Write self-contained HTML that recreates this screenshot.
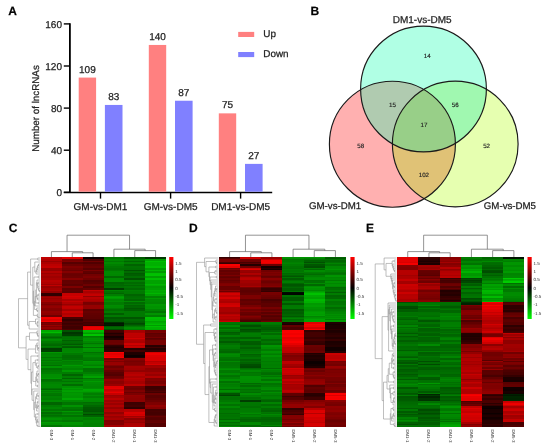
<!DOCTYPE html>
<html><head><meta charset="utf-8"><title>Figure</title>
<style>html,body{margin:0;padding:0;background:#fff;} body{width:550px;height:447px;overflow:hidden;font-family:"Liberation Sans", sans-serif;} svg{display:block;will-change:transform;filter:blur(0.35px);} text{stroke:#222;stroke-width:0.25px;text-rendering:geometricPrecision;} text.t{stroke:none;text-rendering:geometricPrecision;} text.v{stroke-width:0.15px;}</style>
</head><body>
<svg width="550" height="447" viewBox="0 0 550 447" font-family='"Liberation Sans", sans-serif'><text x="8.2" y="15" font-size="12" font-weight="bold">A</text>
<line x1="69.9" y1="23.30" x2="69.9" y2="192.90" stroke="#000" stroke-width="1.8"/>
<line x1="63.8" y1="192.30" x2="69.9" y2="192.30" stroke="#000" stroke-width="1.4"/>
<text x="62" y="196.30" font-size="10" text-anchor="end" fill="#222">0</text>
<line x1="63.8" y1="150.20" x2="69.9" y2="150.20" stroke="#000" stroke-width="1.4"/>
<text x="62" y="154.20" font-size="10" text-anchor="end" fill="#222">40</text>
<line x1="63.8" y1="108.10" x2="69.9" y2="108.10" stroke="#000" stroke-width="1.4"/>
<text x="62" y="112.10" font-size="10" text-anchor="end" fill="#222">80</text>
<line x1="63.8" y1="66.00" x2="69.9" y2="66.00" stroke="#000" stroke-width="1.4"/>
<text x="62" y="70.00" font-size="10" text-anchor="end" fill="#222">120</text>
<line x1="63.8" y1="23.90" x2="69.9" y2="23.90" stroke="#000" stroke-width="1.4"/>
<text x="62" y="27.90" font-size="10" text-anchor="end" fill="#222">160</text>
<line x1="63.8" y1="192.5" x2="272.2" y2="192.5" stroke="#000" stroke-width="1.5"/>
<line x1="100.5" y1="192.3" x2="100.5" y2="198.6" stroke="#000" stroke-width="1.4"/>
<rect x="78.70" y="77.58" width="17.40" height="114.12" fill="#FF8080"/>
<rect x="104.90" y="104.94" width="17.60" height="86.76" fill="#8080FF"/>
<text x="87.40" y="72.68" font-size="10" text-anchor="middle" fill="#222">109</text>
<text x="113.70" y="100.04" font-size="10" text-anchor="middle" fill="#222">83</text>
<text x="100.5" y="209.6" font-size="10" text-anchor="middle" fill="#222">GM-vs-DM1</text>
<line x1="170.6" y1="192.3" x2="170.6" y2="198.6" stroke="#000" stroke-width="1.4"/>
<rect x="148.80" y="44.95" width="17.40" height="146.75" fill="#FF8080"/>
<rect x="175.00" y="100.73" width="17.60" height="90.97" fill="#8080FF"/>
<text x="157.50" y="40.05" font-size="10" text-anchor="middle" fill="#222">140</text>
<text x="183.80" y="95.83" font-size="10" text-anchor="middle" fill="#222">87</text>
<text x="170.6" y="209.6" font-size="10" text-anchor="middle" fill="#222">GM-vs-DM5</text>
<line x1="240.6" y1="192.3" x2="240.6" y2="198.6" stroke="#000" stroke-width="1.4"/>
<rect x="218.80" y="113.36" width="17.40" height="78.34" fill="#FF8080"/>
<rect x="245.00" y="163.88" width="17.60" height="27.82" fill="#8080FF"/>
<text x="227.50" y="108.46" font-size="10" text-anchor="middle" fill="#222">75</text>
<text x="253.80" y="158.98" font-size="10" text-anchor="middle" fill="#222">27</text>
<text x="240.6" y="209.6" font-size="10" text-anchor="middle" fill="#222">DM1-vs-DM5</text>
<text transform="translate(38.6,108.5) rotate(-90)" font-size="9.8" text-anchor="middle" fill="#222">Number of lncRNAs</text>
<rect x="238.2" y="31.9" width="16" height="5.1" fill="#FF8080"/>
<rect x="238.2" y="52" width="16" height="5.1" fill="#8080FF"/>
<text x="263.3" y="37.0" font-size="9.9" fill="#222">Up</text>
<text x="263.3" y="56.8" font-size="9.9" fill="#222">Down</text>
<text x="310.5" y="14.7" font-size="12" font-weight="bold">B</text>
<defs>
<clipPath id="cL"><circle cx="392.4" cy="144.2" r="63.0" /></clipPath>
<clipPath id="cT"><circle cx="423.5" cy="89.0" r="62.9" /></clipPath>
<clipPath id="cR"><circle cx="455.25" cy="144.0" r="62.85" /></clipPath>
</defs>
<circle cx="392.4" cy="144.2" r="63.0" fill="#FFB0B0"/>
<circle cx="423.5" cy="89.0" r="62.9" fill="#B0FFE4"/>
<circle cx="455.25" cy="144.0" r="62.85" fill="#E6FFB0"/>
<g clip-path="url(#cL)"><circle cx="423.5" cy="89.0" r="62.9" fill="#B0CBB0"/></g>
<g clip-path="url(#cT)"><circle cx="455.25" cy="144.0" r="62.85" fill="#A0F8B0"/></g>
<g clip-path="url(#cL)"><circle cx="455.25" cy="144.0" r="62.85" fill="#E0C276"/></g>
<g clip-path="url(#cL)"><g clip-path="url(#cT)"><circle cx="455.25" cy="144.0" r="62.85" fill="#98CF88"/></g></g>
<circle cx="392.4" cy="144.2" r="63.0" fill="none" stroke="#1a1a1a" stroke-width="1.15"/>
<circle cx="423.5" cy="89.0" r="62.9" fill="none" stroke="#1a1a1a" stroke-width="1.15"/>
<circle cx="455.25" cy="144.0" r="62.85" fill="none" stroke="#1a1a1a" stroke-width="1.15"/>
<text class="v" x="427.2" y="57.7" font-size="6.2" text-anchor="middle" fill="#222">14</text>
<text class="v" x="392.5" y="107.3" font-size="6.2" text-anchor="middle" fill="#222">15</text>
<text class="v" x="455.2" y="107.3" font-size="6.2" text-anchor="middle" fill="#222">56</text>
<text class="v" x="424" y="127.3" font-size="6.2" text-anchor="middle" fill="#222">17</text>
<text class="v" x="360.7" y="148.2" font-size="6.2" text-anchor="middle" fill="#222">58</text>
<text class="v" x="486.6" y="148.2" font-size="6.2" text-anchor="middle" fill="#222">52</text>
<text class="v" x="423.9" y="177.3" font-size="6.2" text-anchor="middle" fill="#222">102</text>
<text x="422.2" y="23.2" font-size="10" text-anchor="middle" fill="#222">DM1-vs-DM5</text>
<text x="309" y="209.4" font-size="9.7" fill="#222">GM-vs-DM1</text>
<text x="483.8" y="209.4" font-size="9.7" fill="#222">GM-vs-DM5</text>
<text x="8.8" y="231.6" font-size="12" font-weight="bold">C</text>
<g shape-rendering="crispEdges">
<rect x="41" y="257" width="21" height="2" fill="rgb(192,0,0)"/>
<rect x="62" y="257" width="21" height="2" fill="rgb(225,0,0)"/>
<rect x="83" y="257" width="21" height="2" fill="rgb(13,0,0)"/>
<rect x="104" y="257" width="20" height="2" fill="rgb(0,118,0)"/>
<rect x="124" y="257" width="21" height="2" fill="rgb(0,89,0)"/>
<rect x="145" y="257" width="21" height="2" fill="rgb(0,56,0)"/>
<rect x="41" y="259" width="21" height="2" fill="rgb(178,0,0)"/>
<rect x="62" y="259" width="21" height="2" fill="rgb(118,0,0)"/>
<rect x="83" y="259" width="21" height="2" fill="rgb(76,0,0)"/>
<rect x="104" y="259" width="20" height="2" fill="rgb(0,135,0)"/>
<rect x="124" y="259" width="21" height="2" fill="rgb(0,123,0)"/>
<rect x="145" y="259" width="21" height="2" fill="rgb(0,160,0)"/>
<rect x="41" y="261" width="21" height="1" fill="rgb(151,0,0)"/>
<rect x="62" y="261" width="21" height="1" fill="rgb(126,0,0)"/>
<rect x="83" y="261" width="21" height="1" fill="rgb(112,0,0)"/>
<rect x="104" y="261" width="20" height="1" fill="rgb(0,120,0)"/>
<rect x="124" y="261" width="21" height="1" fill="rgb(0,100,0)"/>
<rect x="145" y="261" width="21" height="1" fill="rgb(0,191,0)"/>
<rect x="41" y="262" width="21" height="2" fill="rgb(173,0,0)"/>
<rect x="62" y="262" width="21" height="2" fill="rgb(87,0,0)"/>
<rect x="83" y="262" width="21" height="2" fill="rgb(80,0,0)"/>
<rect x="104" y="262" width="20" height="2" fill="rgb(0,138,0)"/>
<rect x="124" y="262" width="21" height="2" fill="rgb(0,125,0)"/>
<rect x="145" y="262" width="21" height="2" fill="rgb(0,176,0)"/>
<rect x="41" y="264" width="21" height="2" fill="rgb(188,0,0)"/>
<rect x="62" y="264" width="21" height="2" fill="rgb(106,0,0)"/>
<rect x="83" y="264" width="21" height="2" fill="rgb(98,0,0)"/>
<rect x="104" y="264" width="20" height="2" fill="rgb(0,127,0)"/>
<rect x="124" y="264" width="21" height="2" fill="rgb(0,98,0)"/>
<rect x="145" y="264" width="21" height="2" fill="rgb(0,176,0)"/>
<rect x="41" y="266" width="21" height="2" fill="rgb(195,0,0)"/>
<rect x="62" y="266" width="21" height="2" fill="rgb(126,0,0)"/>
<rect x="83" y="266" width="21" height="2" fill="rgb(106,0,0)"/>
<rect x="104" y="266" width="20" height="2" fill="rgb(0,118,0)"/>
<rect x="124" y="266" width="21" height="2" fill="rgb(0,113,0)"/>
<rect x="145" y="266" width="21" height="2" fill="rgb(0,187,0)"/>
<rect x="41" y="268" width="21" height="2" fill="rgb(152,0,0)"/>
<rect x="62" y="268" width="21" height="2" fill="rgb(116,0,0)"/>
<rect x="83" y="268" width="21" height="2" fill="rgb(88,0,0)"/>
<rect x="104" y="268" width="20" height="2" fill="rgb(0,112,0)"/>
<rect x="124" y="268" width="21" height="2" fill="rgb(0,110,0)"/>
<rect x="145" y="268" width="21" height="2" fill="rgb(0,153,0)"/>
<rect x="41" y="270" width="21" height="1" fill="rgb(149,0,0)"/>
<rect x="62" y="270" width="21" height="1" fill="rgb(106,0,0)"/>
<rect x="83" y="270" width="21" height="1" fill="rgb(123,0,0)"/>
<rect x="104" y="270" width="20" height="1" fill="rgb(0,120,0)"/>
<rect x="124" y="270" width="21" height="1" fill="rgb(0,80,0)"/>
<rect x="145" y="270" width="21" height="1" fill="rgb(0,179,0)"/>
<rect x="41" y="271" width="21" height="2" fill="rgb(178,0,0)"/>
<rect x="62" y="271" width="21" height="2" fill="rgb(131,0,0)"/>
<rect x="83" y="271" width="21" height="2" fill="rgb(96,0,0)"/>
<rect x="104" y="271" width="20" height="2" fill="rgb(0,136,0)"/>
<rect x="124" y="271" width="21" height="2" fill="rgb(0,107,0)"/>
<rect x="145" y="271" width="21" height="2" fill="rgb(0,153,0)"/>
<rect x="41" y="273" width="21" height="1" fill="rgb(154,0,0)"/>
<rect x="62" y="273" width="21" height="1" fill="rgb(108,0,0)"/>
<rect x="83" y="273" width="21" height="1" fill="rgb(89,0,0)"/>
<rect x="104" y="273" width="20" height="1" fill="rgb(0,138,0)"/>
<rect x="124" y="273" width="21" height="1" fill="rgb(0,88,0)"/>
<rect x="145" y="273" width="21" height="1" fill="rgb(0,190,0)"/>
<rect x="41" y="274" width="21" height="2" fill="rgb(169,0,0)"/>
<rect x="62" y="274" width="21" height="2" fill="rgb(105,0,0)"/>
<rect x="83" y="274" width="21" height="2" fill="rgb(115,0,0)"/>
<rect x="104" y="274" width="20" height="2" fill="rgb(0,135,0)"/>
<rect x="124" y="274" width="21" height="2" fill="rgb(0,94,0)"/>
<rect x="145" y="274" width="21" height="2" fill="rgb(0,193,0)"/>
<rect x="41" y="276" width="21" height="2" fill="rgb(158,0,0)"/>
<rect x="62" y="276" width="21" height="2" fill="rgb(109,0,0)"/>
<rect x="83" y="276" width="21" height="2" fill="rgb(125,0,0)"/>
<rect x="104" y="276" width="20" height="2" fill="rgb(0,105,0)"/>
<rect x="124" y="276" width="21" height="2" fill="rgb(0,108,0)"/>
<rect x="145" y="276" width="21" height="2" fill="rgb(0,157,0)"/>
<rect x="41" y="278" width="21" height="2" fill="rgb(167,0,0)"/>
<rect x="62" y="278" width="21" height="2" fill="rgb(134,0,0)"/>
<rect x="83" y="278" width="21" height="2" fill="rgb(111,0,0)"/>
<rect x="104" y="278" width="20" height="2" fill="rgb(0,136,0)"/>
<rect x="124" y="278" width="21" height="2" fill="rgb(0,80,0)"/>
<rect x="145" y="278" width="21" height="2" fill="rgb(0,188,0)"/>
<rect x="41" y="280" width="21" height="2" fill="rgb(184,0,0)"/>
<rect x="62" y="280" width="21" height="2" fill="rgb(98,0,0)"/>
<rect x="83" y="280" width="21" height="2" fill="rgb(84,0,0)"/>
<rect x="104" y="280" width="20" height="2" fill="rgb(0,137,0)"/>
<rect x="124" y="280" width="21" height="2" fill="rgb(0,123,0)"/>
<rect x="145" y="280" width="21" height="2" fill="rgb(0,162,0)"/>
<rect x="41" y="282" width="21" height="2" fill="rgb(176,0,0)"/>
<rect x="62" y="282" width="21" height="2" fill="rgb(100,0,0)"/>
<rect x="83" y="282" width="21" height="2" fill="rgb(90,0,0)"/>
<rect x="104" y="282" width="20" height="2" fill="rgb(0,99,0)"/>
<rect x="124" y="282" width="21" height="2" fill="rgb(0,106,0)"/>
<rect x="145" y="282" width="21" height="2" fill="rgb(0,162,0)"/>
<rect x="41" y="284" width="21" height="1" fill="rgb(157,0,0)"/>
<rect x="62" y="284" width="21" height="1" fill="rgb(91,0,0)"/>
<rect x="83" y="284" width="21" height="1" fill="rgb(109,0,0)"/>
<rect x="104" y="284" width="20" height="1" fill="rgb(0,105,0)"/>
<rect x="124" y="284" width="21" height="1" fill="rgb(0,116,0)"/>
<rect x="145" y="284" width="21" height="1" fill="rgb(0,180,0)"/>
<rect x="41" y="285" width="21" height="1" fill="rgb(192,0,0)"/>
<rect x="62" y="285" width="21" height="1" fill="rgb(93,0,0)"/>
<rect x="83" y="285" width="21" height="1" fill="rgb(111,0,0)"/>
<rect x="104" y="285" width="20" height="1" fill="rgb(0,102,0)"/>
<rect x="124" y="285" width="21" height="1" fill="rgb(0,101,0)"/>
<rect x="145" y="285" width="21" height="1" fill="rgb(0,169,0)"/>
<rect x="41" y="286" width="21" height="2" fill="rgb(150,0,0)"/>
<rect x="62" y="286" width="21" height="2" fill="rgb(125,0,0)"/>
<rect x="83" y="286" width="21" height="2" fill="rgb(82,0,0)"/>
<rect x="104" y="286" width="20" height="2" fill="rgb(0,110,0)"/>
<rect x="124" y="286" width="21" height="2" fill="rgb(0,115,0)"/>
<rect x="145" y="286" width="21" height="2" fill="rgb(0,151,0)"/>
<rect x="41" y="288" width="21" height="2" fill="rgb(162,0,0)"/>
<rect x="62" y="288" width="21" height="2" fill="rgb(92,0,0)"/>
<rect x="83" y="288" width="21" height="2" fill="rgb(101,0,0)"/>
<rect x="104" y="288" width="20" height="2" fill="rgb(0,60,0)"/>
<rect x="124" y="288" width="21" height="2" fill="rgb(0,103,0)"/>
<rect x="145" y="288" width="21" height="2" fill="rgb(0,157,0)"/>
<rect x="41" y="290" width="21" height="1" fill="rgb(171,0,0)"/>
<rect x="62" y="290" width="21" height="1" fill="rgb(96,0,0)"/>
<rect x="83" y="290" width="21" height="1" fill="rgb(194,0,0)"/>
<rect x="104" y="290" width="20" height="1" fill="rgb(0,131,0)"/>
<rect x="124" y="290" width="21" height="1" fill="rgb(0,126,0)"/>
<rect x="145" y="290" width="21" height="1" fill="rgb(0,171,0)"/>
<rect x="41" y="291" width="21" height="2" fill="rgb(146,0,0)"/>
<rect x="62" y="291" width="21" height="2" fill="rgb(92,0,0)"/>
<rect x="83" y="291" width="21" height="2" fill="rgb(168,0,0)"/>
<rect x="104" y="291" width="20" height="2" fill="rgb(0,115,0)"/>
<rect x="124" y="291" width="21" height="2" fill="rgb(0,121,0)"/>
<rect x="145" y="291" width="21" height="2" fill="rgb(0,166,0)"/>
<rect x="41" y="293" width="21" height="1" fill="rgb(50,0,0)"/>
<rect x="62" y="293" width="21" height="1" fill="rgb(197,0,0)"/>
<rect x="83" y="293" width="21" height="1" fill="rgb(183,0,0)"/>
<rect x="104" y="293" width="20" height="1" fill="rgb(0,102,0)"/>
<rect x="124" y="293" width="21" height="1" fill="rgb(0,120,0)"/>
<rect x="145" y="293" width="21" height="1" fill="rgb(0,182,0)"/>
<rect x="41" y="294" width="21" height="2" fill="rgb(48,0,0)"/>
<rect x="62" y="294" width="21" height="2" fill="rgb(199,0,0)"/>
<rect x="83" y="294" width="21" height="2" fill="rgb(196,0,0)"/>
<rect x="104" y="294" width="20" height="2" fill="rgb(0,126,0)"/>
<rect x="124" y="294" width="21" height="2" fill="rgb(0,99,0)"/>
<rect x="145" y="294" width="21" height="2" fill="rgb(0,161,0)"/>
<rect x="41" y="296" width="21" height="1" fill="rgb(146,0,0)"/>
<rect x="62" y="296" width="21" height="1" fill="rgb(213,0,0)"/>
<rect x="83" y="296" width="21" height="1" fill="rgb(146,0,0)"/>
<rect x="104" y="296" width="20" height="1" fill="rgb(0,152,0)"/>
<rect x="124" y="296" width="21" height="1" fill="rgb(0,108,0)"/>
<rect x="145" y="296" width="21" height="1" fill="rgb(0,128,0)"/>
<rect x="41" y="297" width="21" height="1" fill="rgb(164,0,0)"/>
<rect x="62" y="297" width="21" height="1" fill="rgb(203,0,0)"/>
<rect x="83" y="297" width="21" height="1" fill="rgb(185,0,0)"/>
<rect x="104" y="297" width="20" height="1" fill="rgb(0,161,0)"/>
<rect x="124" y="297" width="21" height="1" fill="rgb(0,110,0)"/>
<rect x="145" y="297" width="21" height="1" fill="rgb(0,128,0)"/>
<rect x="41" y="298" width="21" height="1" fill="rgb(151,0,0)"/>
<rect x="62" y="298" width="21" height="1" fill="rgb(203,0,0)"/>
<rect x="83" y="298" width="21" height="1" fill="rgb(183,0,0)"/>
<rect x="104" y="298" width="20" height="1" fill="rgb(0,151,0)"/>
<rect x="124" y="298" width="21" height="1" fill="rgb(0,113,0)"/>
<rect x="145" y="298" width="21" height="1" fill="rgb(0,151,0)"/>
<rect x="41" y="299" width="21" height="2" fill="rgb(159,0,0)"/>
<rect x="62" y="299" width="21" height="2" fill="rgb(170,0,0)"/>
<rect x="83" y="299" width="21" height="2" fill="rgb(172,0,0)"/>
<rect x="104" y="299" width="20" height="2" fill="rgb(0,132,0)"/>
<rect x="124" y="299" width="21" height="2" fill="rgb(0,102,0)"/>
<rect x="145" y="299" width="21" height="2" fill="rgb(0,136,0)"/>
<rect x="41" y="301" width="21" height="1" fill="rgb(165,0,0)"/>
<rect x="62" y="301" width="21" height="1" fill="rgb(193,0,0)"/>
<rect x="83" y="301" width="21" height="1" fill="rgb(163,0,0)"/>
<rect x="104" y="301" width="20" height="1" fill="rgb(0,139,0)"/>
<rect x="124" y="301" width="21" height="1" fill="rgb(0,137,0)"/>
<rect x="145" y="301" width="21" height="1" fill="rgb(0,135,0)"/>
<rect x="41" y="302" width="21" height="2" fill="rgb(136,0,0)"/>
<rect x="62" y="302" width="21" height="2" fill="rgb(174,0,0)"/>
<rect x="83" y="302" width="21" height="2" fill="rgb(120,0,0)"/>
<rect x="104" y="302" width="20" height="2" fill="rgb(0,123,0)"/>
<rect x="124" y="302" width="21" height="2" fill="rgb(0,105,0)"/>
<rect x="145" y="302" width="21" height="2" fill="rgb(0,132,0)"/>
<rect x="41" y="304" width="21" height="1" fill="rgb(121,0,0)"/>
<rect x="62" y="304" width="21" height="1" fill="rgb(152,0,0)"/>
<rect x="83" y="304" width="21" height="1" fill="rgb(123,0,0)"/>
<rect x="104" y="304" width="20" height="1" fill="rgb(0,124,0)"/>
<rect x="124" y="304" width="21" height="1" fill="rgb(0,118,0)"/>
<rect x="145" y="304" width="21" height="1" fill="rgb(0,152,0)"/>
<rect x="41" y="305" width="21" height="1" fill="rgb(139,0,0)"/>
<rect x="62" y="305" width="21" height="1" fill="rgb(172,0,0)"/>
<rect x="83" y="305" width="21" height="1" fill="rgb(149,0,0)"/>
<rect x="104" y="305" width="20" height="1" fill="rgb(0,140,0)"/>
<rect x="124" y="305" width="21" height="1" fill="rgb(0,98,0)"/>
<rect x="145" y="305" width="21" height="1" fill="rgb(0,151,0)"/>
<rect x="41" y="306" width="21" height="2" fill="rgb(146,0,0)"/>
<rect x="62" y="306" width="21" height="2" fill="rgb(194,0,0)"/>
<rect x="83" y="306" width="21" height="2" fill="rgb(149,0,0)"/>
<rect x="104" y="306" width="20" height="2" fill="rgb(0,137,0)"/>
<rect x="124" y="306" width="21" height="2" fill="rgb(0,102,0)"/>
<rect x="145" y="306" width="21" height="2" fill="rgb(0,146,0)"/>
<rect x="41" y="308" width="21" height="1" fill="rgb(132,0,0)"/>
<rect x="62" y="308" width="21" height="1" fill="rgb(190,0,0)"/>
<rect x="83" y="308" width="21" height="1" fill="rgb(148,0,0)"/>
<rect x="104" y="308" width="20" height="1" fill="rgb(0,123,0)"/>
<rect x="124" y="308" width="21" height="1" fill="rgb(0,87,0)"/>
<rect x="145" y="308" width="21" height="1" fill="rgb(0,148,0)"/>
<rect x="41" y="309" width="21" height="2" fill="rgb(130,0,0)"/>
<rect x="62" y="309" width="21" height="2" fill="rgb(164,0,0)"/>
<rect x="83" y="309" width="21" height="2" fill="rgb(93,0,0)"/>
<rect x="104" y="309" width="20" height="2" fill="rgb(0,109,0)"/>
<rect x="124" y="309" width="21" height="2" fill="rgb(0,95,0)"/>
<rect x="145" y="309" width="21" height="2" fill="rgb(0,132,0)"/>
<rect x="41" y="311" width="21" height="2" fill="rgb(147,0,0)"/>
<rect x="62" y="311" width="21" height="2" fill="rgb(197,0,0)"/>
<rect x="83" y="311" width="21" height="2" fill="rgb(103,0,0)"/>
<rect x="104" y="311" width="20" height="2" fill="rgb(0,123,0)"/>
<rect x="124" y="311" width="21" height="2" fill="rgb(0,120,0)"/>
<rect x="145" y="311" width="21" height="2" fill="rgb(0,116,0)"/>
<rect x="41" y="313" width="21" height="2" fill="rgb(141,0,0)"/>
<rect x="62" y="313" width="21" height="2" fill="rgb(178,0,0)"/>
<rect x="83" y="313" width="21" height="2" fill="rgb(97,0,0)"/>
<rect x="104" y="313" width="20" height="2" fill="rgb(0,93,0)"/>
<rect x="124" y="313" width="21" height="2" fill="rgb(0,120,0)"/>
<rect x="145" y="313" width="21" height="2" fill="rgb(0,148,0)"/>
<rect x="41" y="315" width="21" height="2" fill="rgb(111,0,0)"/>
<rect x="62" y="315" width="21" height="2" fill="rgb(190,0,0)"/>
<rect x="83" y="315" width="21" height="2" fill="rgb(94,0,0)"/>
<rect x="104" y="315" width="20" height="2" fill="rgb(0,120,0)"/>
<rect x="124" y="315" width="21" height="2" fill="rgb(0,119,0)"/>
<rect x="145" y="315" width="21" height="2" fill="rgb(0,126,0)"/>
<rect x="41" y="317" width="21" height="2" fill="rgb(241,0,0)"/>
<rect x="62" y="317" width="21" height="2" fill="rgb(73,0,0)"/>
<rect x="83" y="317" width="21" height="2" fill="rgb(92,0,0)"/>
<rect x="104" y="317" width="20" height="2" fill="rgb(0,86,0)"/>
<rect x="124" y="317" width="21" height="2" fill="rgb(0,85,0)"/>
<rect x="145" y="317" width="21" height="2" fill="rgb(0,189,0)"/>
<rect x="41" y="319" width="21" height="2" fill="rgb(219,0,0)"/>
<rect x="62" y="319" width="21" height="2" fill="rgb(49,0,0)"/>
<rect x="83" y="319" width="21" height="2" fill="rgb(78,0,0)"/>
<rect x="104" y="319" width="20" height="2" fill="rgb(0,96,0)"/>
<rect x="124" y="319" width="21" height="2" fill="rgb(0,105,0)"/>
<rect x="145" y="319" width="21" height="2" fill="rgb(0,185,0)"/>
<rect x="41" y="321" width="21" height="1" fill="rgb(244,0,0)"/>
<rect x="62" y="321" width="21" height="1" fill="rgb(68,0,0)"/>
<rect x="83" y="321" width="21" height="1" fill="rgb(84,0,0)"/>
<rect x="104" y="321" width="20" height="1" fill="rgb(0,94,0)"/>
<rect x="124" y="321" width="21" height="1" fill="rgb(0,97,0)"/>
<rect x="145" y="321" width="21" height="1" fill="rgb(0,161,0)"/>
<rect x="41" y="322" width="21" height="1" fill="rgb(114,0,0)"/>
<rect x="62" y="322" width="21" height="1" fill="rgb(72,0,0)"/>
<rect x="83" y="322" width="21" height="1" fill="rgb(64,0,0)"/>
<rect x="104" y="322" width="20" height="1" fill="rgb(0,46,0)"/>
<rect x="124" y="322" width="21" height="1" fill="rgb(0,94,0)"/>
<rect x="145" y="322" width="21" height="1" fill="rgb(0,169,0)"/>
<rect x="41" y="323" width="21" height="1" fill="rgb(127,0,0)"/>
<rect x="62" y="323" width="21" height="1" fill="rgb(58,0,0)"/>
<rect x="83" y="323" width="21" height="1" fill="rgb(70,0,0)"/>
<rect x="104" y="323" width="20" height="1" fill="rgb(0,24,0)"/>
<rect x="124" y="323" width="21" height="1" fill="rgb(0,74,0)"/>
<rect x="145" y="323" width="21" height="1" fill="rgb(0,176,0)"/>
<rect x="41" y="324" width="21" height="1" fill="rgb(119,0,0)"/>
<rect x="62" y="324" width="21" height="1" fill="rgb(64,0,0)"/>
<rect x="83" y="324" width="21" height="1" fill="rgb(68,0,0)"/>
<rect x="104" y="324" width="20" height="1" fill="rgb(0,29,0)"/>
<rect x="124" y="324" width="21" height="1" fill="rgb(0,83,0)"/>
<rect x="145" y="324" width="21" height="1" fill="rgb(0,188,0)"/>
<rect x="41" y="325" width="21" height="1" fill="rgb(153,0,0)"/>
<rect x="62" y="325" width="21" height="1" fill="rgb(74,0,0)"/>
<rect x="83" y="325" width="21" height="1" fill="rgb(57,0,0)"/>
<rect x="104" y="325" width="20" height="1" fill="rgb(0,24,0)"/>
<rect x="124" y="325" width="21" height="1" fill="rgb(0,100,0)"/>
<rect x="145" y="325" width="21" height="1" fill="rgb(0,156,0)"/>
<rect x="41" y="326" width="21" height="1" fill="rgb(125,0,0)"/>
<rect x="62" y="326" width="21" height="1" fill="rgb(63,0,0)"/>
<rect x="83" y="326" width="21" height="1" fill="rgb(216,0,0)"/>
<rect x="104" y="326" width="20" height="1" fill="rgb(0,90,0)"/>
<rect x="124" y="326" width="21" height="1" fill="rgb(0,120,0)"/>
<rect x="145" y="326" width="21" height="1" fill="rgb(0,190,0)"/>
<rect x="41" y="327" width="21" height="2" fill="rgb(146,0,0)"/>
<rect x="62" y="327" width="21" height="2" fill="rgb(63,0,0)"/>
<rect x="83" y="327" width="21" height="2" fill="rgb(234,0,0)"/>
<rect x="104" y="327" width="20" height="2" fill="rgb(0,106,0)"/>
<rect x="124" y="327" width="21" height="2" fill="rgb(0,139,0)"/>
<rect x="145" y="327" width="21" height="2" fill="rgb(0,176,0)"/>
<rect x="41" y="329" width="21" height="1" fill="rgb(117,0,0)"/>
<rect x="62" y="329" width="21" height="1" fill="rgb(80,0,0)"/>
<rect x="83" y="329" width="21" height="1" fill="rgb(230,0,0)"/>
<rect x="104" y="329" width="20" height="1" fill="rgb(0,78,0)"/>
<rect x="124" y="329" width="21" height="1" fill="rgb(0,124,0)"/>
<rect x="145" y="329" width="21" height="1" fill="rgb(0,168,0)"/>
<rect x="41" y="330" width="21" height="2" fill="rgb(0,168,0)"/>
<rect x="62" y="330" width="21" height="2" fill="rgb(0,84,0)"/>
<rect x="83" y="330" width="21" height="2" fill="rgb(0,188,0)"/>
<rect x="104" y="330" width="20" height="2" fill="rgb(68,0,0)"/>
<rect x="124" y="330" width="21" height="2" fill="rgb(165,0,0)"/>
<rect x="145" y="330" width="21" height="2" fill="rgb(115,0,0)"/>
<rect x="41" y="332" width="21" height="1" fill="rgb(0,188,0)"/>
<rect x="62" y="332" width="21" height="1" fill="rgb(0,54,0)"/>
<rect x="83" y="332" width="21" height="1" fill="rgb(0,172,0)"/>
<rect x="104" y="332" width="20" height="1" fill="rgb(60,0,0)"/>
<rect x="124" y="332" width="21" height="1" fill="rgb(169,0,0)"/>
<rect x="145" y="332" width="21" height="1" fill="rgb(120,0,0)"/>
<rect x="41" y="333" width="21" height="1" fill="rgb(0,145,0)"/>
<rect x="62" y="333" width="21" height="1" fill="rgb(0,54,0)"/>
<rect x="83" y="333" width="21" height="1" fill="rgb(0,153,0)"/>
<rect x="104" y="333" width="20" height="1" fill="rgb(34,0,0)"/>
<rect x="124" y="333" width="21" height="1" fill="rgb(193,0,0)"/>
<rect x="145" y="333" width="21" height="1" fill="rgb(93,0,0)"/>
<rect x="41" y="334" width="21" height="2" fill="rgb(0,132,0)"/>
<rect x="62" y="334" width="21" height="2" fill="rgb(0,63,0)"/>
<rect x="83" y="334" width="21" height="2" fill="rgb(0,197,0)"/>
<rect x="104" y="334" width="20" height="2" fill="rgb(50,0,0)"/>
<rect x="124" y="334" width="21" height="2" fill="rgb(190,0,0)"/>
<rect x="145" y="334" width="21" height="2" fill="rgb(101,0,0)"/>
<rect x="41" y="336" width="21" height="1" fill="rgb(0,116,0)"/>
<rect x="62" y="336" width="21" height="1" fill="rgb(0,105,0)"/>
<rect x="83" y="336" width="21" height="1" fill="rgb(0,124,0)"/>
<rect x="104" y="336" width="20" height="1" fill="rgb(20,0,0)"/>
<rect x="124" y="336" width="21" height="1" fill="rgb(191,0,0)"/>
<rect x="145" y="336" width="21" height="1" fill="rgb(101,0,0)"/>
<rect x="41" y="337" width="21" height="1" fill="rgb(0,100,0)"/>
<rect x="62" y="337" width="21" height="1" fill="rgb(0,115,0)"/>
<rect x="83" y="337" width="21" height="1" fill="rgb(0,133,0)"/>
<rect x="104" y="337" width="20" height="1" fill="rgb(21,0,0)"/>
<rect x="124" y="337" width="21" height="1" fill="rgb(186,0,0)"/>
<rect x="145" y="337" width="21" height="1" fill="rgb(119,0,0)"/>
<rect x="41" y="338" width="21" height="1" fill="rgb(0,119,0)"/>
<rect x="62" y="338" width="21" height="1" fill="rgb(0,113,0)"/>
<rect x="83" y="338" width="21" height="1" fill="rgb(0,146,0)"/>
<rect x="104" y="338" width="20" height="1" fill="rgb(37,0,0)"/>
<rect x="124" y="338" width="21" height="1" fill="rgb(209,0,0)"/>
<rect x="145" y="338" width="21" height="1" fill="rgb(90,0,0)"/>
<rect x="41" y="339" width="21" height="1" fill="rgb(0,139,0)"/>
<rect x="62" y="339" width="21" height="1" fill="rgb(0,118,0)"/>
<rect x="83" y="339" width="21" height="1" fill="rgb(0,144,0)"/>
<rect x="104" y="339" width="20" height="1" fill="rgb(40,0,0)"/>
<rect x="124" y="339" width="21" height="1" fill="rgb(181,0,0)"/>
<rect x="145" y="339" width="21" height="1" fill="rgb(99,0,0)"/>
<rect x="41" y="340" width="21" height="1" fill="rgb(0,136,0)"/>
<rect x="62" y="340" width="21" height="1" fill="rgb(0,95,0)"/>
<rect x="83" y="340" width="21" height="1" fill="rgb(0,149,0)"/>
<rect x="104" y="340" width="20" height="1" fill="rgb(106,0,0)"/>
<rect x="124" y="340" width="21" height="1" fill="rgb(177,0,0)"/>
<rect x="145" y="340" width="21" height="1" fill="rgb(119,0,0)"/>
<rect x="41" y="341" width="21" height="2" fill="rgb(0,121,0)"/>
<rect x="62" y="341" width="21" height="2" fill="rgb(0,110,0)"/>
<rect x="83" y="341" width="21" height="2" fill="rgb(0,136,0)"/>
<rect x="104" y="341" width="20" height="2" fill="rgb(106,0,0)"/>
<rect x="124" y="341" width="21" height="2" fill="rgb(173,0,0)"/>
<rect x="145" y="341" width="21" height="2" fill="rgb(119,0,0)"/>
<rect x="41" y="343" width="21" height="1" fill="rgb(0,112,0)"/>
<rect x="62" y="343" width="21" height="1" fill="rgb(0,104,0)"/>
<rect x="83" y="343" width="21" height="1" fill="rgb(0,117,0)"/>
<rect x="104" y="343" width="20" height="1" fill="rgb(110,0,0)"/>
<rect x="124" y="343" width="21" height="1" fill="rgb(206,0,0)"/>
<rect x="145" y="343" width="21" height="1" fill="rgb(120,0,0)"/>
<rect x="41" y="344" width="21" height="1" fill="rgb(0,105,0)"/>
<rect x="62" y="344" width="21" height="1" fill="rgb(0,88,0)"/>
<rect x="83" y="344" width="21" height="1" fill="rgb(0,140,0)"/>
<rect x="104" y="344" width="20" height="1" fill="rgb(97,0,0)"/>
<rect x="124" y="344" width="21" height="1" fill="rgb(209,0,0)"/>
<rect x="145" y="344" width="21" height="1" fill="rgb(120,0,0)"/>
<rect x="41" y="345" width="21" height="1" fill="rgb(0,102,0)"/>
<rect x="62" y="345" width="21" height="1" fill="rgb(0,121,0)"/>
<rect x="83" y="345" width="21" height="1" fill="rgb(0,144,0)"/>
<rect x="104" y="345" width="20" height="1" fill="rgb(52,0,0)"/>
<rect x="124" y="345" width="21" height="1" fill="rgb(178,0,0)"/>
<rect x="145" y="345" width="21" height="1" fill="rgb(41,0,0)"/>
<rect x="41" y="346" width="21" height="1" fill="rgb(0,122,0)"/>
<rect x="62" y="346" width="21" height="1" fill="rgb(0,93,0)"/>
<rect x="83" y="346" width="21" height="1" fill="rgb(0,149,0)"/>
<rect x="104" y="346" width="20" height="1" fill="rgb(41,0,0)"/>
<rect x="124" y="346" width="21" height="1" fill="rgb(198,0,0)"/>
<rect x="145" y="346" width="21" height="1" fill="rgb(38,0,0)"/>
<rect x="41" y="347" width="21" height="1" fill="rgb(0,111,0)"/>
<rect x="62" y="347" width="21" height="1" fill="rgb(0,88,0)"/>
<rect x="83" y="347" width="21" height="1" fill="rgb(0,112,0)"/>
<rect x="104" y="347" width="20" height="1" fill="rgb(31,0,0)"/>
<rect x="124" y="347" width="21" height="1" fill="rgb(189,0,0)"/>
<rect x="145" y="347" width="21" height="1" fill="rgb(65,0,0)"/>
<rect x="41" y="348" width="21" height="2" fill="rgb(0,60,0)"/>
<rect x="62" y="348" width="21" height="2" fill="rgb(0,132,0)"/>
<rect x="83" y="348" width="21" height="2" fill="rgb(0,151,0)"/>
<rect x="104" y="348" width="20" height="2" fill="rgb(41,0,0)"/>
<rect x="124" y="348" width="21" height="2" fill="rgb(39,0,0)"/>
<rect x="145" y="348" width="21" height="2" fill="rgb(35,0,0)"/>
<rect x="41" y="350" width="21" height="2" fill="rgb(0,65,0)"/>
<rect x="62" y="350" width="21" height="2" fill="rgb(0,134,0)"/>
<rect x="83" y="350" width="21" height="2" fill="rgb(0,146,0)"/>
<rect x="104" y="350" width="20" height="2" fill="rgb(45,0,0)"/>
<rect x="124" y="350" width="21" height="2" fill="rgb(68,0,0)"/>
<rect x="145" y="350" width="21" height="2" fill="rgb(51,0,0)"/>
<rect x="41" y="352" width="21" height="1" fill="rgb(0,150,0)"/>
<rect x="62" y="352" width="21" height="1" fill="rgb(0,138,0)"/>
<rect x="83" y="352" width="21" height="1" fill="rgb(0,112,0)"/>
<rect x="104" y="352" width="20" height="1" fill="rgb(248,0,0)"/>
<rect x="124" y="352" width="21" height="1" fill="rgb(32,0,0)"/>
<rect x="145" y="352" width="21" height="1" fill="rgb(211,0,0)"/>
<rect x="41" y="353" width="21" height="2" fill="rgb(0,131,0)"/>
<rect x="62" y="353" width="21" height="2" fill="rgb(0,121,0)"/>
<rect x="83" y="353" width="21" height="2" fill="rgb(0,128,0)"/>
<rect x="104" y="353" width="20" height="2" fill="rgb(226,0,0)"/>
<rect x="124" y="353" width="21" height="2" fill="rgb(30,0,0)"/>
<rect x="145" y="353" width="21" height="2" fill="rgb(236,0,0)"/>
<rect x="41" y="355" width="21" height="2" fill="rgb(0,134,0)"/>
<rect x="62" y="355" width="21" height="2" fill="rgb(0,108,0)"/>
<rect x="83" y="355" width="21" height="2" fill="rgb(0,136,0)"/>
<rect x="104" y="355" width="20" height="2" fill="rgb(235,0,0)"/>
<rect x="124" y="355" width="21" height="2" fill="rgb(13,0,0)"/>
<rect x="145" y="355" width="21" height="2" fill="rgb(220,0,0)"/>
<rect x="41" y="357" width="21" height="1" fill="rgb(0,115,0)"/>
<rect x="62" y="357" width="21" height="1" fill="rgb(0,106,0)"/>
<rect x="83" y="357" width="21" height="1" fill="rgb(0,123,0)"/>
<rect x="104" y="357" width="20" height="1" fill="rgb(250,0,0)"/>
<rect x="124" y="357" width="21" height="1" fill="rgb(27,0,0)"/>
<rect x="145" y="357" width="21" height="1" fill="rgb(215,0,0)"/>
<rect x="41" y="358" width="21" height="2" fill="rgb(0,132,0)"/>
<rect x="62" y="358" width="21" height="2" fill="rgb(0,111,0)"/>
<rect x="83" y="358" width="21" height="2" fill="rgb(0,119,0)"/>
<rect x="104" y="358" width="20" height="2" fill="rgb(121,0,0)"/>
<rect x="124" y="358" width="21" height="2" fill="rgb(136,0,0)"/>
<rect x="145" y="358" width="21" height="2" fill="rgb(216,0,0)"/>
<rect x="41" y="360" width="21" height="1" fill="rgb(0,118,0)"/>
<rect x="62" y="360" width="21" height="1" fill="rgb(0,136,0)"/>
<rect x="83" y="360" width="21" height="1" fill="rgb(0,115,0)"/>
<rect x="104" y="360" width="20" height="1" fill="rgb(149,0,0)"/>
<rect x="124" y="360" width="21" height="1" fill="rgb(127,0,0)"/>
<rect x="145" y="360" width="21" height="1" fill="rgb(217,0,0)"/>
<rect x="41" y="361" width="21" height="1" fill="rgb(0,136,0)"/>
<rect x="62" y="361" width="21" height="1" fill="rgb(0,122,0)"/>
<rect x="83" y="361" width="21" height="1" fill="rgb(0,151,0)"/>
<rect x="104" y="361" width="20" height="1" fill="rgb(125,0,0)"/>
<rect x="124" y="361" width="21" height="1" fill="rgb(117,0,0)"/>
<rect x="145" y="361" width="21" height="1" fill="rgb(181,0,0)"/>
<rect x="41" y="362" width="21" height="2" fill="rgb(0,126,0)"/>
<rect x="62" y="362" width="21" height="2" fill="rgb(0,127,0)"/>
<rect x="83" y="362" width="21" height="2" fill="rgb(0,144,0)"/>
<rect x="104" y="362" width="20" height="2" fill="rgb(152,0,0)"/>
<rect x="124" y="362" width="21" height="2" fill="rgb(126,0,0)"/>
<rect x="145" y="362" width="21" height="2" fill="rgb(196,0,0)"/>
<rect x="41" y="364" width="21" height="1" fill="rgb(0,129,0)"/>
<rect x="62" y="364" width="21" height="1" fill="rgb(0,131,0)"/>
<rect x="83" y="364" width="21" height="1" fill="rgb(0,137,0)"/>
<rect x="104" y="364" width="20" height="1" fill="rgb(154,0,0)"/>
<rect x="124" y="364" width="21" height="1" fill="rgb(125,0,0)"/>
<rect x="145" y="364" width="21" height="1" fill="rgb(214,0,0)"/>
<rect x="41" y="365" width="21" height="1" fill="rgb(0,111,0)"/>
<rect x="62" y="365" width="21" height="1" fill="rgb(0,153,0)"/>
<rect x="83" y="365" width="21" height="1" fill="rgb(0,127,0)"/>
<rect x="104" y="365" width="20" height="1" fill="rgb(129,0,0)"/>
<rect x="124" y="365" width="21" height="1" fill="rgb(135,0,0)"/>
<rect x="145" y="365" width="21" height="1" fill="rgb(156,0,0)"/>
<rect x="41" y="366" width="21" height="2" fill="rgb(0,146,0)"/>
<rect x="62" y="366" width="21" height="2" fill="rgb(0,138,0)"/>
<rect x="83" y="366" width="21" height="2" fill="rgb(0,150,0)"/>
<rect x="104" y="366" width="20" height="2" fill="rgb(108,0,0)"/>
<rect x="124" y="366" width="21" height="2" fill="rgb(164,0,0)"/>
<rect x="145" y="366" width="21" height="2" fill="rgb(162,0,0)"/>
<rect x="41" y="368" width="21" height="2" fill="rgb(0,112,0)"/>
<rect x="62" y="368" width="21" height="2" fill="rgb(0,129,0)"/>
<rect x="83" y="368" width="21" height="2" fill="rgb(0,111,0)"/>
<rect x="104" y="368" width="20" height="2" fill="rgb(124,0,0)"/>
<rect x="124" y="368" width="21" height="2" fill="rgb(160,0,0)"/>
<rect x="145" y="368" width="21" height="2" fill="rgb(141,0,0)"/>
<rect x="41" y="370" width="21" height="2" fill="rgb(0,121,0)"/>
<rect x="62" y="370" width="21" height="2" fill="rgb(0,152,0)"/>
<rect x="83" y="370" width="21" height="2" fill="rgb(0,113,0)"/>
<rect x="104" y="370" width="20" height="2" fill="rgb(104,0,0)"/>
<rect x="124" y="370" width="21" height="2" fill="rgb(145,0,0)"/>
<rect x="145" y="370" width="21" height="2" fill="rgb(145,0,0)"/>
<rect x="41" y="372" width="21" height="2" fill="rgb(0,127,0)"/>
<rect x="62" y="372" width="21" height="2" fill="rgb(0,124,0)"/>
<rect x="83" y="372" width="21" height="2" fill="rgb(0,126,0)"/>
<rect x="104" y="372" width="20" height="2" fill="rgb(89,0,0)"/>
<rect x="124" y="372" width="21" height="2" fill="rgb(176,0,0)"/>
<rect x="145" y="372" width="21" height="2" fill="rgb(165,0,0)"/>
<rect x="41" y="374" width="21" height="2" fill="rgb(0,142,0)"/>
<rect x="62" y="374" width="21" height="2" fill="rgb(0,99,0)"/>
<rect x="83" y="374" width="21" height="2" fill="rgb(0,143,0)"/>
<rect x="104" y="374" width="20" height="2" fill="rgb(83,0,0)"/>
<rect x="124" y="374" width="21" height="2" fill="rgb(185,0,0)"/>
<rect x="145" y="374" width="21" height="2" fill="rgb(151,0,0)"/>
<rect x="41" y="376" width="21" height="2" fill="rgb(0,143,0)"/>
<rect x="62" y="376" width="21" height="2" fill="rgb(0,125,0)"/>
<rect x="83" y="376" width="21" height="2" fill="rgb(0,161,0)"/>
<rect x="104" y="376" width="20" height="2" fill="rgb(103,0,0)"/>
<rect x="124" y="376" width="21" height="2" fill="rgb(169,0,0)"/>
<rect x="145" y="376" width="21" height="2" fill="rgb(178,0,0)"/>
<rect x="41" y="378" width="21" height="1" fill="rgb(0,152,0)"/>
<rect x="62" y="378" width="21" height="1" fill="rgb(0,98,0)"/>
<rect x="83" y="378" width="21" height="1" fill="rgb(0,118,0)"/>
<rect x="104" y="378" width="20" height="1" fill="rgb(114,0,0)"/>
<rect x="124" y="378" width="21" height="1" fill="rgb(185,0,0)"/>
<rect x="145" y="378" width="21" height="1" fill="rgb(129,0,0)"/>
<rect x="41" y="379" width="21" height="2" fill="rgb(0,112,0)"/>
<rect x="62" y="379" width="21" height="2" fill="rgb(0,130,0)"/>
<rect x="83" y="379" width="21" height="2" fill="rgb(0,137,0)"/>
<rect x="104" y="379" width="20" height="2" fill="rgb(152,0,0)"/>
<rect x="124" y="379" width="21" height="2" fill="rgb(176,0,0)"/>
<rect x="145" y="379" width="21" height="2" fill="rgb(131,0,0)"/>
<rect x="41" y="381" width="21" height="1" fill="rgb(0,118,0)"/>
<rect x="62" y="381" width="21" height="1" fill="rgb(0,114,0)"/>
<rect x="83" y="381" width="21" height="1" fill="rgb(0,155,0)"/>
<rect x="104" y="381" width="20" height="1" fill="rgb(138,0,0)"/>
<rect x="124" y="381" width="21" height="1" fill="rgb(164,0,0)"/>
<rect x="145" y="381" width="21" height="1" fill="rgb(119,0,0)"/>
<rect x="41" y="382" width="21" height="2" fill="rgb(0,131,0)"/>
<rect x="62" y="382" width="21" height="2" fill="rgb(0,135,0)"/>
<rect x="83" y="382" width="21" height="2" fill="rgb(0,140,0)"/>
<rect x="104" y="382" width="20" height="2" fill="rgb(139,0,0)"/>
<rect x="124" y="382" width="21" height="2" fill="rgb(164,0,0)"/>
<rect x="145" y="382" width="21" height="2" fill="rgb(122,0,0)"/>
<rect x="41" y="384" width="21" height="2" fill="rgb(0,136,0)"/>
<rect x="62" y="384" width="21" height="2" fill="rgb(0,107,0)"/>
<rect x="83" y="384" width="21" height="2" fill="rgb(0,136,0)"/>
<rect x="104" y="384" width="20" height="2" fill="rgb(154,0,0)"/>
<rect x="124" y="384" width="21" height="2" fill="rgb(187,0,0)"/>
<rect x="145" y="384" width="21" height="2" fill="rgb(142,0,0)"/>
<rect x="41" y="386" width="21" height="2" fill="rgb(0,135,0)"/>
<rect x="62" y="386" width="21" height="2" fill="rgb(0,142,0)"/>
<rect x="83" y="386" width="21" height="2" fill="rgb(0,133,0)"/>
<rect x="104" y="386" width="20" height="2" fill="rgb(225,0,0)"/>
<rect x="124" y="386" width="21" height="2" fill="rgb(112,0,0)"/>
<rect x="145" y="386" width="21" height="2" fill="rgb(59,0,0)"/>
<rect x="41" y="388" width="21" height="1" fill="rgb(0,116,0)"/>
<rect x="62" y="388" width="21" height="1" fill="rgb(0,156,0)"/>
<rect x="83" y="388" width="21" height="1" fill="rgb(0,140,0)"/>
<rect x="104" y="388" width="20" height="1" fill="rgb(232,0,0)"/>
<rect x="124" y="388" width="21" height="1" fill="rgb(105,0,0)"/>
<rect x="145" y="388" width="21" height="1" fill="rgb(58,0,0)"/>
<rect x="41" y="389" width="21" height="1" fill="rgb(0,101,0)"/>
<rect x="62" y="389" width="21" height="1" fill="rgb(0,143,0)"/>
<rect x="83" y="389" width="21" height="1" fill="rgb(0,167,0)"/>
<rect x="104" y="389" width="20" height="1" fill="rgb(198,0,0)"/>
<rect x="124" y="389" width="21" height="1" fill="rgb(109,0,0)"/>
<rect x="145" y="389" width="21" height="1" fill="rgb(64,0,0)"/>
<rect x="41" y="390" width="21" height="1" fill="rgb(0,136,0)"/>
<rect x="62" y="390" width="21" height="1" fill="rgb(0,158,0)"/>
<rect x="83" y="390" width="21" height="1" fill="rgb(0,165,0)"/>
<rect x="104" y="390" width="20" height="1" fill="rgb(199,0,0)"/>
<rect x="124" y="390" width="21" height="1" fill="rgb(126,0,0)"/>
<rect x="145" y="390" width="21" height="1" fill="rgb(69,0,0)"/>
<rect x="41" y="391" width="21" height="1" fill="rgb(0,124,0)"/>
<rect x="62" y="391" width="21" height="1" fill="rgb(0,161,0)"/>
<rect x="83" y="391" width="21" height="1" fill="rgb(0,159,0)"/>
<rect x="104" y="391" width="20" height="1" fill="rgb(212,0,0)"/>
<rect x="124" y="391" width="21" height="1" fill="rgb(129,0,0)"/>
<rect x="145" y="391" width="21" height="1" fill="rgb(81,0,0)"/>
<rect x="41" y="392" width="21" height="1" fill="rgb(0,135,0)"/>
<rect x="62" y="392" width="21" height="1" fill="rgb(0,146,0)"/>
<rect x="83" y="392" width="21" height="1" fill="rgb(0,140,0)"/>
<rect x="104" y="392" width="20" height="1" fill="rgb(232,0,0)"/>
<rect x="124" y="392" width="21" height="1" fill="rgb(106,0,0)"/>
<rect x="145" y="392" width="21" height="1" fill="rgb(64,0,0)"/>
<rect x="41" y="393" width="21" height="2" fill="rgb(0,119,0)"/>
<rect x="62" y="393" width="21" height="2" fill="rgb(0,152,0)"/>
<rect x="83" y="393" width="21" height="2" fill="rgb(0,125,0)"/>
<rect x="104" y="393" width="20" height="2" fill="rgb(198,0,0)"/>
<rect x="124" y="393" width="21" height="2" fill="rgb(124,0,0)"/>
<rect x="145" y="393" width="21" height="2" fill="rgb(107,0,0)"/>
<rect x="41" y="395" width="21" height="1" fill="rgb(0,114,0)"/>
<rect x="62" y="395" width="21" height="1" fill="rgb(0,149,0)"/>
<rect x="83" y="395" width="21" height="1" fill="rgb(0,138,0)"/>
<rect x="104" y="395" width="20" height="1" fill="rgb(156,0,0)"/>
<rect x="124" y="395" width="21" height="1" fill="rgb(149,0,0)"/>
<rect x="145" y="395" width="21" height="1" fill="rgb(88,0,0)"/>
<rect x="41" y="396" width="21" height="2" fill="rgb(0,129,0)"/>
<rect x="62" y="396" width="21" height="2" fill="rgb(0,147,0)"/>
<rect x="83" y="396" width="21" height="2" fill="rgb(0,124,0)"/>
<rect x="104" y="396" width="20" height="2" fill="rgb(165,0,0)"/>
<rect x="124" y="396" width="21" height="2" fill="rgb(144,0,0)"/>
<rect x="145" y="396" width="21" height="2" fill="rgb(88,0,0)"/>
<rect x="41" y="398" width="21" height="2" fill="rgb(0,125,0)"/>
<rect x="62" y="398" width="21" height="2" fill="rgb(0,165,0)"/>
<rect x="83" y="398" width="21" height="2" fill="rgb(0,141,0)"/>
<rect x="104" y="398" width="20" height="2" fill="rgb(185,0,0)"/>
<rect x="124" y="398" width="21" height="2" fill="rgb(141,0,0)"/>
<rect x="145" y="398" width="21" height="2" fill="rgb(96,0,0)"/>
<rect x="41" y="400" width="21" height="2" fill="rgb(0,138,0)"/>
<rect x="62" y="400" width="21" height="2" fill="rgb(0,136,0)"/>
<rect x="83" y="400" width="21" height="2" fill="rgb(0,138,0)"/>
<rect x="104" y="400" width="20" height="2" fill="rgb(157,0,0)"/>
<rect x="124" y="400" width="21" height="2" fill="rgb(141,0,0)"/>
<rect x="145" y="400" width="21" height="2" fill="rgb(108,0,0)"/>
<rect x="41" y="402" width="21" height="1" fill="rgb(0,100,0)"/>
<rect x="62" y="402" width="21" height="1" fill="rgb(0,114,0)"/>
<rect x="83" y="402" width="21" height="1" fill="rgb(0,108,0)"/>
<rect x="104" y="402" width="20" height="1" fill="rgb(174,0,0)"/>
<rect x="124" y="402" width="21" height="1" fill="rgb(60,0,0)"/>
<rect x="145" y="402" width="21" height="1" fill="rgb(124,0,0)"/>
<rect x="41" y="403" width="21" height="2" fill="rgb(0,100,0)"/>
<rect x="62" y="403" width="21" height="2" fill="rgb(0,115,0)"/>
<rect x="83" y="403" width="21" height="2" fill="rgb(0,116,0)"/>
<rect x="104" y="403" width="20" height="2" fill="rgb(154,0,0)"/>
<rect x="124" y="403" width="21" height="2" fill="rgb(62,0,0)"/>
<rect x="145" y="403" width="21" height="2" fill="rgb(126,0,0)"/>
<rect x="41" y="405" width="21" height="2" fill="rgb(0,123,0)"/>
<rect x="62" y="405" width="21" height="2" fill="rgb(0,146,0)"/>
<rect x="83" y="405" width="21" height="2" fill="rgb(0,102,0)"/>
<rect x="104" y="405" width="20" height="2" fill="rgb(174,0,0)"/>
<rect x="124" y="405" width="21" height="2" fill="rgb(69,0,0)"/>
<rect x="145" y="405" width="21" height="2" fill="rgb(147,0,0)"/>
<rect x="41" y="407" width="21" height="2" fill="rgb(0,132,0)"/>
<rect x="62" y="407" width="21" height="2" fill="rgb(0,121,0)"/>
<rect x="83" y="407" width="21" height="2" fill="rgb(0,89,0)"/>
<rect x="104" y="407" width="20" height="2" fill="rgb(150,0,0)"/>
<rect x="124" y="407" width="21" height="2" fill="rgb(49,0,0)"/>
<rect x="145" y="407" width="21" height="2" fill="rgb(133,0,0)"/>
<rect x="41" y="409" width="21" height="2" fill="rgb(0,116,0)"/>
<rect x="62" y="409" width="21" height="2" fill="rgb(0,112,0)"/>
<rect x="83" y="409" width="21" height="2" fill="rgb(0,86,0)"/>
<rect x="104" y="409" width="20" height="2" fill="rgb(174,0,0)"/>
<rect x="124" y="409" width="21" height="2" fill="rgb(183,0,0)"/>
<rect x="145" y="409" width="21" height="2" fill="rgb(69,0,0)"/>
<rect x="41" y="411" width="21" height="1" fill="rgb(0,137,0)"/>
<rect x="62" y="411" width="21" height="1" fill="rgb(0,151,0)"/>
<rect x="83" y="411" width="21" height="1" fill="rgb(0,83,0)"/>
<rect x="104" y="411" width="20" height="1" fill="rgb(179,0,0)"/>
<rect x="124" y="411" width="21" height="1" fill="rgb(184,0,0)"/>
<rect x="145" y="411" width="21" height="1" fill="rgb(72,0,0)"/>
<rect x="41" y="412" width="21" height="2" fill="rgb(0,108,0)"/>
<rect x="62" y="412" width="21" height="2" fill="rgb(0,125,0)"/>
<rect x="83" y="412" width="21" height="2" fill="rgb(0,103,0)"/>
<rect x="104" y="412" width="20" height="2" fill="rgb(147,0,0)"/>
<rect x="124" y="412" width="21" height="2" fill="rgb(217,0,0)"/>
<rect x="145" y="412" width="21" height="2" fill="rgb(68,0,0)"/>
<rect x="41" y="414" width="21" height="1" fill="rgb(0,123,0)"/>
<rect x="62" y="414" width="21" height="1" fill="rgb(0,139,0)"/>
<rect x="83" y="414" width="21" height="1" fill="rgb(0,73,0)"/>
<rect x="104" y="414" width="20" height="1" fill="rgb(168,0,0)"/>
<rect x="124" y="414" width="21" height="1" fill="rgb(204,0,0)"/>
<rect x="145" y="414" width="21" height="1" fill="rgb(69,0,0)"/>
<rect x="41" y="415" width="21" height="1" fill="rgb(0,110,0)"/>
<rect x="62" y="415" width="21" height="1" fill="rgb(0,114,0)"/>
<rect x="83" y="415" width="21" height="1" fill="rgb(0,96,0)"/>
<rect x="104" y="415" width="20" height="1" fill="rgb(175,0,0)"/>
<rect x="124" y="415" width="21" height="1" fill="rgb(212,0,0)"/>
<rect x="145" y="415" width="21" height="1" fill="rgb(81,0,0)"/>
<rect x="41" y="416" width="21" height="1" fill="rgb(0,117,0)"/>
<rect x="62" y="416" width="21" height="1" fill="rgb(0,115,0)"/>
<rect x="83" y="416" width="21" height="1" fill="rgb(0,99,0)"/>
<rect x="104" y="416" width="20" height="1" fill="rgb(152,0,0)"/>
<rect x="124" y="416" width="21" height="1" fill="rgb(161,0,0)"/>
<rect x="145" y="416" width="21" height="1" fill="rgb(101,0,0)"/>
<rect x="41" y="417" width="21" height="1" fill="rgb(0,135,0)"/>
<rect x="62" y="417" width="21" height="1" fill="rgb(0,136,0)"/>
<rect x="83" y="417" width="21" height="1" fill="rgb(0,134,0)"/>
<rect x="104" y="417" width="20" height="1" fill="rgb(157,0,0)"/>
<rect x="124" y="417" width="21" height="1" fill="rgb(183,0,0)"/>
<rect x="145" y="417" width="21" height="1" fill="rgb(87,0,0)"/>
<rect x="41" y="418" width="21" height="2" fill="rgb(0,145,0)"/>
<rect x="62" y="418" width="21" height="2" fill="rgb(0,135,0)"/>
<rect x="83" y="418" width="21" height="2" fill="rgb(0,127,0)"/>
<rect x="104" y="418" width="20" height="2" fill="rgb(167,0,0)"/>
<rect x="124" y="418" width="21" height="2" fill="rgb(140,0,0)"/>
<rect x="145" y="418" width="21" height="2" fill="rgb(84,0,0)"/>
<rect x="41" y="420" width="21" height="2" fill="rgb(0,126,0)"/>
<rect x="62" y="420" width="21" height="2" fill="rgb(0,120,0)"/>
<rect x="83" y="420" width="21" height="2" fill="rgb(0,132,0)"/>
<rect x="104" y="420" width="20" height="2" fill="rgb(127,0,0)"/>
<rect x="124" y="420" width="21" height="2" fill="rgb(158,0,0)"/>
<rect x="145" y="420" width="21" height="2" fill="rgb(96,0,0)"/>
<rect x="41" y="422" width="21" height="1" fill="rgb(0,153,0)"/>
<rect x="62" y="422" width="21" height="1" fill="rgb(0,149,0)"/>
<rect x="83" y="422" width="21" height="1" fill="rgb(0,132,0)"/>
<rect x="104" y="422" width="20" height="1" fill="rgb(133,0,0)"/>
<rect x="124" y="422" width="21" height="1" fill="rgb(148,0,0)"/>
<rect x="145" y="422" width="21" height="1" fill="rgb(101,0,0)"/>
<rect x="41" y="423" width="21" height="2" fill="rgb(0,144,0)"/>
<rect x="62" y="423" width="21" height="2" fill="rgb(0,146,0)"/>
<rect x="83" y="423" width="21" height="2" fill="rgb(0,128,0)"/>
<rect x="104" y="423" width="20" height="2" fill="rgb(131,0,0)"/>
<rect x="124" y="423" width="21" height="2" fill="rgb(172,0,0)"/>
<rect x="145" y="423" width="21" height="2" fill="rgb(84,0,0)"/>
<rect x="41" y="425" width="21" height="2" fill="rgb(0,118,0)"/>
<rect x="62" y="425" width="21" height="2" fill="rgb(0,133,0)"/>
<rect x="83" y="425" width="21" height="2" fill="rgb(0,129,0)"/>
<rect x="104" y="425" width="20" height="2" fill="rgb(164,0,0)"/>
<rect x="124" y="425" width="21" height="2" fill="rgb(179,0,0)"/>
<rect x="145" y="425" width="21" height="2" fill="rgb(86,0,0)"/>
</g>
<text class="t" transform="translate(49.92,429.4) rotate(90) scale(0.43)" font-size="10" fill="#444">GM-3</text>
<text class="t" transform="translate(70.75,429.4) rotate(90) scale(0.43)" font-size="10" fill="#444">GM-1</text>
<text class="t" transform="translate(91.58,429.4) rotate(90) scale(0.43)" font-size="10" fill="#444">GM-2</text>
<text class="t" transform="translate(112.42,429.4) rotate(90) scale(0.43)" font-size="10" fill="#444">DM1-2</text>
<text class="t" transform="translate(133.25,429.4) rotate(90) scale(0.43)" font-size="10" fill="#444">DM1-1</text>
<text class="t" transform="translate(154.08,429.4) rotate(90) scale(0.43)" font-size="10" fill="#444">DM1-3</text>
<defs><linearGradient id="gC" x1="0" y1="0" x2="0" y2="1"><stop offset="0" stop-color="#FF0000"/><stop offset="0.5" stop-color="#000000"/><stop offset="1" stop-color="#00FF00"/></linearGradient></defs>
<rect x="169.2" y="257" width="4.2" height="62" fill="url(#gC)"/>
<text x="175.20" y="265.20" class="t" font-size="4.5" fill="#333">1.5</text>
<text x="175.20" y="273.10" class="t" font-size="4.5" fill="#333">1</text>
<text x="175.20" y="281.30" class="t" font-size="4.5" fill="#333">0.5</text>
<text x="175.20" y="289.70" class="t" font-size="4.5" fill="#333">0</text>
<text x="175.20" y="298.00" class="t" font-size="4.5" fill="#333">-0.5</text>
<text x="175.20" y="306.10" class="t" font-size="4.5" fill="#333">-1</text>
<text x="175.20" y="314.50" class="t" font-size="4.5" fill="#333">-1.5</text>
<path d="M72.25,257 V252.8 H93.08 V257" stroke="#666" stroke-width="0.7" fill="none"/><path d="M51.42,257 V251.6 H82.67 V252.8" stroke="#666" stroke-width="0.7" fill="none"/><path d="M134.75,257 V250.6 H155.58 V257" stroke="#666" stroke-width="0.7" fill="none"/><path d="M113.92,257 V249.2 H145.17 V250.6" stroke="#666" stroke-width="0.7" fill="none"/><path d="M67.04,251.6 V235.2 H129.54 V249.2" stroke="#666" stroke-width="0.7" fill="none"/>
<path d="M40.40,258.00 H37.80 V260.00 H40.40 M40.40,264.00 H38.49 V266.00 H40.40 M38.49,265.00 H37.89 V268.00 H40.40 M37.89,266.50 H37.29 V270.00 H40.40 M37.29,268.25 H36.69 V272.00 H40.40 M36.69,270.12 H36.09 V274.00 H40.40 M40.40,262.00 H34.79 V272.06 H36.09 M40.40,276.00 H38.25 V278.00 H40.40 M40.40,282.00 H38.18 V284.00 H40.40 M40.40,290.00 H39.38 V292.00 H40.40 M40.40,288.00 H38.78 V291.00 H39.38 M40.40,286.00 H38.18 V289.50 H38.78 M38.18,283.00 H37.58 V287.75 H38.18 M40.40,280.00 H36.98 V285.38 H37.58 M40.40,294.00 H38.24 V296.00 H40.40 M40.40,298.00 H37.73 V300.00 H40.40 M38.24,295.00 H37.13 V299.00 H37.73 M36.98,282.69 H36.38 V297.00 H37.13 M40.40,302.00 H38.31 V304.00 H40.40 M36.38,289.84 H35.78 V303.00 H38.31 M35.78,296.42 H35.18 V306.00 H40.40 M40.40,310.00 H37.61 V312.00 H40.40 M40.40,308.00 H36.70 V311.00 H37.61 M35.18,301.21 H34.58 V309.50 H36.70 M38.25,277.00 H33.98 V305.36 H34.58 M40.40,316.00 H37.92 V317.50 H40.40 M40.40,314.00 H37.32 V316.75 H37.92 M33.98,291.18 H33.38 V315.38 H37.32 M34.79,267.03 H32.78 V303.28 H33.38 M37.80,259.00 H30.60 V285.15 H32.78 M40.40,321.00 H37.80 V323.00 H40.40 M40.40,325.00 H37.80 V327.00 H40.40 M37.80,322.00 H37.20 V326.00 H37.80 M40.40,319.00 H35.52 V324.00 H37.20 M35.52,321.50 H29.10 V329.00 H40.40 M30.60,272.08 H27.60 V325.25 H29.10 M40.40,335.00 H38.16 V337.00 H40.40 M40.40,333.00 H37.56 V336.00 H38.16 M40.40,331.00 H36.96 V334.50 H37.56 M40.40,339.00 H38.09 V341.00 H40.40 M36.96,332.75 H29.50 V340.00 H38.09 M40.40,347.00 H38.64 V349.00 H40.40 M38.64,348.00 H38.04 V351.00 H40.40 M40.40,345.00 H37.44 V349.50 H38.04 M40.40,343.00 H36.84 V347.25 H37.44 M36.84,345.12 H35.58 V353.00 H40.40 M40.40,355.00 H37.84 V357.00 H40.40 M40.40,359.00 H37.82 V361.00 H40.40 M40.40,365.00 H38.37 V367.00 H40.40 M38.37,366.00 H37.77 V369.00 H40.40 M40.40,363.00 H36.41 V367.50 H37.77 M37.82,360.00 H35.30 V365.25 H36.41 M40.40,373.00 H38.48 V375.00 H40.40 M38.48,374.00 H37.88 V377.00 H40.40 M40.40,371.00 H36.98 V375.50 H37.88 M40.40,381.00 H37.87 V383.00 H40.40 M40.40,379.00 H37.22 V382.00 H37.87 M36.98,373.25 H36.38 V380.50 H37.22 M40.40,385.00 H37.56 V387.00 H40.40 M36.38,376.88 H35.78 V386.00 H37.56 M35.30,362.62 H32.92 V381.44 H35.78 M40.40,395.00 H38.36 V397.00 H40.40 M40.40,393.00 H37.16 V396.00 H38.36 M37.16,394.50 H36.56 V399.00 H40.40 M40.40,401.00 H37.78 V403.00 H40.40 M40.40,405.00 H38.38 V407.00 H40.40 M38.38,406.00 H37.78 V409.00 H40.40 M37.78,402.00 H37.18 V407.50 H37.78 M37.18,404.75 H36.58 V411.00 H40.40 M36.56,396.75 H35.54 V407.88 H36.58 M40.40,413.00 H37.99 V415.00 H40.40 M40.40,421.00 H37.96 V423.00 H40.40 M40.40,419.00 H37.36 V422.00 H37.96 M40.40,425.00 H37.70 V426.50 H40.40 M37.36,420.50 H36.76 V425.75 H37.70 M40.40,417.00 H36.16 V423.12 H36.76 M37.99,414.00 H35.56 V420.06 H36.16 M35.54,402.31 H34.35 V417.03 H35.56 M40.40,391.00 H33.75 V409.67 H34.35 M40.40,389.00 H32.10 V400.34 H33.75 M32.92,372.03 H31.50 V394.67 H32.10 M37.84,356.00 H30.90 V383.35 H31.50 M35.58,349.06 H28.00 V369.67 H30.90 M29.50,336.38 H26.10 V359.37 H28.00 M27.60,298.66 H18.50 V347.87 H26.10" stroke="#8a8a8a" stroke-width="0.55" fill="none"/>
<text x="188.9" y="231.6" font-size="12" font-weight="bold">D</text>
<g shape-rendering="crispEdges">
<rect x="219" y="257" width="21" height="1" fill="rgb(54,0,0)"/>
<rect x="240" y="257" width="21" height="1" fill="rgb(196,0,0)"/>
<rect x="261" y="257" width="21" height="1" fill="rgb(154,0,0)"/>
<rect x="282" y="257" width="22" height="1" fill="rgb(0,146,0)"/>
<rect x="304" y="257" width="21" height="1" fill="rgb(0,149,0)"/>
<rect x="325" y="257" width="21" height="1" fill="rgb(0,99,0)"/>
<rect x="219" y="258" width="21" height="1" fill="rgb(83,0,0)"/>
<rect x="240" y="258" width="21" height="1" fill="rgb(206,0,0)"/>
<rect x="261" y="258" width="21" height="1" fill="rgb(153,0,0)"/>
<rect x="282" y="258" width="22" height="1" fill="rgb(0,140,0)"/>
<rect x="304" y="258" width="21" height="1" fill="rgb(0,128,0)"/>
<rect x="325" y="258" width="21" height="1" fill="rgb(0,87,0)"/>
<rect x="219" y="259" width="21" height="1" fill="rgb(123,0,0)"/>
<rect x="240" y="259" width="21" height="1" fill="rgb(114,0,0)"/>
<rect x="261" y="259" width="21" height="1" fill="rgb(197,0,0)"/>
<rect x="282" y="259" width="22" height="1" fill="rgb(0,115,0)"/>
<rect x="304" y="259" width="21" height="1" fill="rgb(0,115,0)"/>
<rect x="325" y="259" width="21" height="1" fill="rgb(0,113,0)"/>
<rect x="219" y="260" width="21" height="2" fill="rgb(120,0,0)"/>
<rect x="240" y="260" width="21" height="2" fill="rgb(109,0,0)"/>
<rect x="261" y="260" width="21" height="2" fill="rgb(241,0,0)"/>
<rect x="282" y="260" width="22" height="2" fill="rgb(0,120,0)"/>
<rect x="304" y="260" width="21" height="2" fill="rgb(0,99,0)"/>
<rect x="325" y="260" width="21" height="2" fill="rgb(0,102,0)"/>
<rect x="219" y="262" width="21" height="1" fill="rgb(72,0,0)"/>
<rect x="240" y="262" width="21" height="1" fill="rgb(70,0,0)"/>
<rect x="261" y="262" width="21" height="1" fill="rgb(242,0,0)"/>
<rect x="282" y="262" width="22" height="1" fill="rgb(0,127,0)"/>
<rect x="304" y="262" width="21" height="1" fill="rgb(0,81,0)"/>
<rect x="325" y="262" width="21" height="1" fill="rgb(0,112,0)"/>
<rect x="219" y="263" width="21" height="1" fill="rgb(54,0,0)"/>
<rect x="240" y="263" width="21" height="1" fill="rgb(93,0,0)"/>
<rect x="261" y="263" width="21" height="1" fill="rgb(227,0,0)"/>
<rect x="282" y="263" width="22" height="1" fill="rgb(0,132,0)"/>
<rect x="304" y="263" width="21" height="1" fill="rgb(0,111,0)"/>
<rect x="325" y="263" width="21" height="1" fill="rgb(0,131,0)"/>
<rect x="219" y="264" width="21" height="2" fill="rgb(250,0,0)"/>
<rect x="240" y="264" width="21" height="2" fill="rgb(34,0,0)"/>
<rect x="261" y="264" width="21" height="2" fill="rgb(106,0,0)"/>
<rect x="282" y="264" width="22" height="2" fill="rgb(0,122,0)"/>
<rect x="304" y="264" width="21" height="2" fill="rgb(0,86,0)"/>
<rect x="325" y="264" width="21" height="2" fill="rgb(0,114,0)"/>
<rect x="219" y="266" width="21" height="2" fill="rgb(228,0,0)"/>
<rect x="240" y="266" width="21" height="2" fill="rgb(109,0,0)"/>
<rect x="261" y="266" width="21" height="2" fill="rgb(17,0,0)"/>
<rect x="282" y="266" width="22" height="2" fill="rgb(0,114,0)"/>
<rect x="304" y="266" width="21" height="2" fill="rgb(0,78,0)"/>
<rect x="325" y="266" width="21" height="2" fill="rgb(0,135,0)"/>
<rect x="219" y="268" width="21" height="1" fill="rgb(106,0,0)"/>
<rect x="240" y="268" width="21" height="1" fill="rgb(199,0,0)"/>
<rect x="261" y="268" width="21" height="1" fill="rgb(40,0,0)"/>
<rect x="282" y="268" width="22" height="1" fill="rgb(0,111,0)"/>
<rect x="304" y="268" width="21" height="1" fill="rgb(0,121,0)"/>
<rect x="325" y="268" width="21" height="1" fill="rgb(0,136,0)"/>
<rect x="219" y="269" width="21" height="1" fill="rgb(124,0,0)"/>
<rect x="240" y="269" width="21" height="1" fill="rgb(220,0,0)"/>
<rect x="261" y="269" width="21" height="1" fill="rgb(20,0,0)"/>
<rect x="282" y="269" width="22" height="1" fill="rgb(0,122,0)"/>
<rect x="304" y="269" width="21" height="1" fill="rgb(0,102,0)"/>
<rect x="325" y="269" width="21" height="1" fill="rgb(0,147,0)"/>
<rect x="219" y="270" width="21" height="2" fill="rgb(99,0,0)"/>
<rect x="240" y="270" width="21" height="2" fill="rgb(152,0,0)"/>
<rect x="261" y="270" width="21" height="2" fill="rgb(112,0,0)"/>
<rect x="282" y="270" width="22" height="2" fill="rgb(0,118,0)"/>
<rect x="304" y="270" width="21" height="2" fill="rgb(0,139,0)"/>
<rect x="325" y="270" width="21" height="2" fill="rgb(0,130,0)"/>
<rect x="219" y="272" width="21" height="1" fill="rgb(111,0,0)"/>
<rect x="240" y="272" width="21" height="1" fill="rgb(147,0,0)"/>
<rect x="261" y="272" width="21" height="1" fill="rgb(127,0,0)"/>
<rect x="282" y="272" width="22" height="1" fill="rgb(0,124,0)"/>
<rect x="304" y="272" width="21" height="1" fill="rgb(0,122,0)"/>
<rect x="325" y="272" width="21" height="1" fill="rgb(0,118,0)"/>
<rect x="219" y="273" width="21" height="1" fill="rgb(103,0,0)"/>
<rect x="240" y="273" width="21" height="1" fill="rgb(176,0,0)"/>
<rect x="261" y="273" width="21" height="1" fill="rgb(118,0,0)"/>
<rect x="282" y="273" width="22" height="1" fill="rgb(0,104,0)"/>
<rect x="304" y="273" width="21" height="1" fill="rgb(0,115,0)"/>
<rect x="325" y="273" width="21" height="1" fill="rgb(0,111,0)"/>
<rect x="219" y="274" width="21" height="1" fill="rgb(104,0,0)"/>
<rect x="240" y="274" width="21" height="1" fill="rgb(171,0,0)"/>
<rect x="261" y="274" width="21" height="1" fill="rgb(125,0,0)"/>
<rect x="282" y="274" width="22" height="1" fill="rgb(0,111,0)"/>
<rect x="304" y="274" width="21" height="1" fill="rgb(0,106,0)"/>
<rect x="325" y="274" width="21" height="1" fill="rgb(0,118,0)"/>
<rect x="219" y="275" width="21" height="1" fill="rgb(124,0,0)"/>
<rect x="240" y="275" width="21" height="1" fill="rgb(138,0,0)"/>
<rect x="261" y="275" width="21" height="1" fill="rgb(118,0,0)"/>
<rect x="282" y="275" width="22" height="1" fill="rgb(0,99,0)"/>
<rect x="304" y="275" width="21" height="1" fill="rgb(0,125,0)"/>
<rect x="325" y="275" width="21" height="1" fill="rgb(0,147,0)"/>
<rect x="219" y="276" width="21" height="1" fill="rgb(102,0,0)"/>
<rect x="240" y="276" width="21" height="1" fill="rgb(150,0,0)"/>
<rect x="261" y="276" width="21" height="1" fill="rgb(99,0,0)"/>
<rect x="282" y="276" width="22" height="1" fill="rgb(0,86,0)"/>
<rect x="304" y="276" width="21" height="1" fill="rgb(0,125,0)"/>
<rect x="325" y="276" width="21" height="1" fill="rgb(0,149,0)"/>
<rect x="219" y="277" width="21" height="1" fill="rgb(95,0,0)"/>
<rect x="240" y="277" width="21" height="1" fill="rgb(177,0,0)"/>
<rect x="261" y="277" width="21" height="1" fill="rgb(105,0,0)"/>
<rect x="282" y="277" width="22" height="1" fill="rgb(0,115,0)"/>
<rect x="304" y="277" width="21" height="1" fill="rgb(0,136,0)"/>
<rect x="325" y="277" width="21" height="1" fill="rgb(0,133,0)"/>
<rect x="219" y="278" width="21" height="2" fill="rgb(112,0,0)"/>
<rect x="240" y="278" width="21" height="2" fill="rgb(185,0,0)"/>
<rect x="261" y="278" width="21" height="2" fill="rgb(137,0,0)"/>
<rect x="282" y="278" width="22" height="2" fill="rgb(0,91,0)"/>
<rect x="304" y="278" width="21" height="2" fill="rgb(0,139,0)"/>
<rect x="325" y="278" width="21" height="2" fill="rgb(0,137,0)"/>
<rect x="219" y="280" width="21" height="1" fill="rgb(99,0,0)"/>
<rect x="240" y="280" width="21" height="1" fill="rgb(161,0,0)"/>
<rect x="261" y="280" width="21" height="1" fill="rgb(118,0,0)"/>
<rect x="282" y="280" width="22" height="1" fill="rgb(0,110,0)"/>
<rect x="304" y="280" width="21" height="1" fill="rgb(0,108,0)"/>
<rect x="325" y="280" width="21" height="1" fill="rgb(0,122,0)"/>
<rect x="219" y="281" width="21" height="2" fill="rgb(108,0,0)"/>
<rect x="240" y="281" width="21" height="2" fill="rgb(162,0,0)"/>
<rect x="261" y="281" width="21" height="2" fill="rgb(108,0,0)"/>
<rect x="282" y="281" width="22" height="2" fill="rgb(0,124,0)"/>
<rect x="304" y="281" width="21" height="2" fill="rgb(0,111,0)"/>
<rect x="325" y="281" width="21" height="2" fill="rgb(0,147,0)"/>
<rect x="219" y="283" width="21" height="1" fill="rgb(125,0,0)"/>
<rect x="240" y="283" width="21" height="1" fill="rgb(154,0,0)"/>
<rect x="261" y="283" width="21" height="1" fill="rgb(118,0,0)"/>
<rect x="282" y="283" width="22" height="1" fill="rgb(0,101,0)"/>
<rect x="304" y="283" width="21" height="1" fill="rgb(0,138,0)"/>
<rect x="325" y="283" width="21" height="1" fill="rgb(0,133,0)"/>
<rect x="219" y="284" width="21" height="2" fill="rgb(130,0,0)"/>
<rect x="240" y="284" width="21" height="2" fill="rgb(152,0,0)"/>
<rect x="261" y="284" width="21" height="2" fill="rgb(124,0,0)"/>
<rect x="282" y="284" width="22" height="2" fill="rgb(0,85,0)"/>
<rect x="304" y="284" width="21" height="2" fill="rgb(0,104,0)"/>
<rect x="325" y="284" width="21" height="2" fill="rgb(0,144,0)"/>
<rect x="219" y="286" width="21" height="1" fill="rgb(103,0,0)"/>
<rect x="240" y="286" width="21" height="1" fill="rgb(167,0,0)"/>
<rect x="261" y="286" width="21" height="1" fill="rgb(134,0,0)"/>
<rect x="282" y="286" width="22" height="1" fill="rgb(0,92,0)"/>
<rect x="304" y="286" width="21" height="1" fill="rgb(0,140,0)"/>
<rect x="325" y="286" width="21" height="1" fill="rgb(0,137,0)"/>
<rect x="219" y="287" width="21" height="1" fill="rgb(105,0,0)"/>
<rect x="240" y="287" width="21" height="1" fill="rgb(118,0,0)"/>
<rect x="261" y="287" width="21" height="1" fill="rgb(83,0,0)"/>
<rect x="282" y="287" width="22" height="1" fill="rgb(0,103,0)"/>
<rect x="304" y="287" width="21" height="1" fill="rgb(0,152,0)"/>
<rect x="325" y="287" width="21" height="1" fill="rgb(0,104,0)"/>
<rect x="219" y="288" width="21" height="2" fill="rgb(105,0,0)"/>
<rect x="240" y="288" width="21" height="2" fill="rgb(96,0,0)"/>
<rect x="261" y="288" width="21" height="2" fill="rgb(54,0,0)"/>
<rect x="282" y="288" width="22" height="2" fill="rgb(0,91,0)"/>
<rect x="304" y="288" width="21" height="2" fill="rgb(0,145,0)"/>
<rect x="325" y="288" width="21" height="2" fill="rgb(0,110,0)"/>
<rect x="219" y="290" width="21" height="1" fill="rgb(139,0,0)"/>
<rect x="240" y="290" width="21" height="1" fill="rgb(92,0,0)"/>
<rect x="261" y="290" width="21" height="1" fill="rgb(64,0,0)"/>
<rect x="282" y="290" width="22" height="1" fill="rgb(0,90,0)"/>
<rect x="304" y="290" width="21" height="1" fill="rgb(0,134,0)"/>
<rect x="325" y="290" width="21" height="1" fill="rgb(0,123,0)"/>
<rect x="219" y="291" width="21" height="1" fill="rgb(105,0,0)"/>
<rect x="240" y="291" width="21" height="1" fill="rgb(91,0,0)"/>
<rect x="261" y="291" width="21" height="1" fill="rgb(50,0,0)"/>
<rect x="282" y="291" width="22" height="1" fill="rgb(0,110,0)"/>
<rect x="304" y="291" width="21" height="1" fill="rgb(0,158,0)"/>
<rect x="325" y="291" width="21" height="1" fill="rgb(0,118,0)"/>
<rect x="219" y="292" width="21" height="1" fill="rgb(173,0,0)"/>
<rect x="240" y="292" width="21" height="1" fill="rgb(95,0,0)"/>
<rect x="261" y="292" width="21" height="1" fill="rgb(121,0,0)"/>
<rect x="282" y="292" width="22" height="1" fill="rgb(0,11,0)"/>
<rect x="304" y="292" width="21" height="1" fill="rgb(0,173,0)"/>
<rect x="325" y="292" width="21" height="1" fill="rgb(0,94,0)"/>
<rect x="219" y="293" width="21" height="2" fill="rgb(211,0,0)"/>
<rect x="240" y="293" width="21" height="2" fill="rgb(100,0,0)"/>
<rect x="261" y="293" width="21" height="2" fill="rgb(118,0,0)"/>
<rect x="282" y="293" width="22" height="2" fill="rgb(0,6,0)"/>
<rect x="304" y="293" width="21" height="2" fill="rgb(0,193,0)"/>
<rect x="325" y="293" width="21" height="2" fill="rgb(0,124,0)"/>
<rect x="219" y="295" width="21" height="2" fill="rgb(189,0,0)"/>
<rect x="240" y="295" width="21" height="2" fill="rgb(124,0,0)"/>
<rect x="261" y="295" width="21" height="2" fill="rgb(109,0,0)"/>
<rect x="282" y="295" width="22" height="2" fill="rgb(0,109,0)"/>
<rect x="304" y="295" width="21" height="2" fill="rgb(0,169,0)"/>
<rect x="325" y="295" width="21" height="2" fill="rgb(0,100,0)"/>
<rect x="219" y="297" width="21" height="2" fill="rgb(212,0,0)"/>
<rect x="240" y="297" width="21" height="2" fill="rgb(124,0,0)"/>
<rect x="261" y="297" width="21" height="2" fill="rgb(102,0,0)"/>
<rect x="282" y="297" width="22" height="2" fill="rgb(0,89,0)"/>
<rect x="304" y="297" width="21" height="2" fill="rgb(0,161,0)"/>
<rect x="325" y="297" width="21" height="2" fill="rgb(0,104,0)"/>
<rect x="219" y="299" width="21" height="2" fill="rgb(179,0,0)"/>
<rect x="240" y="299" width="21" height="2" fill="rgb(94,0,0)"/>
<rect x="261" y="299" width="21" height="2" fill="rgb(74,0,0)"/>
<rect x="282" y="299" width="22" height="2" fill="rgb(0,88,0)"/>
<rect x="304" y="299" width="21" height="2" fill="rgb(0,184,0)"/>
<rect x="325" y="299" width="21" height="2" fill="rgb(0,131,0)"/>
<rect x="219" y="301" width="21" height="2" fill="rgb(171,0,0)"/>
<rect x="240" y="301" width="21" height="2" fill="rgb(103,0,0)"/>
<rect x="261" y="301" width="21" height="2" fill="rgb(85,0,0)"/>
<rect x="282" y="301" width="22" height="2" fill="rgb(0,119,0)"/>
<rect x="304" y="301" width="21" height="2" fill="rgb(0,176,0)"/>
<rect x="325" y="301" width="21" height="2" fill="rgb(0,114,0)"/>
<rect x="219" y="303" width="21" height="2" fill="rgb(204,0,0)"/>
<rect x="240" y="303" width="21" height="2" fill="rgb(97,0,0)"/>
<rect x="261" y="303" width="21" height="2" fill="rgb(94,0,0)"/>
<rect x="282" y="303" width="22" height="2" fill="rgb(0,89,0)"/>
<rect x="304" y="303" width="21" height="2" fill="rgb(0,153,0)"/>
<rect x="325" y="303" width="21" height="2" fill="rgb(0,116,0)"/>
<rect x="219" y="305" width="21" height="2" fill="rgb(211,0,0)"/>
<rect x="240" y="305" width="21" height="2" fill="rgb(119,0,0)"/>
<rect x="261" y="305" width="21" height="2" fill="rgb(93,0,0)"/>
<rect x="282" y="305" width="22" height="2" fill="rgb(0,121,0)"/>
<rect x="304" y="305" width="21" height="2" fill="rgb(0,158,0)"/>
<rect x="325" y="305" width="21" height="2" fill="rgb(0,127,0)"/>
<rect x="219" y="307" width="21" height="2" fill="rgb(168,0,0)"/>
<rect x="240" y="307" width="21" height="2" fill="rgb(140,0,0)"/>
<rect x="261" y="307" width="21" height="2" fill="rgb(119,0,0)"/>
<rect x="282" y="307" width="22" height="2" fill="rgb(0,122,0)"/>
<rect x="304" y="307" width="21" height="2" fill="rgb(0,147,0)"/>
<rect x="325" y="307" width="21" height="2" fill="rgb(0,106,0)"/>
<rect x="219" y="309" width="21" height="2" fill="rgb(169,0,0)"/>
<rect x="240" y="309" width="21" height="2" fill="rgb(112,0,0)"/>
<rect x="261" y="309" width="21" height="2" fill="rgb(100,0,0)"/>
<rect x="282" y="309" width="22" height="2" fill="rgb(0,88,0)"/>
<rect x="304" y="309" width="21" height="2" fill="rgb(0,142,0)"/>
<rect x="325" y="309" width="21" height="2" fill="rgb(0,120,0)"/>
<rect x="219" y="311" width="21" height="1" fill="rgb(168,0,0)"/>
<rect x="240" y="311" width="21" height="1" fill="rgb(126,0,0)"/>
<rect x="261" y="311" width="21" height="1" fill="rgb(118,0,0)"/>
<rect x="282" y="311" width="22" height="1" fill="rgb(0,98,0)"/>
<rect x="304" y="311" width="21" height="1" fill="rgb(0,152,0)"/>
<rect x="325" y="311" width="21" height="1" fill="rgb(0,128,0)"/>
<rect x="219" y="312" width="21" height="2" fill="rgb(155,0,0)"/>
<rect x="240" y="312" width="21" height="2" fill="rgb(104,0,0)"/>
<rect x="261" y="312" width="21" height="2" fill="rgb(90,0,0)"/>
<rect x="282" y="312" width="22" height="2" fill="rgb(0,94,0)"/>
<rect x="304" y="312" width="21" height="2" fill="rgb(0,159,0)"/>
<rect x="325" y="312" width="21" height="2" fill="rgb(0,133,0)"/>
<rect x="219" y="314" width="21" height="1" fill="rgb(181,0,0)"/>
<rect x="240" y="314" width="21" height="1" fill="rgb(98,0,0)"/>
<rect x="261" y="314" width="21" height="1" fill="rgb(110,0,0)"/>
<rect x="282" y="314" width="22" height="1" fill="rgb(0,102,0)"/>
<rect x="304" y="314" width="21" height="1" fill="rgb(0,155,0)"/>
<rect x="325" y="314" width="21" height="1" fill="rgb(0,144,0)"/>
<rect x="219" y="315" width="21" height="1" fill="rgb(195,0,0)"/>
<rect x="240" y="315" width="21" height="1" fill="rgb(111,0,0)"/>
<rect x="261" y="315" width="21" height="1" fill="rgb(88,0,0)"/>
<rect x="282" y="315" width="22" height="1" fill="rgb(0,103,0)"/>
<rect x="304" y="315" width="21" height="1" fill="rgb(0,161,0)"/>
<rect x="325" y="315" width="21" height="1" fill="rgb(0,136,0)"/>
<rect x="219" y="316" width="21" height="1" fill="rgb(177,0,0)"/>
<rect x="240" y="316" width="21" height="1" fill="rgb(132,0,0)"/>
<rect x="261" y="316" width="21" height="1" fill="rgb(82,0,0)"/>
<rect x="282" y="316" width="22" height="1" fill="rgb(0,90,0)"/>
<rect x="304" y="316" width="21" height="1" fill="rgb(0,133,0)"/>
<rect x="325" y="316" width="21" height="1" fill="rgb(0,144,0)"/>
<rect x="219" y="317" width="21" height="1" fill="rgb(183,0,0)"/>
<rect x="240" y="317" width="21" height="1" fill="rgb(122,0,0)"/>
<rect x="261" y="317" width="21" height="1" fill="rgb(96,0,0)"/>
<rect x="282" y="317" width="22" height="1" fill="rgb(0,116,0)"/>
<rect x="304" y="317" width="21" height="1" fill="rgb(0,143,0)"/>
<rect x="325" y="317" width="21" height="1" fill="rgb(0,138,0)"/>
<rect x="219" y="318" width="21" height="1" fill="rgb(183,0,0)"/>
<rect x="240" y="318" width="21" height="1" fill="rgb(112,0,0)"/>
<rect x="261" y="318" width="21" height="1" fill="rgb(95,0,0)"/>
<rect x="282" y="318" width="22" height="1" fill="rgb(0,130,0)"/>
<rect x="304" y="318" width="21" height="1" fill="rgb(0,150,0)"/>
<rect x="325" y="318" width="21" height="1" fill="rgb(0,149,0)"/>
<rect x="219" y="319" width="21" height="1" fill="rgb(168,0,0)"/>
<rect x="240" y="319" width="21" height="1" fill="rgb(96,0,0)"/>
<rect x="261" y="319" width="21" height="1" fill="rgb(84,0,0)"/>
<rect x="282" y="319" width="22" height="1" fill="rgb(0,107,0)"/>
<rect x="304" y="319" width="21" height="1" fill="rgb(0,163,0)"/>
<rect x="325" y="319" width="21" height="1" fill="rgb(0,124,0)"/>
<rect x="219" y="320" width="21" height="1" fill="rgb(177,0,0)"/>
<rect x="240" y="320" width="21" height="1" fill="rgb(77,0,0)"/>
<rect x="261" y="320" width="21" height="1" fill="rgb(87,0,0)"/>
<rect x="282" y="320" width="22" height="1" fill="rgb(0,112,0)"/>
<rect x="304" y="320" width="21" height="1" fill="rgb(0,157,0)"/>
<rect x="325" y="320" width="21" height="1" fill="rgb(0,154,0)"/>
<rect x="219" y="321" width="21" height="1" fill="rgb(204,0,0)"/>
<rect x="240" y="321" width="21" height="1" fill="rgb(78,0,0)"/>
<rect x="261" y="321" width="21" height="1" fill="rgb(111,0,0)"/>
<rect x="282" y="321" width="22" height="1" fill="rgb(0,118,0)"/>
<rect x="304" y="321" width="21" height="1" fill="rgb(0,161,0)"/>
<rect x="325" y="321" width="21" height="1" fill="rgb(0,150,0)"/>
<rect x="219" y="322" width="21" height="2" fill="rgb(0,119,0)"/>
<rect x="240" y="322" width="21" height="2" fill="rgb(0,119,0)"/>
<rect x="261" y="322" width="21" height="2" fill="rgb(0,123,0)"/>
<rect x="282" y="322" width="22" height="2" fill="rgb(33,0,0)"/>
<rect x="304" y="322" width="21" height="2" fill="rgb(222,0,0)"/>
<rect x="325" y="322" width="21" height="2" fill="rgb(32,0,0)"/>
<rect x="219" y="324" width="21" height="1" fill="rgb(0,110,0)"/>
<rect x="240" y="324" width="21" height="1" fill="rgb(0,102,0)"/>
<rect x="261" y="324" width="21" height="1" fill="rgb(0,117,0)"/>
<rect x="282" y="324" width="22" height="1" fill="rgb(23,0,0)"/>
<rect x="304" y="324" width="21" height="1" fill="rgb(250,0,0)"/>
<rect x="325" y="324" width="21" height="1" fill="rgb(19,0,0)"/>
<rect x="219" y="325" width="21" height="2" fill="rgb(0,137,0)"/>
<rect x="240" y="325" width="21" height="2" fill="rgb(0,79,0)"/>
<rect x="261" y="325" width="21" height="2" fill="rgb(0,103,0)"/>
<rect x="282" y="325" width="22" height="2" fill="rgb(97,0,0)"/>
<rect x="304" y="325" width="21" height="2" fill="rgb(241,0,0)"/>
<rect x="325" y="325" width="21" height="2" fill="rgb(28,0,0)"/>
<rect x="219" y="327" width="21" height="2" fill="rgb(0,108,0)"/>
<rect x="240" y="327" width="21" height="2" fill="rgb(0,103,0)"/>
<rect x="261" y="327" width="21" height="2" fill="rgb(0,93,0)"/>
<rect x="282" y="327" width="22" height="2" fill="rgb(76,0,0)"/>
<rect x="304" y="327" width="21" height="2" fill="rgb(212,0,0)"/>
<rect x="325" y="327" width="21" height="2" fill="rgb(28,0,0)"/>
<rect x="219" y="329" width="21" height="1" fill="rgb(0,134,0)"/>
<rect x="240" y="329" width="21" height="1" fill="rgb(0,76,0)"/>
<rect x="261" y="329" width="21" height="1" fill="rgb(0,88,0)"/>
<rect x="282" y="329" width="22" height="1" fill="rgb(80,0,0)"/>
<rect x="304" y="329" width="21" height="1" fill="rgb(250,0,0)"/>
<rect x="325" y="329" width="21" height="1" fill="rgb(40,0,0)"/>
<rect x="219" y="330" width="21" height="2" fill="rgb(0,120,0)"/>
<rect x="240" y="330" width="21" height="2" fill="rgb(0,86,0)"/>
<rect x="261" y="330" width="21" height="2" fill="rgb(0,101,0)"/>
<rect x="282" y="330" width="22" height="2" fill="rgb(248,0,0)"/>
<rect x="304" y="330" width="21" height="2" fill="rgb(51,0,0)"/>
<rect x="325" y="330" width="21" height="2" fill="rgb(30,0,0)"/>
<rect x="219" y="332" width="21" height="1" fill="rgb(0,90,0)"/>
<rect x="240" y="332" width="21" height="1" fill="rgb(0,110,0)"/>
<rect x="261" y="332" width="21" height="1" fill="rgb(0,128,0)"/>
<rect x="282" y="332" width="22" height="1" fill="rgb(250,0,0)"/>
<rect x="304" y="332" width="21" height="1" fill="rgb(67,0,0)"/>
<rect x="325" y="332" width="21" height="1" fill="rgb(33,0,0)"/>
<rect x="219" y="333" width="21" height="2" fill="rgb(0,99,0)"/>
<rect x="240" y="333" width="21" height="2" fill="rgb(0,125,0)"/>
<rect x="261" y="333" width="21" height="2" fill="rgb(0,105,0)"/>
<rect x="282" y="333" width="22" height="2" fill="rgb(241,0,0)"/>
<rect x="304" y="333" width="21" height="2" fill="rgb(68,0,0)"/>
<rect x="325" y="333" width="21" height="2" fill="rgb(43,0,0)"/>
<rect x="219" y="335" width="21" height="2" fill="rgb(0,126,0)"/>
<rect x="240" y="335" width="21" height="2" fill="rgb(0,122,0)"/>
<rect x="261" y="335" width="21" height="2" fill="rgb(0,129,0)"/>
<rect x="282" y="335" width="22" height="2" fill="rgb(250,0,0)"/>
<rect x="304" y="335" width="21" height="2" fill="rgb(67,0,0)"/>
<rect x="325" y="335" width="21" height="2" fill="rgb(49,0,0)"/>
<rect x="219" y="337" width="21" height="2" fill="rgb(0,98,0)"/>
<rect x="240" y="337" width="21" height="2" fill="rgb(0,95,0)"/>
<rect x="261" y="337" width="21" height="2" fill="rgb(0,124,0)"/>
<rect x="282" y="337" width="22" height="2" fill="rgb(229,0,0)"/>
<rect x="304" y="337" width="21" height="2" fill="rgb(54,0,0)"/>
<rect x="325" y="337" width="21" height="2" fill="rgb(35,0,0)"/>
<rect x="219" y="339" width="21" height="2" fill="rgb(0,110,0)"/>
<rect x="240" y="339" width="21" height="2" fill="rgb(0,123,0)"/>
<rect x="261" y="339" width="21" height="2" fill="rgb(0,102,0)"/>
<rect x="282" y="339" width="22" height="2" fill="rgb(239,0,0)"/>
<rect x="304" y="339" width="21" height="2" fill="rgb(71,0,0)"/>
<rect x="325" y="339" width="21" height="2" fill="rgb(53,0,0)"/>
<rect x="219" y="341" width="21" height="2" fill="rgb(0,89,0)"/>
<rect x="240" y="341" width="21" height="2" fill="rgb(0,92,0)"/>
<rect x="261" y="341" width="21" height="2" fill="rgb(0,117,0)"/>
<rect x="282" y="341" width="22" height="2" fill="rgb(250,0,0)"/>
<rect x="304" y="341" width="21" height="2" fill="rgb(55,0,0)"/>
<rect x="325" y="341" width="21" height="2" fill="rgb(28,0,0)"/>
<rect x="219" y="343" width="21" height="2" fill="rgb(0,113,0)"/>
<rect x="240" y="343" width="21" height="2" fill="rgb(0,90,0)"/>
<rect x="261" y="343" width="21" height="2" fill="rgb(0,104,0)"/>
<rect x="282" y="343" width="22" height="2" fill="rgb(231,0,0)"/>
<rect x="304" y="343" width="21" height="2" fill="rgb(50,0,0)"/>
<rect x="325" y="343" width="21" height="2" fill="rgb(31,0,0)"/>
<rect x="219" y="345" width="21" height="2" fill="rgb(0,125,0)"/>
<rect x="240" y="345" width="21" height="2" fill="rgb(0,109,0)"/>
<rect x="261" y="345" width="21" height="2" fill="rgb(0,148,0)"/>
<rect x="282" y="345" width="22" height="2" fill="rgb(212,0,0)"/>
<rect x="304" y="345" width="21" height="2" fill="rgb(107,0,0)"/>
<rect x="325" y="345" width="21" height="2" fill="rgb(36,0,0)"/>
<rect x="219" y="347" width="21" height="2" fill="rgb(0,121,0)"/>
<rect x="240" y="347" width="21" height="2" fill="rgb(0,94,0)"/>
<rect x="261" y="347" width="21" height="2" fill="rgb(0,139,0)"/>
<rect x="282" y="347" width="22" height="2" fill="rgb(192,0,0)"/>
<rect x="304" y="347" width="21" height="2" fill="rgb(102,0,0)"/>
<rect x="325" y="347" width="21" height="2" fill="rgb(17,0,0)"/>
<rect x="219" y="349" width="21" height="2" fill="rgb(0,108,0)"/>
<rect x="240" y="349" width="21" height="2" fill="rgb(0,111,0)"/>
<rect x="261" y="349" width="21" height="2" fill="rgb(0,123,0)"/>
<rect x="282" y="349" width="22" height="2" fill="rgb(193,0,0)"/>
<rect x="304" y="349" width="21" height="2" fill="rgb(100,0,0)"/>
<rect x="325" y="349" width="21" height="2" fill="rgb(17,0,0)"/>
<rect x="219" y="351" width="21" height="2" fill="rgb(0,101,0)"/>
<rect x="240" y="351" width="21" height="2" fill="rgb(0,118,0)"/>
<rect x="261" y="351" width="21" height="2" fill="rgb(0,145,0)"/>
<rect x="282" y="351" width="22" height="2" fill="rgb(188,0,0)"/>
<rect x="304" y="351" width="21" height="2" fill="rgb(108,0,0)"/>
<rect x="325" y="351" width="21" height="2" fill="rgb(38,0,0)"/>
<rect x="219" y="353" width="21" height="1" fill="rgb(0,130,0)"/>
<rect x="240" y="353" width="21" height="1" fill="rgb(0,124,0)"/>
<rect x="261" y="353" width="21" height="1" fill="rgb(0,133,0)"/>
<rect x="282" y="353" width="22" height="1" fill="rgb(136,0,0)"/>
<rect x="304" y="353" width="21" height="1" fill="rgb(31,0,0)"/>
<rect x="325" y="353" width="21" height="1" fill="rgb(200,0,0)"/>
<rect x="219" y="354" width="21" height="1" fill="rgb(0,140,0)"/>
<rect x="240" y="354" width="21" height="1" fill="rgb(0,96,0)"/>
<rect x="261" y="354" width="21" height="1" fill="rgb(0,124,0)"/>
<rect x="282" y="354" width="22" height="1" fill="rgb(145,0,0)"/>
<rect x="304" y="354" width="21" height="1" fill="rgb(44,0,0)"/>
<rect x="325" y="354" width="21" height="1" fill="rgb(202,0,0)"/>
<rect x="219" y="355" width="21" height="2" fill="rgb(0,134,0)"/>
<rect x="240" y="355" width="21" height="2" fill="rgb(0,105,0)"/>
<rect x="261" y="355" width="21" height="2" fill="rgb(0,144,0)"/>
<rect x="282" y="355" width="22" height="2" fill="rgb(124,0,0)"/>
<rect x="304" y="355" width="21" height="2" fill="rgb(29,0,0)"/>
<rect x="325" y="355" width="21" height="2" fill="rgb(188,0,0)"/>
<rect x="219" y="357" width="21" height="2" fill="rgb(0,117,0)"/>
<rect x="240" y="357" width="21" height="2" fill="rgb(0,116,0)"/>
<rect x="261" y="357" width="21" height="2" fill="rgb(0,130,0)"/>
<rect x="282" y="357" width="22" height="2" fill="rgb(132,0,0)"/>
<rect x="304" y="357" width="21" height="2" fill="rgb(35,0,0)"/>
<rect x="325" y="357" width="21" height="2" fill="rgb(186,0,0)"/>
<rect x="219" y="359" width="21" height="2" fill="rgb(0,111,0)"/>
<rect x="240" y="359" width="21" height="2" fill="rgb(0,97,0)"/>
<rect x="261" y="359" width="21" height="2" fill="rgb(0,132,0)"/>
<rect x="282" y="359" width="22" height="2" fill="rgb(136,0,0)"/>
<rect x="304" y="359" width="21" height="2" fill="rgb(28,0,0)"/>
<rect x="325" y="359" width="21" height="2" fill="rgb(195,0,0)"/>
<rect x="219" y="361" width="21" height="1" fill="rgb(0,137,0)"/>
<rect x="240" y="361" width="21" height="1" fill="rgb(0,109,0)"/>
<rect x="261" y="361" width="21" height="1" fill="rgb(0,122,0)"/>
<rect x="282" y="361" width="22" height="1" fill="rgb(190,0,0)"/>
<rect x="304" y="361" width="21" height="1" fill="rgb(12,0,0)"/>
<rect x="325" y="361" width="21" height="1" fill="rgb(115,0,0)"/>
<rect x="219" y="362" width="21" height="2" fill="rgb(0,116,0)"/>
<rect x="240" y="362" width="21" height="2" fill="rgb(0,97,0)"/>
<rect x="261" y="362" width="21" height="2" fill="rgb(0,129,0)"/>
<rect x="282" y="362" width="22" height="2" fill="rgb(187,0,0)"/>
<rect x="304" y="362" width="21" height="2" fill="rgb(11,0,0)"/>
<rect x="325" y="362" width="21" height="2" fill="rgb(123,0,0)"/>
<rect x="219" y="364" width="21" height="2" fill="rgb(0,117,0)"/>
<rect x="240" y="364" width="21" height="2" fill="rgb(0,78,0)"/>
<rect x="261" y="364" width="21" height="2" fill="rgb(0,126,0)"/>
<rect x="282" y="364" width="22" height="2" fill="rgb(164,0,0)"/>
<rect x="304" y="364" width="21" height="2" fill="rgb(19,0,0)"/>
<rect x="325" y="364" width="21" height="2" fill="rgb(116,0,0)"/>
<rect x="219" y="366" width="21" height="2" fill="rgb(0,120,0)"/>
<rect x="240" y="366" width="21" height="2" fill="rgb(0,73,0)"/>
<rect x="261" y="366" width="21" height="2" fill="rgb(0,128,0)"/>
<rect x="282" y="366" width="22" height="2" fill="rgb(155,0,0)"/>
<rect x="304" y="366" width="21" height="2" fill="rgb(31,0,0)"/>
<rect x="325" y="366" width="21" height="2" fill="rgb(153,0,0)"/>
<rect x="219" y="368" width="21" height="1" fill="rgb(0,136,0)"/>
<rect x="240" y="368" width="21" height="1" fill="rgb(0,108,0)"/>
<rect x="261" y="368" width="21" height="1" fill="rgb(0,107,0)"/>
<rect x="282" y="368" width="22" height="1" fill="rgb(216,0,0)"/>
<rect x="304" y="368" width="21" height="1" fill="rgb(105,0,0)"/>
<rect x="325" y="368" width="21" height="1" fill="rgb(140,0,0)"/>
<rect x="219" y="369" width="21" height="1" fill="rgb(0,144,0)"/>
<rect x="240" y="369" width="21" height="1" fill="rgb(0,121,0)"/>
<rect x="261" y="369" width="21" height="1" fill="rgb(0,136,0)"/>
<rect x="282" y="369" width="22" height="1" fill="rgb(198,0,0)"/>
<rect x="304" y="369" width="21" height="1" fill="rgb(119,0,0)"/>
<rect x="325" y="369" width="21" height="1" fill="rgb(118,0,0)"/>
<rect x="219" y="370" width="21" height="2" fill="rgb(0,120,0)"/>
<rect x="240" y="370" width="21" height="2" fill="rgb(0,136,0)"/>
<rect x="261" y="370" width="21" height="2" fill="rgb(0,125,0)"/>
<rect x="282" y="370" width="22" height="2" fill="rgb(203,0,0)"/>
<rect x="304" y="370" width="21" height="2" fill="rgb(105,0,0)"/>
<rect x="325" y="370" width="21" height="2" fill="rgb(126,0,0)"/>
<rect x="219" y="372" width="21" height="1" fill="rgb(0,119,0)"/>
<rect x="240" y="372" width="21" height="1" fill="rgb(0,116,0)"/>
<rect x="261" y="372" width="21" height="1" fill="rgb(0,111,0)"/>
<rect x="282" y="372" width="22" height="1" fill="rgb(206,0,0)"/>
<rect x="304" y="372" width="21" height="1" fill="rgb(126,0,0)"/>
<rect x="325" y="372" width="21" height="1" fill="rgb(123,0,0)"/>
<rect x="219" y="373" width="21" height="2" fill="rgb(0,137,0)"/>
<rect x="240" y="373" width="21" height="2" fill="rgb(0,122,0)"/>
<rect x="261" y="373" width="21" height="2" fill="rgb(0,107,0)"/>
<rect x="282" y="373" width="22" height="2" fill="rgb(198,0,0)"/>
<rect x="304" y="373" width="21" height="2" fill="rgb(122,0,0)"/>
<rect x="325" y="373" width="21" height="2" fill="rgb(128,0,0)"/>
<rect x="219" y="375" width="21" height="1" fill="rgb(0,115,0)"/>
<rect x="240" y="375" width="21" height="1" fill="rgb(0,121,0)"/>
<rect x="261" y="375" width="21" height="1" fill="rgb(0,130,0)"/>
<rect x="282" y="375" width="22" height="1" fill="rgb(152,0,0)"/>
<rect x="304" y="375" width="21" height="1" fill="rgb(139,0,0)"/>
<rect x="325" y="375" width="21" height="1" fill="rgb(129,0,0)"/>
<rect x="219" y="376" width="21" height="1" fill="rgb(0,113,0)"/>
<rect x="240" y="376" width="21" height="1" fill="rgb(0,144,0)"/>
<rect x="261" y="376" width="21" height="1" fill="rgb(0,116,0)"/>
<rect x="282" y="376" width="22" height="1" fill="rgb(164,0,0)"/>
<rect x="304" y="376" width="21" height="1" fill="rgb(127,0,0)"/>
<rect x="325" y="376" width="21" height="1" fill="rgb(134,0,0)"/>
<rect x="219" y="377" width="21" height="2" fill="rgb(0,125,0)"/>
<rect x="240" y="377" width="21" height="2" fill="rgb(0,144,0)"/>
<rect x="261" y="377" width="21" height="2" fill="rgb(0,138,0)"/>
<rect x="282" y="377" width="22" height="2" fill="rgb(161,0,0)"/>
<rect x="304" y="377" width="21" height="2" fill="rgb(120,0,0)"/>
<rect x="325" y="377" width="21" height="2" fill="rgb(119,0,0)"/>
<rect x="219" y="379" width="21" height="2" fill="rgb(0,142,0)"/>
<rect x="240" y="379" width="21" height="2" fill="rgb(0,142,0)"/>
<rect x="261" y="379" width="21" height="2" fill="rgb(0,114,0)"/>
<rect x="282" y="379" width="22" height="2" fill="rgb(197,0,0)"/>
<rect x="304" y="379" width="21" height="2" fill="rgb(143,0,0)"/>
<rect x="325" y="379" width="21" height="2" fill="rgb(119,0,0)"/>
<rect x="219" y="381" width="21" height="2" fill="rgb(0,112,0)"/>
<rect x="240" y="381" width="21" height="2" fill="rgb(0,140,0)"/>
<rect x="261" y="381" width="21" height="2" fill="rgb(0,142,0)"/>
<rect x="282" y="381" width="22" height="2" fill="rgb(175,0,0)"/>
<rect x="304" y="381" width="21" height="2" fill="rgb(148,0,0)"/>
<rect x="325" y="381" width="21" height="2" fill="rgb(110,0,0)"/>
<rect x="219" y="383" width="21" height="1" fill="rgb(0,131,0)"/>
<rect x="240" y="383" width="21" height="1" fill="rgb(0,104,0)"/>
<rect x="261" y="383" width="21" height="1" fill="rgb(0,114,0)"/>
<rect x="282" y="383" width="22" height="1" fill="rgb(192,0,0)"/>
<rect x="304" y="383" width="21" height="1" fill="rgb(154,0,0)"/>
<rect x="325" y="383" width="21" height="1" fill="rgb(132,0,0)"/>
<rect x="219" y="384" width="21" height="1" fill="rgb(0,123,0)"/>
<rect x="240" y="384" width="21" height="1" fill="rgb(0,122,0)"/>
<rect x="261" y="384" width="21" height="1" fill="rgb(0,114,0)"/>
<rect x="282" y="384" width="22" height="1" fill="rgb(162,0,0)"/>
<rect x="304" y="384" width="21" height="1" fill="rgb(135,0,0)"/>
<rect x="325" y="384" width="21" height="1" fill="rgb(109,0,0)"/>
<rect x="219" y="385" width="21" height="2" fill="rgb(0,126,0)"/>
<rect x="240" y="385" width="21" height="2" fill="rgb(0,105,0)"/>
<rect x="261" y="385" width="21" height="2" fill="rgb(0,121,0)"/>
<rect x="282" y="385" width="22" height="2" fill="rgb(168,0,0)"/>
<rect x="304" y="385" width="21" height="2" fill="rgb(81,0,0)"/>
<rect x="325" y="385" width="21" height="2" fill="rgb(112,0,0)"/>
<rect x="219" y="387" width="21" height="2" fill="rgb(0,134,0)"/>
<rect x="240" y="387" width="21" height="2" fill="rgb(0,127,0)"/>
<rect x="261" y="387" width="21" height="2" fill="rgb(0,136,0)"/>
<rect x="282" y="387" width="22" height="2" fill="rgb(165,0,0)"/>
<rect x="304" y="387" width="21" height="2" fill="rgb(99,0,0)"/>
<rect x="325" y="387" width="21" height="2" fill="rgb(124,0,0)"/>
<rect x="219" y="389" width="21" height="1" fill="rgb(0,106,0)"/>
<rect x="240" y="389" width="21" height="1" fill="rgb(0,111,0)"/>
<rect x="261" y="389" width="21" height="1" fill="rgb(0,140,0)"/>
<rect x="282" y="389" width="22" height="1" fill="rgb(170,0,0)"/>
<rect x="304" y="389" width="21" height="1" fill="rgb(93,0,0)"/>
<rect x="325" y="389" width="21" height="1" fill="rgb(129,0,0)"/>
<rect x="219" y="390" width="21" height="2" fill="rgb(0,142,0)"/>
<rect x="240" y="390" width="21" height="2" fill="rgb(0,119,0)"/>
<rect x="261" y="390" width="21" height="2" fill="rgb(0,117,0)"/>
<rect x="282" y="390" width="22" height="2" fill="rgb(188,0,0)"/>
<rect x="304" y="390" width="21" height="2" fill="rgb(90,0,0)"/>
<rect x="325" y="390" width="21" height="2" fill="rgb(106,0,0)"/>
<rect x="219" y="392" width="21" height="1" fill="rgb(0,124,0)"/>
<rect x="240" y="392" width="21" height="1" fill="rgb(0,108,0)"/>
<rect x="261" y="392" width="21" height="1" fill="rgb(0,141,0)"/>
<rect x="282" y="392" width="22" height="1" fill="rgb(176,0,0)"/>
<rect x="304" y="392" width="21" height="1" fill="rgb(96,0,0)"/>
<rect x="325" y="392" width="21" height="1" fill="rgb(121,0,0)"/>
<rect x="219" y="393" width="21" height="2" fill="rgb(0,83,0)"/>
<rect x="240" y="393" width="21" height="2" fill="rgb(0,139,0)"/>
<rect x="261" y="393" width="21" height="2" fill="rgb(0,127,0)"/>
<rect x="282" y="393" width="22" height="2" fill="rgb(96,0,0)"/>
<rect x="304" y="393" width="21" height="2" fill="rgb(41,0,0)"/>
<rect x="325" y="393" width="21" height="2" fill="rgb(250,0,0)"/>
<rect x="219" y="395" width="21" height="1" fill="rgb(0,64,0)"/>
<rect x="240" y="395" width="21" height="1" fill="rgb(0,121,0)"/>
<rect x="261" y="395" width="21" height="1" fill="rgb(0,116,0)"/>
<rect x="282" y="395" width="22" height="1" fill="rgb(93,0,0)"/>
<rect x="304" y="395" width="21" height="1" fill="rgb(38,0,0)"/>
<rect x="325" y="395" width="21" height="1" fill="rgb(218,0,0)"/>
<rect x="219" y="396" width="21" height="1" fill="rgb(0,113,0)"/>
<rect x="240" y="396" width="21" height="1" fill="rgb(0,124,0)"/>
<rect x="261" y="396" width="21" height="1" fill="rgb(0,123,0)"/>
<rect x="282" y="396" width="22" height="1" fill="rgb(64,0,0)"/>
<rect x="304" y="396" width="21" height="1" fill="rgb(47,0,0)"/>
<rect x="325" y="396" width="21" height="1" fill="rgb(249,0,0)"/>
<rect x="219" y="397" width="21" height="2" fill="rgb(0,110,0)"/>
<rect x="240" y="397" width="21" height="2" fill="rgb(0,108,0)"/>
<rect x="261" y="397" width="21" height="2" fill="rgb(0,126,0)"/>
<rect x="282" y="397" width="22" height="2" fill="rgb(85,0,0)"/>
<rect x="304" y="397" width="21" height="2" fill="rgb(61,0,0)"/>
<rect x="325" y="397" width="21" height="2" fill="rgb(245,0,0)"/>
<rect x="219" y="399" width="21" height="1" fill="rgb(0,111,0)"/>
<rect x="240" y="399" width="21" height="1" fill="rgb(0,112,0)"/>
<rect x="261" y="399" width="21" height="1" fill="rgb(0,107,0)"/>
<rect x="282" y="399" width="22" height="1" fill="rgb(88,0,0)"/>
<rect x="304" y="399" width="21" height="1" fill="rgb(59,0,0)"/>
<rect x="325" y="399" width="21" height="1" fill="rgb(250,0,0)"/>
<rect x="219" y="400" width="21" height="2" fill="rgb(0,119,0)"/>
<rect x="240" y="400" width="21" height="2" fill="rgb(0,61,0)"/>
<rect x="261" y="400" width="21" height="2" fill="rgb(0,98,0)"/>
<rect x="282" y="400" width="22" height="2" fill="rgb(115,0,0)"/>
<rect x="304" y="400" width="21" height="2" fill="rgb(129,0,0)"/>
<rect x="325" y="400" width="21" height="2" fill="rgb(137,0,0)"/>
<rect x="219" y="402" width="21" height="2" fill="rgb(0,133,0)"/>
<rect x="240" y="402" width="21" height="2" fill="rgb(0,118,0)"/>
<rect x="261" y="402" width="21" height="2" fill="rgb(0,130,0)"/>
<rect x="282" y="402" width="22" height="2" fill="rgb(132,0,0)"/>
<rect x="304" y="402" width="21" height="2" fill="rgb(142,0,0)"/>
<rect x="325" y="402" width="21" height="2" fill="rgb(123,0,0)"/>
<rect x="219" y="404" width="21" height="2" fill="rgb(0,113,0)"/>
<rect x="240" y="404" width="21" height="2" fill="rgb(0,117,0)"/>
<rect x="261" y="404" width="21" height="2" fill="rgb(0,106,0)"/>
<rect x="282" y="404" width="22" height="2" fill="rgb(149,0,0)"/>
<rect x="304" y="404" width="21" height="2" fill="rgb(153,0,0)"/>
<rect x="325" y="404" width="21" height="2" fill="rgb(117,0,0)"/>
<rect x="219" y="406" width="21" height="2" fill="rgb(0,135,0)"/>
<rect x="240" y="406" width="21" height="2" fill="rgb(0,110,0)"/>
<rect x="261" y="406" width="21" height="2" fill="rgb(0,123,0)"/>
<rect x="282" y="406" width="22" height="2" fill="rgb(148,0,0)"/>
<rect x="304" y="406" width="21" height="2" fill="rgb(131,0,0)"/>
<rect x="325" y="406" width="21" height="2" fill="rgb(145,0,0)"/>
<rect x="219" y="408" width="21" height="2" fill="rgb(0,114,0)"/>
<rect x="240" y="408" width="21" height="2" fill="rgb(0,122,0)"/>
<rect x="261" y="408" width="21" height="2" fill="rgb(0,104,0)"/>
<rect x="282" y="408" width="22" height="2" fill="rgb(52,0,0)"/>
<rect x="304" y="408" width="21" height="2" fill="rgb(184,0,0)"/>
<rect x="325" y="408" width="21" height="2" fill="rgb(140,0,0)"/>
<rect x="219" y="410" width="21" height="2" fill="rgb(0,121,0)"/>
<rect x="240" y="410" width="21" height="2" fill="rgb(0,123,0)"/>
<rect x="261" y="410" width="21" height="2" fill="rgb(0,98,0)"/>
<rect x="282" y="410" width="22" height="2" fill="rgb(72,0,0)"/>
<rect x="304" y="410" width="21" height="2" fill="rgb(220,0,0)"/>
<rect x="325" y="410" width="21" height="2" fill="rgb(147,0,0)"/>
<rect x="219" y="412" width="21" height="1" fill="rgb(0,121,0)"/>
<rect x="240" y="412" width="21" height="1" fill="rgb(0,128,0)"/>
<rect x="261" y="412" width="21" height="1" fill="rgb(0,118,0)"/>
<rect x="282" y="412" width="22" height="1" fill="rgb(83,0,0)"/>
<rect x="304" y="412" width="21" height="1" fill="rgb(223,0,0)"/>
<rect x="325" y="412" width="21" height="1" fill="rgb(131,0,0)"/>
<rect x="219" y="413" width="21" height="1" fill="rgb(0,107,0)"/>
<rect x="240" y="413" width="21" height="1" fill="rgb(0,139,0)"/>
<rect x="261" y="413" width="21" height="1" fill="rgb(0,113,0)"/>
<rect x="282" y="413" width="22" height="1" fill="rgb(79,0,0)"/>
<rect x="304" y="413" width="21" height="1" fill="rgb(182,0,0)"/>
<rect x="325" y="413" width="21" height="1" fill="rgb(127,0,0)"/>
<rect x="219" y="414" width="21" height="1" fill="rgb(0,118,0)"/>
<rect x="240" y="414" width="21" height="1" fill="rgb(0,117,0)"/>
<rect x="261" y="414" width="21" height="1" fill="rgb(0,136,0)"/>
<rect x="282" y="414" width="22" height="1" fill="rgb(58,0,0)"/>
<rect x="304" y="414" width="21" height="1" fill="rgb(222,0,0)"/>
<rect x="325" y="414" width="21" height="1" fill="rgb(125,0,0)"/>
<rect x="219" y="415" width="21" height="2" fill="rgb(0,115,0)"/>
<rect x="240" y="415" width="21" height="2" fill="rgb(0,128,0)"/>
<rect x="261" y="415" width="21" height="2" fill="rgb(0,122,0)"/>
<rect x="282" y="415" width="22" height="2" fill="rgb(132,0,0)"/>
<rect x="304" y="415" width="21" height="2" fill="rgb(222,0,0)"/>
<rect x="325" y="415" width="21" height="2" fill="rgb(133,0,0)"/>
<rect x="219" y="417" width="21" height="2" fill="rgb(0,118,0)"/>
<rect x="240" y="417" width="21" height="2" fill="rgb(0,108,0)"/>
<rect x="261" y="417" width="21" height="2" fill="rgb(0,102,0)"/>
<rect x="282" y="417" width="22" height="2" fill="rgb(133,0,0)"/>
<rect x="304" y="417" width="21" height="2" fill="rgb(210,0,0)"/>
<rect x="325" y="417" width="21" height="2" fill="rgb(125,0,0)"/>
<rect x="219" y="419" width="21" height="1" fill="rgb(0,102,0)"/>
<rect x="240" y="419" width="21" height="1" fill="rgb(0,98,0)"/>
<rect x="261" y="419" width="21" height="1" fill="rgb(0,98,0)"/>
<rect x="282" y="419" width="22" height="1" fill="rgb(116,0,0)"/>
<rect x="304" y="419" width="21" height="1" fill="rgb(214,0,0)"/>
<rect x="325" y="419" width="21" height="1" fill="rgb(114,0,0)"/>
<rect x="219" y="420" width="21" height="2" fill="rgb(0,136,0)"/>
<rect x="240" y="420" width="21" height="2" fill="rgb(0,101,0)"/>
<rect x="261" y="420" width="21" height="2" fill="rgb(0,102,0)"/>
<rect x="282" y="420" width="22" height="2" fill="rgb(133,0,0)"/>
<rect x="304" y="420" width="21" height="2" fill="rgb(204,0,0)"/>
<rect x="325" y="420" width="21" height="2" fill="rgb(106,0,0)"/>
<rect x="219" y="422" width="21" height="1" fill="rgb(0,107,0)"/>
<rect x="240" y="422" width="21" height="1" fill="rgb(0,133,0)"/>
<rect x="261" y="422" width="21" height="1" fill="rgb(0,115,0)"/>
<rect x="282" y="422" width="22" height="1" fill="rgb(154,0,0)"/>
<rect x="304" y="422" width="21" height="1" fill="rgb(193,0,0)"/>
<rect x="325" y="422" width="21" height="1" fill="rgb(113,0,0)"/>
<rect x="219" y="423" width="21" height="2" fill="rgb(0,124,0)"/>
<rect x="240" y="423" width="21" height="2" fill="rgb(0,135,0)"/>
<rect x="261" y="423" width="21" height="2" fill="rgb(0,113,0)"/>
<rect x="282" y="423" width="22" height="2" fill="rgb(121,0,0)"/>
<rect x="304" y="423" width="21" height="2" fill="rgb(213,0,0)"/>
<rect x="325" y="423" width="21" height="2" fill="rgb(117,0,0)"/>
<rect x="219" y="425" width="21" height="1" fill="rgb(0,108,0)"/>
<rect x="240" y="425" width="21" height="1" fill="rgb(0,103,0)"/>
<rect x="261" y="425" width="21" height="1" fill="rgb(0,133,0)"/>
<rect x="282" y="425" width="22" height="1" fill="rgb(145,0,0)"/>
<rect x="304" y="425" width="21" height="1" fill="rgb(217,0,0)"/>
<rect x="325" y="425" width="21" height="1" fill="rgb(110,0,0)"/>
<rect x="219" y="426" width="21" height="1" fill="rgb(0,136,0)"/>
<rect x="240" y="426" width="21" height="1" fill="rgb(0,107,0)"/>
<rect x="261" y="426" width="21" height="1" fill="rgb(0,99,0)"/>
<rect x="282" y="426" width="22" height="1" fill="rgb(113,0,0)"/>
<rect x="304" y="426" width="21" height="1" fill="rgb(192,0,0)"/>
<rect x="325" y="426" width="21" height="1" fill="rgb(114,0,0)"/>
</g>
<text class="t" transform="translate(228.08,429.4) rotate(90) scale(0.43)" font-size="10" fill="#444">GM-3</text>
<text class="t" transform="translate(249.25,429.4) rotate(90) scale(0.43)" font-size="10" fill="#444">GM-1</text>
<text class="t" transform="translate(270.42,429.4) rotate(90) scale(0.43)" font-size="10" fill="#444">GM-2</text>
<text class="t" transform="translate(291.58,429.4) rotate(90) scale(0.43)" font-size="10" fill="#444">DM5-1</text>
<text class="t" transform="translate(312.75,429.4) rotate(90) scale(0.43)" font-size="10" fill="#444">DM5-2</text>
<text class="t" transform="translate(333.92,429.4) rotate(90) scale(0.43)" font-size="10" fill="#444">DM5-3</text>
<defs><linearGradient id="gD" x1="0" y1="0" x2="0" y2="1"><stop offset="0" stop-color="#FF0000"/><stop offset="0.5" stop-color="#000000"/><stop offset="1" stop-color="#00FF00"/></linearGradient></defs>
<rect x="350.4" y="257" width="4.2" height="62" fill="url(#gD)"/>
<text x="356.40" y="265.20" class="t" font-size="4.5" fill="#333">1.5</text>
<text x="356.40" y="273.10" class="t" font-size="4.5" fill="#333">1</text>
<text x="356.40" y="281.30" class="t" font-size="4.5" fill="#333">0.5</text>
<text x="356.40" y="289.70" class="t" font-size="4.5" fill="#333">0</text>
<text x="356.40" y="298.00" class="t" font-size="4.5" fill="#333">-0.5</text>
<text x="356.40" y="306.10" class="t" font-size="4.5" fill="#333">-1</text>
<text x="356.40" y="314.50" class="t" font-size="4.5" fill="#333">-1.5</text>
<path d="M250.75,257 V252.8 H271.92 V257" stroke="#666" stroke-width="0.7" fill="none"/><path d="M229.58,257 V251.6 H261.33 V252.8" stroke="#666" stroke-width="0.7" fill="none"/><path d="M314.25,257 V250.6 H335.42 V257" stroke="#666" stroke-width="0.7" fill="none"/><path d="M293.08,257 V249.2 H324.83 V250.6" stroke="#666" stroke-width="0.7" fill="none"/><path d="M245.46,251.6 V235.2 H308.96 V249.2" stroke="#666" stroke-width="0.7" fill="none"/>
<path d="M218.40,262.00 H216.51 V264.00 H218.40 M218.40,260.00 H215.91 V263.00 H216.51 M218.40,266.00 H215.82 V268.00 H218.40 M218.40,270.00 H215.99 V272.00 H218.40 M215.99,271.00 H214.85 V274.00 H218.40 M218.40,276.00 H216.31 V278.00 H218.40 M218.40,288.00 H216.70 V290.00 H218.40 M216.70,289.00 H216.10 V292.00 H218.40 M218.40,286.00 H215.50 V290.50 H216.10 M215.50,288.25 H214.90 V294.00 H218.40 M214.90,291.12 H214.30 V296.00 H218.40 M218.40,298.00 H216.15 V300.00 H218.40 M218.40,302.00 H215.99 V304.00 H218.40 M216.15,299.00 H214.86 V303.00 H215.99 M214.30,293.56 H213.70 V301.00 H214.86 M213.70,297.28 H213.10 V306.00 H218.40 M218.40,312.00 H216.74 V314.00 H218.40 M218.40,310.00 H216.14 V313.00 H216.74 M218.40,308.00 H215.54 V311.50 H216.14 M218.40,316.00 H216.10 V318.00 H218.40 M216.10,317.00 H215.08 V320.00 H218.40 M215.54,309.75 H214.48 V318.50 H215.08 M214.48,314.12 H213.10 V322.00 H218.40 M213.10,301.64 H212.50 V318.06 H213.10 M218.40,284.00 H211.90 V309.85 H212.50 M218.40,282.00 H211.30 V296.93 H211.90 M218.40,280.00 H210.70 V289.46 H211.30 M216.31,277.00 H210.10 V284.73 H210.70 M214.85,272.50 H209.50 V280.87 H210.10 M215.82,267.00 H208.90 V276.68 H209.50 M215.91,261.50 H206.00 V271.84 H208.90 M218.40,258.00 H204.60 V266.67 H206.00 M218.40,324.00 H210.60 V326.00 H218.40 M218.40,328.00 H216.03 V330.00 H218.40 M218.40,332.00 H215.75 V334.00 H218.40 M218.40,336.00 H215.71 V338.00 H218.40 M218.40,340.00 H215.92 V342.00 H218.40 M215.71,337.00 H215.11 V341.00 H215.92 M215.75,333.00 H214.51 V339.00 H215.11 M216.03,329.00 H213.91 V336.00 H214.51 M218.40,344.00 H215.49 V346.00 H218.40 M218.40,348.00 H215.77 V350.00 H218.40 M218.40,352.00 H215.57 V354.00 H218.40 M215.57,353.00 H214.68 V356.00 H218.40 M218.40,360.00 H217.32 V362.00 H218.40 M217.32,361.00 H216.72 V364.00 H218.40 M216.72,362.50 H216.12 V366.00 H218.40 M216.12,364.25 H215.52 V368.00 H218.40 M218.40,358.00 H214.92 V366.12 H215.52 M218.40,374.00 H216.12 V376.00 H218.40 M218.40,372.00 H215.52 V375.00 H216.12 M218.40,370.00 H214.92 V373.50 H215.52 M214.92,362.06 H214.32 V371.75 H214.92 M214.68,354.50 H213.72 V366.91 H214.32 M215.77,349.00 H213.12 V360.70 H213.72 M215.49,345.00 H212.52 V354.85 H213.12 M218.40,378.00 H216.13 V380.00 H218.40 M218.40,386.00 H216.18 V388.00 H218.40 M218.40,392.00 H217.05 V394.00 H218.40 M217.05,393.00 H216.45 V396.00 H218.40 M218.40,390.00 H215.85 V394.50 H216.45 M218.40,398.00 H215.85 V400.00 H218.40 M215.85,392.25 H215.25 V399.00 H215.85 M218.40,402.00 H215.59 V404.00 H218.40 M215.25,395.62 H214.65 V403.00 H215.59 M214.65,399.31 H214.05 V406.00 H218.40 M216.18,387.00 H213.45 V402.66 H214.05 M218.40,410.00 H215.77 V412.00 H218.40 M218.40,408.00 H214.63 V411.00 H215.77 M213.45,394.83 H212.85 V409.50 H214.63 M218.40,384.00 H212.25 V402.16 H212.85 M218.40,382.00 H210.70 V393.08 H212.25 M216.13,379.00 H210.10 V387.54 H210.70 M212.52,349.93 H209.50 V383.27 H210.10 M218.40,414.00 H216.00 V416.00 H218.40 M216.00,415.00 H215.40 V418.00 H218.40 M218.40,422.00 H216.30 V424.00 H218.40 M218.40,420.00 H215.69 V423.00 H216.30 M215.40,416.50 H214.80 V421.50 H215.69 M214.80,419.00 H214.20 V426.00 H218.40 M209.50,366.60 H208.90 V422.50 H214.20 M213.91,332.50 H205.00 V394.55 H208.90 M210.60,325.00 H203.60 V363.52 H205.00 M204.60,262.34 H196.50 V344.26 H203.60" stroke="#8a8a8a" stroke-width="0.55" fill="none"/>
<text x="366.0" y="231.6" font-size="12" font-weight="bold">E</text>
<g shape-rendering="crispEdges">
<rect x="397" y="257" width="21" height="2" fill="rgb(226,0,0)"/>
<rect x="418" y="257" width="22" height="2" fill="rgb(44,0,0)"/>
<rect x="440" y="257" width="21" height="2" fill="rgb(136,0,0)"/>
<rect x="461" y="257" width="21" height="2" fill="rgb(0,125,0)"/>
<rect x="482" y="257" width="21" height="2" fill="rgb(0,102,0)"/>
<rect x="503" y="257" width="21" height="2" fill="rgb(0,20,0)"/>
<rect x="397" y="259" width="21" height="2" fill="rgb(227,0,0)"/>
<rect x="418" y="259" width="22" height="2" fill="rgb(37,0,0)"/>
<rect x="440" y="259" width="21" height="2" fill="rgb(146,0,0)"/>
<rect x="461" y="259" width="21" height="2" fill="rgb(0,112,0)"/>
<rect x="482" y="259" width="21" height="2" fill="rgb(0,117,0)"/>
<rect x="503" y="259" width="21" height="2" fill="rgb(0,134,0)"/>
<rect x="397" y="261" width="21" height="1" fill="rgb(226,0,0)"/>
<rect x="418" y="261" width="22" height="1" fill="rgb(27,0,0)"/>
<rect x="440" y="261" width="21" height="1" fill="rgb(137,0,0)"/>
<rect x="461" y="261" width="21" height="1" fill="rgb(0,132,0)"/>
<rect x="482" y="261" width="21" height="1" fill="rgb(0,138,0)"/>
<rect x="503" y="261" width="21" height="1" fill="rgb(0,127,0)"/>
<rect x="397" y="262" width="21" height="1" fill="rgb(216,0,0)"/>
<rect x="418" y="262" width="22" height="1" fill="rgb(45,0,0)"/>
<rect x="440" y="262" width="21" height="1" fill="rgb(165,0,0)"/>
<rect x="461" y="262" width="21" height="1" fill="rgb(0,130,0)"/>
<rect x="482" y="262" width="21" height="1" fill="rgb(0,111,0)"/>
<rect x="503" y="262" width="21" height="1" fill="rgb(0,149,0)"/>
<rect x="397" y="263" width="21" height="2" fill="rgb(243,0,0)"/>
<rect x="418" y="263" width="22" height="2" fill="rgb(26,0,0)"/>
<rect x="440" y="263" width="21" height="2" fill="rgb(133,0,0)"/>
<rect x="461" y="263" width="21" height="2" fill="rgb(0,115,0)"/>
<rect x="482" y="263" width="21" height="2" fill="rgb(0,108,0)"/>
<rect x="503" y="263" width="21" height="2" fill="rgb(0,149,0)"/>
<rect x="397" y="265" width="21" height="2" fill="rgb(134,0,0)"/>
<rect x="418" y="265" width="22" height="2" fill="rgb(164,0,0)"/>
<rect x="440" y="265" width="21" height="2" fill="rgb(143,0,0)"/>
<rect x="461" y="265" width="21" height="2" fill="rgb(0,153,0)"/>
<rect x="482" y="265" width="21" height="2" fill="rgb(0,100,0)"/>
<rect x="503" y="265" width="21" height="2" fill="rgb(0,137,0)"/>
<rect x="397" y="267" width="21" height="2" fill="rgb(129,0,0)"/>
<rect x="418" y="267" width="22" height="2" fill="rgb(153,0,0)"/>
<rect x="440" y="267" width="21" height="2" fill="rgb(183,0,0)"/>
<rect x="461" y="267" width="21" height="2" fill="rgb(0,143,0)"/>
<rect x="482" y="267" width="21" height="2" fill="rgb(0,90,0)"/>
<rect x="503" y="267" width="21" height="2" fill="rgb(0,149,0)"/>
<rect x="397" y="269" width="21" height="1" fill="rgb(129,0,0)"/>
<rect x="418" y="269" width="22" height="1" fill="rgb(166,0,0)"/>
<rect x="440" y="269" width="21" height="1" fill="rgb(146,0,0)"/>
<rect x="461" y="269" width="21" height="1" fill="rgb(0,165,0)"/>
<rect x="482" y="269" width="21" height="1" fill="rgb(0,104,0)"/>
<rect x="503" y="269" width="21" height="1" fill="rgb(0,146,0)"/>
<rect x="397" y="270" width="21" height="1" fill="rgb(181,0,0)"/>
<rect x="418" y="270" width="22" height="1" fill="rgb(104,0,0)"/>
<rect x="440" y="270" width="21" height="1" fill="rgb(159,0,0)"/>
<rect x="461" y="270" width="21" height="1" fill="rgb(0,158,0)"/>
<rect x="482" y="270" width="21" height="1" fill="rgb(0,81,0)"/>
<rect x="503" y="270" width="21" height="1" fill="rgb(0,141,0)"/>
<rect x="397" y="271" width="21" height="2" fill="rgb(182,0,0)"/>
<rect x="418" y="271" width="22" height="2" fill="rgb(100,0,0)"/>
<rect x="440" y="271" width="21" height="2" fill="rgb(179,0,0)"/>
<rect x="461" y="271" width="21" height="2" fill="rgb(0,178,0)"/>
<rect x="482" y="271" width="21" height="2" fill="rgb(0,77,0)"/>
<rect x="503" y="271" width="21" height="2" fill="rgb(0,154,0)"/>
<rect x="397" y="273" width="21" height="2" fill="rgb(181,0,0)"/>
<rect x="418" y="273" width="22" height="2" fill="rgb(97,0,0)"/>
<rect x="440" y="273" width="21" height="2" fill="rgb(184,0,0)"/>
<rect x="461" y="273" width="21" height="2" fill="rgb(0,151,0)"/>
<rect x="482" y="273" width="21" height="2" fill="rgb(0,106,0)"/>
<rect x="503" y="273" width="21" height="2" fill="rgb(0,132,0)"/>
<rect x="397" y="275" width="21" height="1" fill="rgb(162,0,0)"/>
<rect x="418" y="275" width="22" height="1" fill="rgb(88,0,0)"/>
<rect x="440" y="275" width="21" height="1" fill="rgb(171,0,0)"/>
<rect x="461" y="275" width="21" height="1" fill="rgb(0,150,0)"/>
<rect x="482" y="275" width="21" height="1" fill="rgb(0,94,0)"/>
<rect x="503" y="275" width="21" height="1" fill="rgb(0,135,0)"/>
<rect x="397" y="276" width="21" height="2" fill="rgb(172,0,0)"/>
<rect x="418" y="276" width="22" height="2" fill="rgb(121,0,0)"/>
<rect x="440" y="276" width="21" height="2" fill="rgb(187,0,0)"/>
<rect x="461" y="276" width="21" height="2" fill="rgb(0,161,0)"/>
<rect x="482" y="276" width="21" height="2" fill="rgb(0,112,0)"/>
<rect x="503" y="276" width="21" height="2" fill="rgb(0,137,0)"/>
<rect x="397" y="278" width="21" height="1" fill="rgb(175,0,0)"/>
<rect x="418" y="278" width="22" height="1" fill="rgb(102,0,0)"/>
<rect x="440" y="278" width="21" height="1" fill="rgb(55,0,0)"/>
<rect x="461" y="278" width="21" height="1" fill="rgb(0,66,0)"/>
<rect x="482" y="278" width="21" height="1" fill="rgb(0,127,0)"/>
<rect x="503" y="278" width="21" height="1" fill="rgb(0,199,0)"/>
<rect x="397" y="279" width="21" height="1" fill="rgb(196,0,0)"/>
<rect x="418" y="279" width="22" height="1" fill="rgb(139,0,0)"/>
<rect x="440" y="279" width="21" height="1" fill="rgb(80,0,0)"/>
<rect x="461" y="279" width="21" height="1" fill="rgb(0,77,0)"/>
<rect x="482" y="279" width="21" height="1" fill="rgb(0,119,0)"/>
<rect x="503" y="279" width="21" height="1" fill="rgb(0,169,0)"/>
<rect x="397" y="280" width="21" height="1" fill="rgb(195,0,0)"/>
<rect x="418" y="280" width="22" height="1" fill="rgb(122,0,0)"/>
<rect x="440" y="280" width="21" height="1" fill="rgb(68,0,0)"/>
<rect x="461" y="280" width="21" height="1" fill="rgb(0,61,0)"/>
<rect x="482" y="280" width="21" height="1" fill="rgb(0,127,0)"/>
<rect x="503" y="280" width="21" height="1" fill="rgb(0,179,0)"/>
<rect x="397" y="281" width="21" height="2" fill="rgb(164,0,0)"/>
<rect x="418" y="281" width="22" height="2" fill="rgb(109,0,0)"/>
<rect x="440" y="281" width="21" height="2" fill="rgb(71,0,0)"/>
<rect x="461" y="281" width="21" height="2" fill="rgb(0,72,0)"/>
<rect x="482" y="281" width="21" height="2" fill="rgb(0,145,0)"/>
<rect x="503" y="281" width="21" height="2" fill="rgb(0,204,0)"/>
<rect x="397" y="283" width="21" height="1" fill="rgb(163,0,0)"/>
<rect x="418" y="283" width="22" height="1" fill="rgb(174,0,0)"/>
<rect x="440" y="283" width="21" height="1" fill="rgb(103,0,0)"/>
<rect x="461" y="283" width="21" height="1" fill="rgb(0,102,0)"/>
<rect x="482" y="283" width="21" height="1" fill="rgb(0,124,0)"/>
<rect x="503" y="283" width="21" height="1" fill="rgb(0,111,0)"/>
<rect x="397" y="284" width="21" height="2" fill="rgb(204,0,0)"/>
<rect x="418" y="284" width="22" height="2" fill="rgb(150,0,0)"/>
<rect x="440" y="284" width="21" height="2" fill="rgb(110,0,0)"/>
<rect x="461" y="284" width="21" height="2" fill="rgb(0,92,0)"/>
<rect x="482" y="284" width="21" height="2" fill="rgb(0,162,0)"/>
<rect x="503" y="284" width="21" height="2" fill="rgb(0,139,0)"/>
<rect x="397" y="286" width="21" height="2" fill="rgb(197,0,0)"/>
<rect x="418" y="286" width="22" height="2" fill="rgb(168,0,0)"/>
<rect x="440" y="286" width="21" height="2" fill="rgb(81,0,0)"/>
<rect x="461" y="286" width="21" height="2" fill="rgb(0,122,0)"/>
<rect x="482" y="286" width="21" height="2" fill="rgb(0,152,0)"/>
<rect x="503" y="286" width="21" height="2" fill="rgb(0,106,0)"/>
<rect x="397" y="288" width="21" height="1" fill="rgb(201,0,0)"/>
<rect x="418" y="288" width="22" height="1" fill="rgb(176,0,0)"/>
<rect x="440" y="288" width="21" height="1" fill="rgb(103,0,0)"/>
<rect x="461" y="288" width="21" height="1" fill="rgb(0,91,0)"/>
<rect x="482" y="288" width="21" height="1" fill="rgb(0,168,0)"/>
<rect x="503" y="288" width="21" height="1" fill="rgb(0,140,0)"/>
<rect x="397" y="289" width="21" height="1" fill="rgb(189,0,0)"/>
<rect x="418" y="289" width="22" height="1" fill="rgb(147,0,0)"/>
<rect x="440" y="289" width="21" height="1" fill="rgb(77,0,0)"/>
<rect x="461" y="289" width="21" height="1" fill="rgb(0,112,0)"/>
<rect x="482" y="289" width="21" height="1" fill="rgb(0,153,0)"/>
<rect x="503" y="289" width="21" height="1" fill="rgb(0,119,0)"/>
<rect x="397" y="290" width="21" height="2" fill="rgb(175,0,0)"/>
<rect x="418" y="290" width="22" height="2" fill="rgb(114,0,0)"/>
<rect x="440" y="290" width="21" height="2" fill="rgb(34,0,0)"/>
<rect x="461" y="290" width="21" height="2" fill="rgb(0,121,0)"/>
<rect x="482" y="290" width="21" height="2" fill="rgb(0,184,0)"/>
<rect x="503" y="290" width="21" height="2" fill="rgb(0,122,0)"/>
<rect x="397" y="292" width="21" height="2" fill="rgb(203,0,0)"/>
<rect x="418" y="292" width="22" height="2" fill="rgb(134,0,0)"/>
<rect x="440" y="292" width="21" height="2" fill="rgb(43,0,0)"/>
<rect x="461" y="292" width="21" height="2" fill="rgb(0,99,0)"/>
<rect x="482" y="292" width="21" height="2" fill="rgb(0,178,0)"/>
<rect x="503" y="292" width="21" height="2" fill="rgb(0,139,0)"/>
<rect x="397" y="294" width="21" height="2" fill="rgb(181,0,0)"/>
<rect x="418" y="294" width="22" height="2" fill="rgb(126,0,0)"/>
<rect x="440" y="294" width="21" height="2" fill="rgb(36,0,0)"/>
<rect x="461" y="294" width="21" height="2" fill="rgb(0,113,0)"/>
<rect x="482" y="294" width="21" height="2" fill="rgb(0,151,0)"/>
<rect x="503" y="294" width="21" height="2" fill="rgb(0,140,0)"/>
<rect x="397" y="296" width="21" height="2" fill="rgb(184,0,0)"/>
<rect x="418" y="296" width="22" height="2" fill="rgb(122,0,0)"/>
<rect x="440" y="296" width="21" height="2" fill="rgb(52,0,0)"/>
<rect x="461" y="296" width="21" height="2" fill="rgb(0,117,0)"/>
<rect x="482" y="296" width="21" height="2" fill="rgb(0,187,0)"/>
<rect x="503" y="296" width="21" height="2" fill="rgb(0,133,0)"/>
<rect x="397" y="298" width="21" height="1" fill="rgb(182,0,0)"/>
<rect x="418" y="298" width="22" height="1" fill="rgb(115,0,0)"/>
<rect x="440" y="298" width="21" height="1" fill="rgb(61,0,0)"/>
<rect x="461" y="298" width="21" height="1" fill="rgb(0,74,0)"/>
<rect x="482" y="298" width="21" height="1" fill="rgb(0,145,0)"/>
<rect x="503" y="298" width="21" height="1" fill="rgb(0,126,0)"/>
<rect x="397" y="299" width="21" height="1" fill="rgb(168,0,0)"/>
<rect x="418" y="299" width="22" height="1" fill="rgb(121,0,0)"/>
<rect x="440" y="299" width="21" height="1" fill="rgb(55,0,0)"/>
<rect x="461" y="299" width="21" height="1" fill="rgb(0,79,0)"/>
<rect x="482" y="299" width="21" height="1" fill="rgb(0,153,0)"/>
<rect x="503" y="299" width="21" height="1" fill="rgb(0,123,0)"/>
<rect x="397" y="300" width="21" height="1" fill="rgb(169,0,0)"/>
<rect x="418" y="300" width="22" height="1" fill="rgb(137,0,0)"/>
<rect x="440" y="300" width="21" height="1" fill="rgb(33,0,0)"/>
<rect x="461" y="300" width="21" height="1" fill="rgb(0,92,0)"/>
<rect x="482" y="300" width="21" height="1" fill="rgb(0,148,0)"/>
<rect x="503" y="300" width="21" height="1" fill="rgb(0,121,0)"/>
<rect x="397" y="301" width="21" height="1" fill="rgb(179,0,0)"/>
<rect x="418" y="301" width="22" height="1" fill="rgb(142,0,0)"/>
<rect x="440" y="301" width="21" height="1" fill="rgb(59,0,0)"/>
<rect x="461" y="301" width="21" height="1" fill="rgb(0,75,0)"/>
<rect x="482" y="301" width="21" height="1" fill="rgb(0,178,0)"/>
<rect x="503" y="301" width="21" height="1" fill="rgb(0,111,0)"/>
<rect x="397" y="302" width="21" height="1" fill="rgb(0,80,0)"/>
<rect x="418" y="302" width="22" height="1" fill="rgb(0,107,0)"/>
<rect x="440" y="302" width="21" height="1" fill="rgb(0,109,0)"/>
<rect x="461" y="302" width="21" height="1" fill="rgb(0,47,0)"/>
<rect x="482" y="302" width="21" height="1" fill="rgb(248,0,0)"/>
<rect x="503" y="302" width="21" height="1" fill="rgb(78,0,0)"/>
<rect x="397" y="303" width="21" height="2" fill="rgb(0,112,0)"/>
<rect x="418" y="303" width="22" height="2" fill="rgb(0,119,0)"/>
<rect x="440" y="303" width="21" height="2" fill="rgb(0,110,0)"/>
<rect x="461" y="303" width="21" height="2" fill="rgb(0,34,0)"/>
<rect x="482" y="303" width="21" height="2" fill="rgb(219,0,0)"/>
<rect x="503" y="303" width="21" height="2" fill="rgb(89,0,0)"/>
<rect x="397" y="305" width="21" height="1" fill="rgb(0,109,0)"/>
<rect x="418" y="305" width="22" height="1" fill="rgb(0,134,0)"/>
<rect x="440" y="305" width="21" height="1" fill="rgb(0,104,0)"/>
<rect x="461" y="305" width="21" height="1" fill="rgb(122,0,0)"/>
<rect x="482" y="305" width="21" height="1" fill="rgb(250,0,0)"/>
<rect x="503" y="305" width="21" height="1" fill="rgb(47,0,0)"/>
<rect x="397" y="306" width="21" height="2" fill="rgb(0,77,0)"/>
<rect x="418" y="306" width="22" height="2" fill="rgb(0,98,0)"/>
<rect x="440" y="306" width="21" height="2" fill="rgb(0,89,0)"/>
<rect x="461" y="306" width="21" height="2" fill="rgb(106,0,0)"/>
<rect x="482" y="306" width="21" height="2" fill="rgb(229,0,0)"/>
<rect x="503" y="306" width="21" height="2" fill="rgb(47,0,0)"/>
<rect x="397" y="308" width="21" height="1" fill="rgb(0,72,0)"/>
<rect x="418" y="308" width="22" height="1" fill="rgb(0,119,0)"/>
<rect x="440" y="308" width="21" height="1" fill="rgb(0,105,0)"/>
<rect x="461" y="308" width="21" height="1" fill="rgb(97,0,0)"/>
<rect x="482" y="308" width="21" height="1" fill="rgb(236,0,0)"/>
<rect x="503" y="308" width="21" height="1" fill="rgb(46,0,0)"/>
<rect x="397" y="309" width="21" height="1" fill="rgb(0,94,0)"/>
<rect x="418" y="309" width="22" height="1" fill="rgb(0,101,0)"/>
<rect x="440" y="309" width="21" height="1" fill="rgb(0,116,0)"/>
<rect x="461" y="309" width="21" height="1" fill="rgb(95,0,0)"/>
<rect x="482" y="309" width="21" height="1" fill="rgb(225,0,0)"/>
<rect x="503" y="309" width="21" height="1" fill="rgb(57,0,0)"/>
<rect x="397" y="310" width="21" height="2" fill="rgb(0,92,0)"/>
<rect x="418" y="310" width="22" height="2" fill="rgb(0,100,0)"/>
<rect x="440" y="310" width="21" height="2" fill="rgb(0,102,0)"/>
<rect x="461" y="310" width="21" height="2" fill="rgb(132,0,0)"/>
<rect x="482" y="310" width="21" height="2" fill="rgb(220,0,0)"/>
<rect x="503" y="310" width="21" height="2" fill="rgb(42,0,0)"/>
<rect x="397" y="312" width="21" height="1" fill="rgb(0,116,0)"/>
<rect x="418" y="312" width="22" height="1" fill="rgb(0,114,0)"/>
<rect x="440" y="312" width="21" height="1" fill="rgb(0,103,0)"/>
<rect x="461" y="312" width="21" height="1" fill="rgb(137,0,0)"/>
<rect x="482" y="312" width="21" height="1" fill="rgb(197,0,0)"/>
<rect x="503" y="312" width="21" height="1" fill="rgb(77,0,0)"/>
<rect x="397" y="313" width="21" height="2" fill="rgb(0,113,0)"/>
<rect x="418" y="313" width="22" height="2" fill="rgb(0,116,0)"/>
<rect x="440" y="313" width="21" height="2" fill="rgb(0,128,0)"/>
<rect x="461" y="313" width="21" height="2" fill="rgb(133,0,0)"/>
<rect x="482" y="313" width="21" height="2" fill="rgb(211,0,0)"/>
<rect x="503" y="313" width="21" height="2" fill="rgb(97,0,0)"/>
<rect x="397" y="315" width="21" height="1" fill="rgb(0,112,0)"/>
<rect x="418" y="315" width="22" height="1" fill="rgb(0,112,0)"/>
<rect x="440" y="315" width="21" height="1" fill="rgb(0,125,0)"/>
<rect x="461" y="315" width="21" height="1" fill="rgb(109,0,0)"/>
<rect x="482" y="315" width="21" height="1" fill="rgb(186,0,0)"/>
<rect x="503" y="315" width="21" height="1" fill="rgb(104,0,0)"/>
<rect x="397" y="316" width="21" height="1" fill="rgb(0,125,0)"/>
<rect x="418" y="316" width="22" height="1" fill="rgb(0,109,0)"/>
<rect x="440" y="316" width="21" height="1" fill="rgb(0,138,0)"/>
<rect x="461" y="316" width="21" height="1" fill="rgb(115,0,0)"/>
<rect x="482" y="316" width="21" height="1" fill="rgb(195,0,0)"/>
<rect x="503" y="316" width="21" height="1" fill="rgb(109,0,0)"/>
<rect x="397" y="317" width="21" height="2" fill="rgb(0,105,0)"/>
<rect x="418" y="317" width="22" height="2" fill="rgb(0,125,0)"/>
<rect x="440" y="317" width="21" height="2" fill="rgb(0,129,0)"/>
<rect x="461" y="317" width="21" height="2" fill="rgb(107,0,0)"/>
<rect x="482" y="317" width="21" height="2" fill="rgb(183,0,0)"/>
<rect x="503" y="317" width="21" height="2" fill="rgb(73,0,0)"/>
<rect x="397" y="319" width="21" height="1" fill="rgb(0,95,0)"/>
<rect x="418" y="319" width="22" height="1" fill="rgb(0,111,0)"/>
<rect x="440" y="319" width="21" height="1" fill="rgb(0,129,0)"/>
<rect x="461" y="319" width="21" height="1" fill="rgb(140,0,0)"/>
<rect x="482" y="319" width="21" height="1" fill="rgb(184,0,0)"/>
<rect x="503" y="319" width="21" height="1" fill="rgb(89,0,0)"/>
<rect x="397" y="320" width="21" height="2" fill="rgb(0,119,0)"/>
<rect x="418" y="320" width="22" height="2" fill="rgb(0,86,0)"/>
<rect x="440" y="320" width="21" height="2" fill="rgb(0,109,0)"/>
<rect x="461" y="320" width="21" height="2" fill="rgb(77,0,0)"/>
<rect x="482" y="320" width="21" height="2" fill="rgb(174,0,0)"/>
<rect x="503" y="320" width="21" height="2" fill="rgb(92,0,0)"/>
<rect x="397" y="322" width="21" height="2" fill="rgb(0,114,0)"/>
<rect x="418" y="322" width="22" height="2" fill="rgb(0,114,0)"/>
<rect x="440" y="322" width="21" height="2" fill="rgb(0,126,0)"/>
<rect x="461" y="322" width="21" height="2" fill="rgb(96,0,0)"/>
<rect x="482" y="322" width="21" height="2" fill="rgb(180,0,0)"/>
<rect x="503" y="322" width="21" height="2" fill="rgb(83,0,0)"/>
<rect x="397" y="324" width="21" height="1" fill="rgb(0,104,0)"/>
<rect x="418" y="324" width="22" height="1" fill="rgb(0,102,0)"/>
<rect x="440" y="324" width="21" height="1" fill="rgb(0,126,0)"/>
<rect x="461" y="324" width="21" height="1" fill="rgb(107,0,0)"/>
<rect x="482" y="324" width="21" height="1" fill="rgb(210,0,0)"/>
<rect x="503" y="324" width="21" height="1" fill="rgb(86,0,0)"/>
<rect x="397" y="325" width="21" height="2" fill="rgb(0,133,0)"/>
<rect x="418" y="325" width="22" height="2" fill="rgb(0,100,0)"/>
<rect x="440" y="325" width="21" height="2" fill="rgb(0,128,0)"/>
<rect x="461" y="325" width="21" height="2" fill="rgb(117,0,0)"/>
<rect x="482" y="325" width="21" height="2" fill="rgb(191,0,0)"/>
<rect x="503" y="325" width="21" height="2" fill="rgb(45,0,0)"/>
<rect x="397" y="327" width="21" height="1" fill="rgb(0,107,0)"/>
<rect x="418" y="327" width="22" height="1" fill="rgb(0,126,0)"/>
<rect x="440" y="327" width="21" height="1" fill="rgb(0,113,0)"/>
<rect x="461" y="327" width="21" height="1" fill="rgb(119,0,0)"/>
<rect x="482" y="327" width="21" height="1" fill="rgb(181,0,0)"/>
<rect x="503" y="327" width="21" height="1" fill="rgb(64,0,0)"/>
<rect x="397" y="328" width="21" height="1" fill="rgb(0,126,0)"/>
<rect x="418" y="328" width="22" height="1" fill="rgb(0,95,0)"/>
<rect x="440" y="328" width="21" height="1" fill="rgb(0,125,0)"/>
<rect x="461" y="328" width="21" height="1" fill="rgb(152,0,0)"/>
<rect x="482" y="328" width="21" height="1" fill="rgb(174,0,0)"/>
<rect x="503" y="328" width="21" height="1" fill="rgb(62,0,0)"/>
<rect x="397" y="329" width="21" height="2" fill="rgb(0,116,0)"/>
<rect x="418" y="329" width="22" height="2" fill="rgb(0,95,0)"/>
<rect x="440" y="329" width="21" height="2" fill="rgb(0,101,0)"/>
<rect x="461" y="329" width="21" height="2" fill="rgb(144,0,0)"/>
<rect x="482" y="329" width="21" height="2" fill="rgb(191,0,0)"/>
<rect x="503" y="329" width="21" height="2" fill="rgb(52,0,0)"/>
<rect x="397" y="331" width="21" height="1" fill="rgb(0,112,0)"/>
<rect x="418" y="331" width="22" height="1" fill="rgb(0,100,0)"/>
<rect x="440" y="331" width="21" height="1" fill="rgb(0,109,0)"/>
<rect x="461" y="331" width="21" height="1" fill="rgb(143,0,0)"/>
<rect x="482" y="331" width="21" height="1" fill="rgb(210,0,0)"/>
<rect x="503" y="331" width="21" height="1" fill="rgb(60,0,0)"/>
<rect x="397" y="332" width="21" height="1" fill="rgb(0,108,0)"/>
<rect x="418" y="332" width="22" height="1" fill="rgb(0,110,0)"/>
<rect x="440" y="332" width="21" height="1" fill="rgb(0,106,0)"/>
<rect x="461" y="332" width="21" height="1" fill="rgb(126,0,0)"/>
<rect x="482" y="332" width="21" height="1" fill="rgb(205,0,0)"/>
<rect x="503" y="332" width="21" height="1" fill="rgb(70,0,0)"/>
<rect x="397" y="333" width="21" height="1" fill="rgb(0,88,0)"/>
<rect x="418" y="333" width="22" height="1" fill="rgb(0,97,0)"/>
<rect x="440" y="333" width="21" height="1" fill="rgb(0,118,0)"/>
<rect x="461" y="333" width="21" height="1" fill="rgb(37,0,0)"/>
<rect x="482" y="333" width="21" height="1" fill="rgb(138,0,0)"/>
<rect x="503" y="333" width="21" height="1" fill="rgb(193,0,0)"/>
<rect x="397" y="334" width="21" height="2" fill="rgb(0,117,0)"/>
<rect x="418" y="334" width="22" height="2" fill="rgb(0,94,0)"/>
<rect x="440" y="334" width="21" height="2" fill="rgb(0,101,0)"/>
<rect x="461" y="334" width="21" height="2" fill="rgb(34,0,0)"/>
<rect x="482" y="334" width="21" height="2" fill="rgb(116,0,0)"/>
<rect x="503" y="334" width="21" height="2" fill="rgb(157,0,0)"/>
<rect x="397" y="336" width="21" height="1" fill="rgb(0,91,0)"/>
<rect x="418" y="336" width="22" height="1" fill="rgb(0,116,0)"/>
<rect x="440" y="336" width="21" height="1" fill="rgb(0,106,0)"/>
<rect x="461" y="336" width="21" height="1" fill="rgb(29,0,0)"/>
<rect x="482" y="336" width="21" height="1" fill="rgb(119,0,0)"/>
<rect x="503" y="336" width="21" height="1" fill="rgb(177,0,0)"/>
<rect x="397" y="337" width="21" height="1" fill="rgb(0,105,0)"/>
<rect x="418" y="337" width="22" height="1" fill="rgb(0,97,0)"/>
<rect x="440" y="337" width="21" height="1" fill="rgb(0,124,0)"/>
<rect x="461" y="337" width="21" height="1" fill="rgb(40,0,0)"/>
<rect x="482" y="337" width="21" height="1" fill="rgb(220,0,0)"/>
<rect x="503" y="337" width="21" height="1" fill="rgb(138,0,0)"/>
<rect x="397" y="338" width="21" height="2" fill="rgb(0,111,0)"/>
<rect x="418" y="338" width="22" height="2" fill="rgb(0,99,0)"/>
<rect x="440" y="338" width="21" height="2" fill="rgb(0,132,0)"/>
<rect x="461" y="338" width="21" height="2" fill="rgb(35,0,0)"/>
<rect x="482" y="338" width="21" height="2" fill="rgb(243,0,0)"/>
<rect x="503" y="338" width="21" height="2" fill="rgb(167,0,0)"/>
<rect x="397" y="340" width="21" height="2" fill="rgb(0,93,0)"/>
<rect x="418" y="340" width="22" height="2" fill="rgb(0,96,0)"/>
<rect x="440" y="340" width="21" height="2" fill="rgb(0,105,0)"/>
<rect x="461" y="340" width="21" height="2" fill="rgb(46,0,0)"/>
<rect x="482" y="340" width="21" height="2" fill="rgb(225,0,0)"/>
<rect x="503" y="340" width="21" height="2" fill="rgb(142,0,0)"/>
<rect x="397" y="342" width="21" height="2" fill="rgb(0,110,0)"/>
<rect x="418" y="342" width="22" height="2" fill="rgb(0,115,0)"/>
<rect x="440" y="342" width="21" height="2" fill="rgb(0,124,0)"/>
<rect x="461" y="342" width="21" height="2" fill="rgb(58,0,0)"/>
<rect x="482" y="342" width="21" height="2" fill="rgb(206,0,0)"/>
<rect x="503" y="342" width="21" height="2" fill="rgb(143,0,0)"/>
<rect x="397" y="344" width="21" height="2" fill="rgb(0,119,0)"/>
<rect x="418" y="344" width="22" height="2" fill="rgb(0,139,0)"/>
<rect x="440" y="344" width="21" height="2" fill="rgb(0,101,0)"/>
<rect x="461" y="344" width="21" height="2" fill="rgb(134,0,0)"/>
<rect x="482" y="344" width="21" height="2" fill="rgb(139,0,0)"/>
<rect x="503" y="344" width="21" height="2" fill="rgb(162,0,0)"/>
<rect x="397" y="346" width="21" height="2" fill="rgb(0,106,0)"/>
<rect x="418" y="346" width="22" height="2" fill="rgb(0,100,0)"/>
<rect x="440" y="346" width="21" height="2" fill="rgb(0,98,0)"/>
<rect x="461" y="346" width="21" height="2" fill="rgb(128,0,0)"/>
<rect x="482" y="346" width="21" height="2" fill="rgb(173,0,0)"/>
<rect x="503" y="346" width="21" height="2" fill="rgb(160,0,0)"/>
<rect x="397" y="348" width="21" height="2" fill="rgb(0,109,0)"/>
<rect x="418" y="348" width="22" height="2" fill="rgb(0,105,0)"/>
<rect x="440" y="348" width="21" height="2" fill="rgb(0,107,0)"/>
<rect x="461" y="348" width="21" height="2" fill="rgb(142,0,0)"/>
<rect x="482" y="348" width="21" height="2" fill="rgb(183,0,0)"/>
<rect x="503" y="348" width="21" height="2" fill="rgb(155,0,0)"/>
<rect x="397" y="350" width="21" height="1" fill="rgb(0,92,0)"/>
<rect x="418" y="350" width="22" height="1" fill="rgb(0,100,0)"/>
<rect x="440" y="350" width="21" height="1" fill="rgb(0,103,0)"/>
<rect x="461" y="350" width="21" height="1" fill="rgb(149,0,0)"/>
<rect x="482" y="350" width="21" height="1" fill="rgb(153,0,0)"/>
<rect x="503" y="350" width="21" height="1" fill="rgb(155,0,0)"/>
<rect x="397" y="351" width="21" height="1" fill="rgb(0,121,0)"/>
<rect x="418" y="351" width="22" height="1" fill="rgb(0,127,0)"/>
<rect x="440" y="351" width="21" height="1" fill="rgb(0,124,0)"/>
<rect x="461" y="351" width="21" height="1" fill="rgb(119,0,0)"/>
<rect x="482" y="351" width="21" height="1" fill="rgb(146,0,0)"/>
<rect x="503" y="351" width="21" height="1" fill="rgb(167,0,0)"/>
<rect x="397" y="352" width="21" height="2" fill="rgb(0,124,0)"/>
<rect x="418" y="352" width="22" height="2" fill="rgb(0,93,0)"/>
<rect x="440" y="352" width="21" height="2" fill="rgb(0,100,0)"/>
<rect x="461" y="352" width="21" height="2" fill="rgb(148,0,0)"/>
<rect x="482" y="352" width="21" height="2" fill="rgb(113,0,0)"/>
<rect x="503" y="352" width="21" height="2" fill="rgb(114,0,0)"/>
<rect x="397" y="354" width="21" height="2" fill="rgb(0,119,0)"/>
<rect x="418" y="354" width="22" height="2" fill="rgb(0,99,0)"/>
<rect x="440" y="354" width="21" height="2" fill="rgb(0,116,0)"/>
<rect x="461" y="354" width="21" height="2" fill="rgb(175,0,0)"/>
<rect x="482" y="354" width="21" height="2" fill="rgb(112,0,0)"/>
<rect x="503" y="354" width="21" height="2" fill="rgb(143,0,0)"/>
<rect x="397" y="356" width="21" height="1" fill="rgb(0,102,0)"/>
<rect x="418" y="356" width="22" height="1" fill="rgb(0,117,0)"/>
<rect x="440" y="356" width="21" height="1" fill="rgb(0,133,0)"/>
<rect x="461" y="356" width="21" height="1" fill="rgb(177,0,0)"/>
<rect x="482" y="356" width="21" height="1" fill="rgb(119,0,0)"/>
<rect x="503" y="356" width="21" height="1" fill="rgb(138,0,0)"/>
<rect x="397" y="357" width="21" height="1" fill="rgb(0,92,0)"/>
<rect x="418" y="357" width="22" height="1" fill="rgb(0,109,0)"/>
<rect x="440" y="357" width="21" height="1" fill="rgb(0,132,0)"/>
<rect x="461" y="357" width="21" height="1" fill="rgb(157,0,0)"/>
<rect x="482" y="357" width="21" height="1" fill="rgb(123,0,0)"/>
<rect x="503" y="357" width="21" height="1" fill="rgb(149,0,0)"/>
<rect x="397" y="358" width="21" height="2" fill="rgb(0,126,0)"/>
<rect x="418" y="358" width="22" height="2" fill="rgb(0,107,0)"/>
<rect x="440" y="358" width="21" height="2" fill="rgb(0,101,0)"/>
<rect x="461" y="358" width="21" height="2" fill="rgb(178,0,0)"/>
<rect x="482" y="358" width="21" height="2" fill="rgb(119,0,0)"/>
<rect x="503" y="358" width="21" height="2" fill="rgb(113,0,0)"/>
<rect x="397" y="360" width="21" height="1" fill="rgb(0,94,0)"/>
<rect x="418" y="360" width="22" height="1" fill="rgb(0,108,0)"/>
<rect x="440" y="360" width="21" height="1" fill="rgb(0,126,0)"/>
<rect x="461" y="360" width="21" height="1" fill="rgb(181,0,0)"/>
<rect x="482" y="360" width="21" height="1" fill="rgb(85,0,0)"/>
<rect x="503" y="360" width="21" height="1" fill="rgb(131,0,0)"/>
<rect x="397" y="361" width="21" height="1" fill="rgb(0,97,0)"/>
<rect x="418" y="361" width="22" height="1" fill="rgb(0,77,0)"/>
<rect x="440" y="361" width="21" height="1" fill="rgb(0,128,0)"/>
<rect x="461" y="361" width="21" height="1" fill="rgb(163,0,0)"/>
<rect x="482" y="361" width="21" height="1" fill="rgb(153,0,0)"/>
<rect x="503" y="361" width="21" height="1" fill="rgb(90,0,0)"/>
<rect x="397" y="362" width="21" height="2" fill="rgb(0,85,0)"/>
<rect x="418" y="362" width="22" height="2" fill="rgb(0,106,0)"/>
<rect x="440" y="362" width="21" height="2" fill="rgb(0,107,0)"/>
<rect x="461" y="362" width="21" height="2" fill="rgb(172,0,0)"/>
<rect x="482" y="362" width="21" height="2" fill="rgb(121,0,0)"/>
<rect x="503" y="362" width="21" height="2" fill="rgb(126,0,0)"/>
<rect x="397" y="364" width="21" height="1" fill="rgb(0,121,0)"/>
<rect x="418" y="364" width="22" height="1" fill="rgb(0,73,0)"/>
<rect x="440" y="364" width="21" height="1" fill="rgb(0,102,0)"/>
<rect x="461" y="364" width="21" height="1" fill="rgb(159,0,0)"/>
<rect x="482" y="364" width="21" height="1" fill="rgb(112,0,0)"/>
<rect x="503" y="364" width="21" height="1" fill="rgb(117,0,0)"/>
<rect x="397" y="365" width="21" height="2" fill="rgb(0,95,0)"/>
<rect x="418" y="365" width="22" height="2" fill="rgb(0,110,0)"/>
<rect x="440" y="365" width="21" height="2" fill="rgb(0,119,0)"/>
<rect x="461" y="365" width="21" height="2" fill="rgb(174,0,0)"/>
<rect x="482" y="365" width="21" height="2" fill="rgb(142,0,0)"/>
<rect x="503" y="365" width="21" height="2" fill="rgb(92,0,0)"/>
<rect x="397" y="367" width="21" height="2" fill="rgb(0,107,0)"/>
<rect x="418" y="367" width="22" height="2" fill="rgb(0,94,0)"/>
<rect x="440" y="367" width="21" height="2" fill="rgb(0,98,0)"/>
<rect x="461" y="367" width="21" height="2" fill="rgb(180,0,0)"/>
<rect x="482" y="367" width="21" height="2" fill="rgb(110,0,0)"/>
<rect x="503" y="367" width="21" height="2" fill="rgb(110,0,0)"/>
<rect x="397" y="369" width="21" height="1" fill="rgb(0,90,0)"/>
<rect x="418" y="369" width="22" height="1" fill="rgb(0,91,0)"/>
<rect x="440" y="369" width="21" height="1" fill="rgb(0,102,0)"/>
<rect x="461" y="369" width="21" height="1" fill="rgb(179,0,0)"/>
<rect x="482" y="369" width="21" height="1" fill="rgb(151,0,0)"/>
<rect x="503" y="369" width="21" height="1" fill="rgb(91,0,0)"/>
<rect x="397" y="370" width="21" height="2" fill="rgb(0,94,0)"/>
<rect x="418" y="370" width="22" height="2" fill="rgb(0,107,0)"/>
<rect x="440" y="370" width="21" height="2" fill="rgb(0,107,0)"/>
<rect x="461" y="370" width="21" height="2" fill="rgb(186,0,0)"/>
<rect x="482" y="370" width="21" height="2" fill="rgb(89,0,0)"/>
<rect x="503" y="370" width="21" height="2" fill="rgb(76,0,0)"/>
<rect x="397" y="372" width="21" height="2" fill="rgb(0,105,0)"/>
<rect x="418" y="372" width="22" height="2" fill="rgb(0,109,0)"/>
<rect x="440" y="372" width="21" height="2" fill="rgb(0,111,0)"/>
<rect x="461" y="372" width="21" height="2" fill="rgb(169,0,0)"/>
<rect x="482" y="372" width="21" height="2" fill="rgb(91,0,0)"/>
<rect x="503" y="372" width="21" height="2" fill="rgb(70,0,0)"/>
<rect x="397" y="374" width="21" height="1" fill="rgb(0,88,0)"/>
<rect x="418" y="374" width="22" height="1" fill="rgb(0,111,0)"/>
<rect x="440" y="374" width="21" height="1" fill="rgb(0,99,0)"/>
<rect x="461" y="374" width="21" height="1" fill="rgb(199,0,0)"/>
<rect x="482" y="374" width="21" height="1" fill="rgb(87,0,0)"/>
<rect x="503" y="374" width="21" height="1" fill="rgb(70,0,0)"/>
<rect x="397" y="375" width="21" height="2" fill="rgb(0,99,0)"/>
<rect x="418" y="375" width="22" height="2" fill="rgb(0,125,0)"/>
<rect x="440" y="375" width="21" height="2" fill="rgb(0,102,0)"/>
<rect x="461" y="375" width="21" height="2" fill="rgb(183,0,0)"/>
<rect x="482" y="375" width="21" height="2" fill="rgb(73,0,0)"/>
<rect x="503" y="375" width="21" height="2" fill="rgb(52,0,0)"/>
<rect x="397" y="377" width="21" height="2" fill="rgb(0,115,0)"/>
<rect x="418" y="377" width="22" height="2" fill="rgb(0,91,0)"/>
<rect x="440" y="377" width="21" height="2" fill="rgb(0,124,0)"/>
<rect x="461" y="377" width="21" height="2" fill="rgb(179,0,0)"/>
<rect x="482" y="377" width="21" height="2" fill="rgb(96,0,0)"/>
<rect x="503" y="377" width="21" height="2" fill="rgb(28,0,0)"/>
<rect x="397" y="379" width="21" height="1" fill="rgb(0,90,0)"/>
<rect x="418" y="379" width="22" height="1" fill="rgb(0,87,0)"/>
<rect x="440" y="379" width="21" height="1" fill="rgb(0,135,0)"/>
<rect x="461" y="379" width="21" height="1" fill="rgb(141,0,0)"/>
<rect x="482" y="379" width="21" height="1" fill="rgb(113,0,0)"/>
<rect x="503" y="379" width="21" height="1" fill="rgb(28,0,0)"/>
<rect x="397" y="380" width="21" height="2" fill="rgb(0,123,0)"/>
<rect x="418" y="380" width="22" height="2" fill="rgb(0,113,0)"/>
<rect x="440" y="380" width="21" height="2" fill="rgb(0,127,0)"/>
<rect x="461" y="380" width="21" height="2" fill="rgb(168,0,0)"/>
<rect x="482" y="380" width="21" height="2" fill="rgb(126,0,0)"/>
<rect x="503" y="380" width="21" height="2" fill="rgb(23,0,0)"/>
<rect x="397" y="382" width="21" height="1" fill="rgb(0,114,0)"/>
<rect x="418" y="382" width="22" height="1" fill="rgb(0,116,0)"/>
<rect x="440" y="382" width="21" height="1" fill="rgb(0,111,0)"/>
<rect x="461" y="382" width="21" height="1" fill="rgb(194,0,0)"/>
<rect x="482" y="382" width="21" height="1" fill="rgb(103,0,0)"/>
<rect x="503" y="382" width="21" height="1" fill="rgb(89,0,0)"/>
<rect x="397" y="383" width="21" height="1" fill="rgb(0,124,0)"/>
<rect x="418" y="383" width="22" height="1" fill="rgb(0,153,0)"/>
<rect x="440" y="383" width="21" height="1" fill="rgb(0,121,0)"/>
<rect x="461" y="383" width="21" height="1" fill="rgb(180,0,0)"/>
<rect x="482" y="383" width="21" height="1" fill="rgb(130,0,0)"/>
<rect x="503" y="383" width="21" height="1" fill="rgb(90,0,0)"/>
<rect x="397" y="384" width="21" height="1" fill="rgb(0,138,0)"/>
<rect x="418" y="384" width="22" height="1" fill="rgb(0,113,0)"/>
<rect x="440" y="384" width="21" height="1" fill="rgb(0,112,0)"/>
<rect x="461" y="384" width="21" height="1" fill="rgb(168,0,0)"/>
<rect x="482" y="384" width="21" height="1" fill="rgb(131,0,0)"/>
<rect x="503" y="384" width="21" height="1" fill="rgb(97,0,0)"/>
<rect x="397" y="385" width="21" height="2" fill="rgb(0,126,0)"/>
<rect x="418" y="385" width="22" height="2" fill="rgb(0,128,0)"/>
<rect x="440" y="385" width="21" height="2" fill="rgb(0,120,0)"/>
<rect x="461" y="385" width="21" height="2" fill="rgb(170,0,0)"/>
<rect x="482" y="385" width="21" height="2" fill="rgb(127,0,0)"/>
<rect x="503" y="385" width="21" height="2" fill="rgb(98,0,0)"/>
<rect x="397" y="387" width="21" height="2" fill="rgb(0,88,0)"/>
<rect x="418" y="387" width="22" height="2" fill="rgb(0,120,0)"/>
<rect x="440" y="387" width="21" height="2" fill="rgb(0,88,0)"/>
<rect x="461" y="387" width="21" height="2" fill="rgb(205,0,0)"/>
<rect x="482" y="387" width="21" height="2" fill="rgb(128,0,0)"/>
<rect x="503" y="387" width="21" height="2" fill="rgb(17,0,0)"/>
<rect x="397" y="389" width="21" height="2" fill="rgb(0,111,0)"/>
<rect x="418" y="389" width="22" height="2" fill="rgb(0,110,0)"/>
<rect x="440" y="389" width="21" height="2" fill="rgb(0,96,0)"/>
<rect x="461" y="389" width="21" height="2" fill="rgb(177,0,0)"/>
<rect x="482" y="389" width="21" height="2" fill="rgb(136,0,0)"/>
<rect x="503" y="389" width="21" height="2" fill="rgb(15,0,0)"/>
<rect x="397" y="391" width="21" height="2" fill="rgb(0,107,0)"/>
<rect x="418" y="391" width="22" height="2" fill="rgb(0,88,0)"/>
<rect x="440" y="391" width="21" height="2" fill="rgb(0,101,0)"/>
<rect x="461" y="391" width="21" height="2" fill="rgb(174,0,0)"/>
<rect x="482" y="391" width="21" height="2" fill="rgb(144,0,0)"/>
<rect x="503" y="391" width="21" height="2" fill="rgb(26,0,0)"/>
<rect x="397" y="393" width="21" height="1" fill="rgb(0,86,0)"/>
<rect x="418" y="393" width="22" height="1" fill="rgb(0,118,0)"/>
<rect x="440" y="393" width="21" height="1" fill="rgb(0,87,0)"/>
<rect x="461" y="393" width="21" height="1" fill="rgb(177,0,0)"/>
<rect x="482" y="393" width="21" height="1" fill="rgb(147,0,0)"/>
<rect x="503" y="393" width="21" height="1" fill="rgb(19,0,0)"/>
<rect x="397" y="394" width="21" height="1" fill="rgb(0,93,0)"/>
<rect x="418" y="394" width="22" height="1" fill="rgb(0,37,0)"/>
<rect x="440" y="394" width="21" height="1" fill="rgb(0,113,0)"/>
<rect x="461" y="394" width="21" height="1" fill="rgb(240,0,0)"/>
<rect x="482" y="394" width="21" height="1" fill="rgb(59,0,0)"/>
<rect x="503" y="394" width="21" height="1" fill="rgb(0,33,0)"/>
<rect x="397" y="395" width="21" height="1" fill="rgb(0,124,0)"/>
<rect x="418" y="395" width="22" height="1" fill="rgb(0,60,0)"/>
<rect x="440" y="395" width="21" height="1" fill="rgb(0,126,0)"/>
<rect x="461" y="395" width="21" height="1" fill="rgb(250,0,0)"/>
<rect x="482" y="395" width="21" height="1" fill="rgb(44,0,0)"/>
<rect x="503" y="395" width="21" height="1" fill="rgb(0,25,0)"/>
<rect x="397" y="396" width="21" height="2" fill="rgb(0,86,0)"/>
<rect x="418" y="396" width="22" height="2" fill="rgb(0,39,0)"/>
<rect x="440" y="396" width="21" height="2" fill="rgb(0,91,0)"/>
<rect x="461" y="396" width="21" height="2" fill="rgb(230,0,0)"/>
<rect x="482" y="396" width="21" height="2" fill="rgb(70,0,0)"/>
<rect x="503" y="396" width="21" height="2" fill="rgb(0,37,0)"/>
<rect x="397" y="398" width="21" height="2" fill="rgb(0,90,0)"/>
<rect x="418" y="398" width="22" height="2" fill="rgb(0,54,0)"/>
<rect x="440" y="398" width="21" height="2" fill="rgb(0,99,0)"/>
<rect x="461" y="398" width="21" height="2" fill="rgb(226,0,0)"/>
<rect x="482" y="398" width="21" height="2" fill="rgb(53,0,0)"/>
<rect x="503" y="398" width="21" height="2" fill="rgb(0,35,0)"/>
<rect x="397" y="400" width="21" height="1" fill="rgb(0,92,0)"/>
<rect x="418" y="400" width="22" height="1" fill="rgb(0,52,0)"/>
<rect x="440" y="400" width="21" height="1" fill="rgb(0,88,0)"/>
<rect x="461" y="400" width="21" height="1" fill="rgb(233,0,0)"/>
<rect x="482" y="400" width="21" height="1" fill="rgb(73,0,0)"/>
<rect x="503" y="400" width="21" height="1" fill="rgb(0,41,0)"/>
<rect x="397" y="401" width="21" height="1" fill="rgb(0,100,0)"/>
<rect x="418" y="401" width="22" height="1" fill="rgb(0,111,0)"/>
<rect x="440" y="401" width="21" height="1" fill="rgb(0,103,0)"/>
<rect x="461" y="401" width="21" height="1" fill="rgb(76,0,0)"/>
<rect x="482" y="401" width="21" height="1" fill="rgb(73,0,0)"/>
<rect x="503" y="401" width="21" height="1" fill="rgb(197,0,0)"/>
<rect x="397" y="402" width="21" height="1" fill="rgb(0,105,0)"/>
<rect x="418" y="402" width="22" height="1" fill="rgb(0,107,0)"/>
<rect x="440" y="402" width="21" height="1" fill="rgb(0,109,0)"/>
<rect x="461" y="402" width="21" height="1" fill="rgb(97,0,0)"/>
<rect x="482" y="402" width="21" height="1" fill="rgb(74,0,0)"/>
<rect x="503" y="402" width="21" height="1" fill="rgb(206,0,0)"/>
<rect x="397" y="403" width="21" height="1" fill="rgb(0,105,0)"/>
<rect x="418" y="403" width="22" height="1" fill="rgb(0,132,0)"/>
<rect x="440" y="403" width="21" height="1" fill="rgb(0,120,0)"/>
<rect x="461" y="403" width="21" height="1" fill="rgb(90,0,0)"/>
<rect x="482" y="403" width="21" height="1" fill="rgb(43,0,0)"/>
<rect x="503" y="403" width="21" height="1" fill="rgb(236,0,0)"/>
<rect x="397" y="404" width="21" height="1" fill="rgb(0,108,0)"/>
<rect x="418" y="404" width="22" height="1" fill="rgb(0,139,0)"/>
<rect x="440" y="404" width="21" height="1" fill="rgb(0,109,0)"/>
<rect x="461" y="404" width="21" height="1" fill="rgb(110,0,0)"/>
<rect x="482" y="404" width="21" height="1" fill="rgb(64,0,0)"/>
<rect x="503" y="404" width="21" height="1" fill="rgb(240,0,0)"/>
<rect x="397" y="405" width="21" height="1" fill="rgb(0,110,0)"/>
<rect x="418" y="405" width="22" height="1" fill="rgb(0,108,0)"/>
<rect x="440" y="405" width="21" height="1" fill="rgb(0,127,0)"/>
<rect x="461" y="405" width="21" height="1" fill="rgb(103,0,0)"/>
<rect x="482" y="405" width="21" height="1" fill="rgb(49,0,0)"/>
<rect x="503" y="405" width="21" height="1" fill="rgb(208,0,0)"/>
<rect x="397" y="406" width="21" height="2" fill="rgb(0,113,0)"/>
<rect x="418" y="406" width="22" height="2" fill="rgb(0,111,0)"/>
<rect x="440" y="406" width="21" height="2" fill="rgb(0,148,0)"/>
<rect x="461" y="406" width="21" height="2" fill="rgb(193,0,0)"/>
<rect x="482" y="406" width="21" height="2" fill="rgb(15,0,0)"/>
<rect x="503" y="406" width="21" height="2" fill="rgb(167,0,0)"/>
<rect x="397" y="408" width="21" height="1" fill="rgb(0,92,0)"/>
<rect x="418" y="408" width="22" height="1" fill="rgb(0,99,0)"/>
<rect x="440" y="408" width="21" height="1" fill="rgb(0,123,0)"/>
<rect x="461" y="408" width="21" height="1" fill="rgb(222,0,0)"/>
<rect x="482" y="408" width="21" height="1" fill="rgb(10,0,0)"/>
<rect x="503" y="408" width="21" height="1" fill="rgb(193,0,0)"/>
<rect x="397" y="409" width="21" height="2" fill="rgb(0,119,0)"/>
<rect x="418" y="409" width="22" height="2" fill="rgb(0,76,0)"/>
<rect x="440" y="409" width="21" height="2" fill="rgb(0,119,0)"/>
<rect x="461" y="409" width="21" height="2" fill="rgb(206,0,0)"/>
<rect x="482" y="409" width="21" height="2" fill="rgb(24,0,0)"/>
<rect x="503" y="409" width="21" height="2" fill="rgb(205,0,0)"/>
<rect x="397" y="411" width="21" height="2" fill="rgb(0,90,0)"/>
<rect x="418" y="411" width="22" height="2" fill="rgb(0,91,0)"/>
<rect x="440" y="411" width="21" height="2" fill="rgb(0,141,0)"/>
<rect x="461" y="411" width="21" height="2" fill="rgb(193,0,0)"/>
<rect x="482" y="411" width="21" height="2" fill="rgb(25,0,0)"/>
<rect x="503" y="411" width="21" height="2" fill="rgb(170,0,0)"/>
<rect x="397" y="413" width="21" height="1" fill="rgb(0,109,0)"/>
<rect x="418" y="413" width="22" height="1" fill="rgb(0,76,0)"/>
<rect x="440" y="413" width="21" height="1" fill="rgb(0,112,0)"/>
<rect x="461" y="413" width="21" height="1" fill="rgb(218,0,0)"/>
<rect x="482" y="413" width="21" height="1" fill="rgb(12,0,0)"/>
<rect x="503" y="413" width="21" height="1" fill="rgb(177,0,0)"/>
<rect x="397" y="414" width="21" height="1" fill="rgb(0,87,0)"/>
<rect x="418" y="414" width="22" height="1" fill="rgb(0,87,0)"/>
<rect x="440" y="414" width="21" height="1" fill="rgb(0,138,0)"/>
<rect x="461" y="414" width="21" height="1" fill="rgb(219,0,0)"/>
<rect x="482" y="414" width="21" height="1" fill="rgb(22,0,0)"/>
<rect x="503" y="414" width="21" height="1" fill="rgb(193,0,0)"/>
<rect x="397" y="415" width="21" height="2" fill="rgb(0,99,0)"/>
<rect x="418" y="415" width="22" height="2" fill="rgb(0,100,0)"/>
<rect x="440" y="415" width="21" height="2" fill="rgb(0,136,0)"/>
<rect x="461" y="415" width="21" height="2" fill="rgb(211,0,0)"/>
<rect x="482" y="415" width="21" height="2" fill="rgb(30,0,0)"/>
<rect x="503" y="415" width="21" height="2" fill="rgb(159,0,0)"/>
<rect x="397" y="417" width="21" height="2" fill="rgb(0,129,0)"/>
<rect x="418" y="417" width="22" height="2" fill="rgb(0,87,0)"/>
<rect x="440" y="417" width="21" height="2" fill="rgb(0,131,0)"/>
<rect x="461" y="417" width="21" height="2" fill="rgb(206,0,0)"/>
<rect x="482" y="417" width="21" height="2" fill="rgb(18,0,0)"/>
<rect x="503" y="417" width="21" height="2" fill="rgb(165,0,0)"/>
<rect x="397" y="419" width="21" height="1" fill="rgb(0,118,0)"/>
<rect x="418" y="419" width="22" height="1" fill="rgb(0,98,0)"/>
<rect x="440" y="419" width="21" height="1" fill="rgb(0,115,0)"/>
<rect x="461" y="419" width="21" height="1" fill="rgb(210,0,0)"/>
<rect x="482" y="419" width="21" height="1" fill="rgb(26,0,0)"/>
<rect x="503" y="419" width="21" height="1" fill="rgb(194,0,0)"/>
<rect x="397" y="420" width="21" height="1" fill="rgb(0,139,0)"/>
<rect x="418" y="420" width="22" height="1" fill="rgb(0,91,0)"/>
<rect x="440" y="420" width="21" height="1" fill="rgb(0,133,0)"/>
<rect x="461" y="420" width="21" height="1" fill="rgb(200,0,0)"/>
<rect x="482" y="420" width="21" height="1" fill="rgb(38,0,0)"/>
<rect x="503" y="420" width="21" height="1" fill="rgb(193,0,0)"/>
<rect x="397" y="421" width="21" height="1" fill="rgb(0,127,0)"/>
<rect x="418" y="421" width="22" height="1" fill="rgb(0,104,0)"/>
<rect x="440" y="421" width="21" height="1" fill="rgb(0,111,0)"/>
<rect x="461" y="421" width="21" height="1" fill="rgb(202,0,0)"/>
<rect x="482" y="421" width="21" height="1" fill="rgb(40,0,0)"/>
<rect x="503" y="421" width="21" height="1" fill="rgb(198,0,0)"/>
<rect x="397" y="422" width="21" height="2" fill="rgb(0,96,0)"/>
<rect x="418" y="422" width="22" height="2" fill="rgb(0,93,0)"/>
<rect x="440" y="422" width="21" height="2" fill="rgb(0,146,0)"/>
<rect x="461" y="422" width="21" height="2" fill="rgb(167,0,0)"/>
<rect x="482" y="422" width="21" height="2" fill="rgb(39,0,0)"/>
<rect x="503" y="422" width="21" height="2" fill="rgb(70,0,0)"/>
<rect x="397" y="424" width="21" height="1" fill="rgb(0,79,0)"/>
<rect x="418" y="424" width="22" height="1" fill="rgb(0,93,0)"/>
<rect x="440" y="424" width="21" height="1" fill="rgb(0,158,0)"/>
<rect x="461" y="424" width="21" height="1" fill="rgb(129,0,0)"/>
<rect x="482" y="424" width="21" height="1" fill="rgb(51,0,0)"/>
<rect x="503" y="424" width="21" height="1" fill="rgb(70,0,0)"/>
<rect x="397" y="425" width="21" height="2" fill="rgb(0,113,0)"/>
<rect x="418" y="425" width="22" height="2" fill="rgb(0,112,0)"/>
<rect x="440" y="425" width="21" height="2" fill="rgb(0,166,0)"/>
<rect x="461" y="425" width="21" height="2" fill="rgb(148,0,0)"/>
<rect x="482" y="425" width="21" height="2" fill="rgb(42,0,0)"/>
<rect x="503" y="425" width="21" height="2" fill="rgb(80,0,0)"/>
</g>
<text class="t" transform="translate(406.22,429.4) rotate(90) scale(0.43)" font-size="10" fill="#444">DM1-1</text>
<text class="t" transform="translate(427.45,429.4) rotate(90) scale(0.43)" font-size="10" fill="#444">DM1-2</text>
<text class="t" transform="translate(448.68,429.4) rotate(90) scale(0.43)" font-size="10" fill="#444">DM1-3</text>
<text class="t" transform="translate(469.92,429.4) rotate(90) scale(0.43)" font-size="10" fill="#444">DM5-1</text>
<text class="t" transform="translate(491.15,429.4) rotate(90) scale(0.43)" font-size="10" fill="#444">DM5-2</text>
<text class="t" transform="translate(512.38,429.4) rotate(90) scale(0.43)" font-size="10" fill="#444">DM5-3</text>
<defs><linearGradient id="gE" x1="0" y1="0" x2="0" y2="1"><stop offset="0" stop-color="#FF0000"/><stop offset="0.5" stop-color="#000000"/><stop offset="1" stop-color="#00FF00"/></linearGradient></defs>
<rect x="527.5" y="257" width="4.2" height="62" fill="url(#gE)"/>
<text x="533.50" y="265.20" class="t" font-size="4.5" fill="#333">1.5</text>
<text x="533.50" y="273.10" class="t" font-size="4.5" fill="#333">1</text>
<text x="533.50" y="281.30" class="t" font-size="4.5" fill="#333">0.5</text>
<text x="533.50" y="289.70" class="t" font-size="4.5" fill="#333">0</text>
<text x="533.50" y="298.00" class="t" font-size="4.5" fill="#333">-0.5</text>
<text x="533.50" y="306.10" class="t" font-size="4.5" fill="#333">-1</text>
<text x="533.50" y="314.50" class="t" font-size="4.5" fill="#333">-1.5</text>
<path d="M428.95,257 V252.8 H450.18 V257" stroke="#666" stroke-width="0.7" fill="none"/><path d="M407.72,257 V251.6 H439.57 V252.8" stroke="#666" stroke-width="0.7" fill="none"/><path d="M492.65,257 V250.6 H513.88 V257" stroke="#666" stroke-width="0.7" fill="none"/><path d="M471.42,257 V249.2 H503.27 V250.6" stroke="#666" stroke-width="0.7" fill="none"/><path d="M423.64,251.6 V235.2 H487.34 V249.2" stroke="#666" stroke-width="0.7" fill="none"/>
<path d="M396.50,260.00 H394.16 V262.00 H396.50 M396.50,270.00 H394.54 V272.00 H396.50 M396.50,268.00 H393.94 V271.00 H394.54 M396.50,266.00 H393.34 V269.50 H393.94 M396.50,264.00 H392.74 V267.75 H393.34 M394.16,261.00 H392.14 V265.88 H392.74 M396.50,282.00 H394.36 V284.00 H396.50 M396.50,286.00 H394.36 V288.00 H396.50 M394.36,283.00 H393.76 V287.00 H394.36 M396.50,294.00 H395.56 V296.00 H396.50 M396.50,300.00 H396.16 V301.50 H396.50 M396.50,298.00 H395.56 V300.75 H396.16 M395.56,295.00 H394.96 V299.38 H395.56 M396.50,292.00 H394.36 V297.19 H394.96 M396.50,290.00 H393.76 V294.59 H394.36 M393.76,285.00 H393.16 V292.30 H393.76 M396.50,280.00 H392.56 V288.65 H393.16 M396.50,278.00 H391.96 V284.32 H392.56 M396.50,276.00 H391.36 V281.16 H391.96 M396.50,274.00 H390.76 V278.58 H391.36 M392.14,263.44 H386.00 V276.29 H390.76 M396.50,258.00 H384.10 V269.86 H386.00 M396.50,311.00 H393.68 V313.00 H396.50 M396.50,315.00 H393.95 V317.00 H396.50 M396.50,321.00 H394.31 V323.00 H396.50 M396.50,319.00 H393.42 V322.00 H394.31 M393.95,316.00 H392.82 V320.50 H393.42 M393.68,312.00 H392.22 V318.25 H392.82 M396.50,309.00 H391.62 V315.12 H392.22 M396.50,325.00 H393.54 V327.00 H396.50 M396.50,335.00 H395.80 V337.00 H396.50 M396.50,333.00 H395.20 V336.00 H395.80 M395.20,334.50 H394.60 V339.00 H396.50 M396.50,343.00 H395.20 V345.00 H396.50 M396.50,341.00 H394.60 V344.00 H395.20 M394.60,336.75 H394.00 V342.50 H394.60 M394.00,339.62 H393.40 V347.00 H396.50 M393.40,343.31 H392.80 V349.00 H396.50 M396.50,331.00 H392.20 V346.16 H392.80 M396.50,329.00 H391.60 V338.58 H392.20 M393.54,326.00 H391.00 V333.79 H391.60 M391.62,312.06 H390.40 V329.89 H391.00 M396.50,307.00 H389.80 V320.98 H390.40 M396.50,305.00 H389.20 V313.99 H389.80 M389.20,309.49 H388.60 V351.00 H396.50 M396.50,303.00 H388.00 V330.25 H388.60 M396.50,355.00 H393.70 V357.00 H396.50 M396.50,353.00 H393.01 V356.00 H393.70 M396.50,359.00 H393.66 V361.00 H396.50 M396.50,363.00 H394.09 V365.00 H396.50 M393.66,360.00 H392.90 V364.00 H394.09 M393.01,354.50 H392.24 V362.00 H392.90 M396.50,367.00 H393.60 V369.00 H396.50 M392.24,358.25 H391.64 V368.00 H393.60 M396.50,371.00 H394.34 V373.00 H396.50 M396.50,377.00 H394.31 V379.00 H396.50 M396.50,375.00 H393.71 V378.00 H394.31 M394.34,372.00 H393.11 V376.50 H393.71 M391.64,363.12 H389.28 V374.25 H393.11 M396.50,381.00 H393.62 V383.00 H396.50 M389.28,368.69 H388.27 V382.00 H393.62 M396.50,387.00 H393.46 V389.00 H396.50 M396.50,391.00 H394.37 V393.00 H396.50 M394.37,392.00 H392.97 V395.00 H396.50 M396.50,397.00 H394.22 V399.00 H396.50 M396.50,401.00 H394.22 V403.00 H396.50 M394.22,398.00 H393.62 V402.00 H394.22 M393.62,400.00 H393.02 V405.00 H396.50 M392.97,393.50 H390.96 V402.50 H393.02 M393.46,388.00 H390.36 V398.00 H390.96 M396.50,385.00 H389.76 V393.00 H390.36 M388.27,375.34 H387.00 V389.00 H389.76 M396.50,409.00 H393.71 V411.00 H396.50 M396.50,407.00 H393.07 V410.00 H393.71 M396.50,415.00 H394.14 V417.00 H396.50 M396.50,413.00 H393.54 V416.00 H394.14 M393.54,414.50 H392.80 V419.00 H396.50 M392.80,416.75 H391.65 V421.00 H396.50 M393.07,408.50 H390.92 V418.88 H391.65 M396.50,425.00 H394.63 V426.50 H396.50 M396.50,423.00 H394.03 V425.75 H394.63 M390.92,413.69 H390.32 V424.38 H394.03 M387.00,382.17 H383.50 V419.03 H390.32 M388.00,316.62 H382.10 V400.60 H383.50 M384.10,263.93 H375.20 V358.61 H382.10" stroke="#8a8a8a" stroke-width="0.55" fill="none"/></svg>
</body></html>
